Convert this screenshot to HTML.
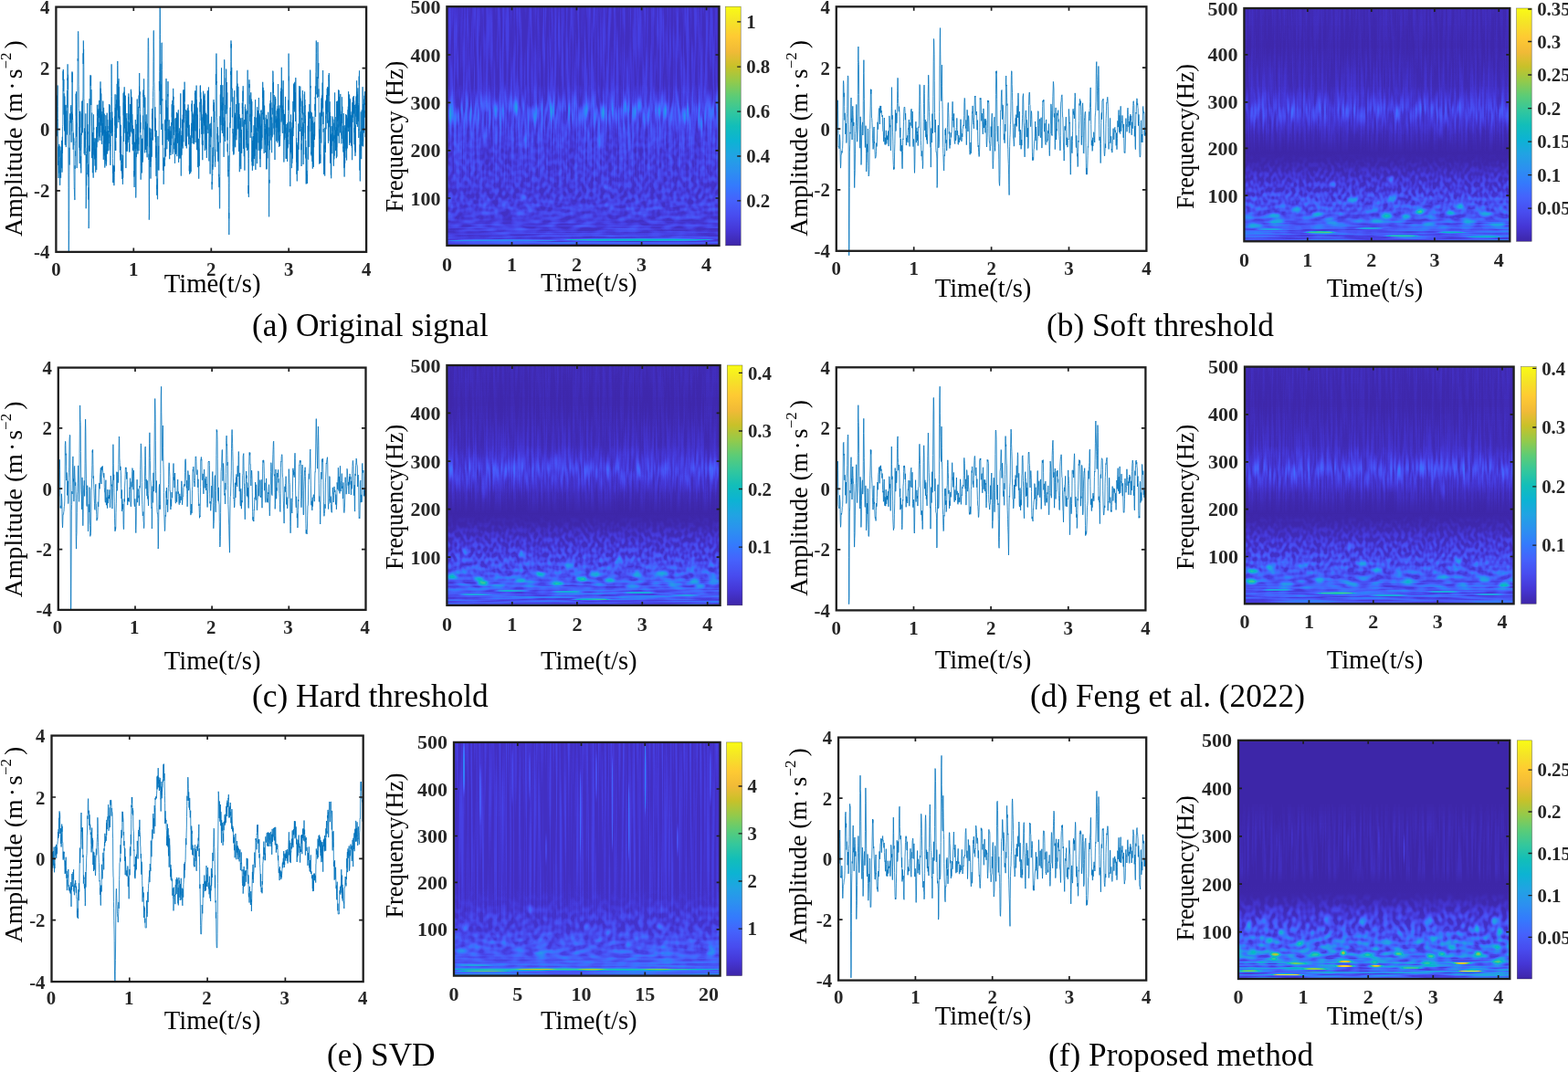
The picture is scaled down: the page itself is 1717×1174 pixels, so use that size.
<!DOCTYPE html>
<html lang="en"><head><meta charset="utf-8"><title>Signal denoising comparison</title>
<style>html,body{margin:0;padding:0;background:#fff}body{width:1717px;height:1174px;overflow:hidden}svg{display:block}text{font-family:"Liberation Serif", serif;fill:#000}.tk{font-weight:bold;font-size:20.8px;fill:#262626}.al{font-size:28.7px}.yl{font-size:27.9px}.yf{font-size:26.3px}.ts{font-size:22px}.cp{font-size:35.3px}.sg{fill:none;stroke:#0072bd;stroke-width:0.8;stroke-linejoin:round}.ax{fill:none;stroke:#1e1e1e;stroke-width:2.3}.t{stroke:#1e1e1e;stroke-width:1.7;fill:none}</style></head><body>
<svg width="1717" height="1174" viewBox="0 0 1717 1174">
<defs>
<linearGradient id="cb" x1="0" y1="1" x2="0" y2="0"><stop offset="0%" stop-color="#3e26a8"/><stop offset="6.2%" stop-color="#4536d5"/><stop offset="12.5%" stop-color="#484cef"/><stop offset="18.8%" stop-color="#4562fc"/><stop offset="25%" stop-color="#347afd"/><stop offset="31.2%" stop-color="#2c90f0"/><stop offset="37.5%" stop-color="#21a3e3"/><stop offset="43.8%" stop-color="#0cb3d3"/><stop offset="50%" stop-color="#12beb9"/><stop offset="56.2%" stop-color="#34c79c"/><stop offset="62.5%" stop-color="#5ccc76"/><stop offset="68.8%" stop-color="#94ca4a"/><stop offset="75%" stop-color="#c8c129"/><stop offset="81.2%" stop-color="#f1ba37"/><stop offset="87.5%" stop-color="#feca33"/><stop offset="93.8%" stop-color="#f5e327"/><stop offset="100%" stop-color="#f9fb15"/></linearGradient>
<filter id="pm" x="0" y="0" width="100%" height="100%" color-interpolation-filters="sRGB"><feComponentTransfer><feFuncR type="table" tableValues=".242 .258 .27 .278 .281 .28 .271 .248 .202 .18 .171 .149 .13 .102 .047 .005 .07 .155 .204 .265 .359 .466 .579 .687 .785 .872 .946 .996 .994 .978 .961 .963 .977"/><feFuncG type="table" tableValues=".15 .181 .214 .254 .298 .341 .385 .431 .479 .523 .564 .603 .639 .673 .702 .726 .746 .762 .78 .794 .802 .801 .792 .777 .757 .739 .729 .747 .792 .841 .891 .938 .984"/><feFuncB type="table" tableValues=".66 .75 .834 .896 .939 .97 .989 .998 .991 .971 .941 .913 .892 .867 .826 .778 .726 .671 .611 .541 .463 .376 .291 .214 .162 .163 .216 .234 .201 .175 .153 .126 .081"/></feComponentTransfer></filter><linearGradient id="ga" x1="0" y1="0" x2="0" y2="1"><stop offset=".002" stop-color="rgb(8,8,8)"/><stop offset=".342" stop-color="rgb(8,8,8)"/><stop offset=".412" stop-color="rgb(11,11,11)"/><stop offset=".462" stop-color="rgb(11,11,11)"/><stop offset=".522" stop-color="rgb(9,9,9)"/><stop offset=".702" stop-color="rgb(9,9,9)"/><stop offset=".802" stop-color="rgb(10,10,10)"/><stop offset=".922" stop-color="rgb(10,10,10)"/><stop offset=".982" stop-color="rgb(13,13,13)"/><stop offset=".998" stop-color="rgb(20,20,20)"/></linearGradient><linearGradient id="ea0" x1="0" y1="0" x2="0" y2="1"><stop offset=".002" stop-color="#fff" stop-opacity=".06"/><stop offset=".342" stop-color="#fff" stop-opacity=".065"/><stop offset=".402" stop-color="#fff" stop-opacity=".08"/><stop offset=".502" stop-color="#fff" stop-opacity=".09"/><stop offset=".562" stop-color="#fff" stop-opacity=".09"/><stop offset=".702" stop-color="#fff" stop-opacity=".05"/><stop offset=".802" stop-color="#fff" stop-opacity="0"/></linearGradient><filter id="fa0" x="0" y="0" width="100%" height="100%" color-interpolation-filters="sRGB"><feTurbulence type="fractalNoise" baseFrequency="0.4 0.015" numOctaves="2" seed="3"/><feColorMatrix type="matrix" values="0 0 0 0 1  0 0 0 0 1  0 0 0 0 1  3.4 0 0 0 -1.258"/><feComposite in2="SourceGraphic" operator="in"/></filter><linearGradient id="ea1" x1="0" y1="0" x2="0" y2="1"><stop offset=".322" stop-color="#fff" stop-opacity="0"/><stop offset=".392" stop-color="#fff" stop-opacity=".1"/><stop offset=".432" stop-color="#fff" stop-opacity=".2"/><stop offset=".472" stop-color="#fff" stop-opacity=".16"/><stop offset=".522" stop-color="#fff" stop-opacity=".08"/><stop offset=".602" stop-color="#fff" stop-opacity="0"/></linearGradient><filter id="fa1" x="0" y="0" width="100%" height="100%" color-interpolation-filters="sRGB"><feTurbulence type="fractalNoise" baseFrequency="0.4 0.05" numOctaves="1" seed="4"/><feColorMatrix type="matrix" values="0 0 0 0 1  0 0 0 0 1  0 0 0 0 1  3 0 0 0 -1.14"/><feComposite in2="SourceGraphic" operator="in"/></filter><linearGradient id="ea2" x1="0" y1="0" x2="0" y2="1"><stop offset=".482" stop-color="#fff" stop-opacity="0"/><stop offset=".582" stop-color="#fff" stop-opacity=".06"/><stop offset=".702" stop-color="#fff" stop-opacity=".09"/><stop offset=".802" stop-color="#fff" stop-opacity=".11"/><stop offset=".862" stop-color="#fff" stop-opacity=".06"/><stop offset=".912" stop-color="#fff" stop-opacity="0"/></linearGradient><filter id="fa2" x="0" y="0" width="100%" height="100%" color-interpolation-filters="sRGB"><feTurbulence type="fractalNoise" baseFrequency="0.24 0.16" numOctaves="1" seed="8"/><feColorMatrix type="matrix" values="0 0 0 0 1  0 0 0 0 1  0 0 0 0 1  3 0 0 0 -1.08"/><feComposite in2="SourceGraphic" operator="in"/></filter><linearGradient id="ea3" x1="0" y1="0" x2="0" y2="1"><stop offset=".782" stop-color="#fff" stop-opacity="0"/><stop offset=".842" stop-color="#fff" stop-opacity=".1"/><stop offset=".902" stop-color="#fff" stop-opacity=".12"/><stop offset=".952" stop-color="#fff" stop-opacity=".05"/><stop offset=".998" stop-color="#fff" stop-opacity="0"/></linearGradient><filter id="fa3" x="0" y="0" width="100%" height="100%" color-interpolation-filters="sRGB"><feTurbulence type="fractalNoise" baseFrequency="0.08 0.22" numOctaves="1" seed="9"/><feColorMatrix type="matrix" values="0 0 0 0 1  0 0 0 0 1  0 0 0 0 1  3 0 0 0 -1.14"/><feComposite in2="SourceGraphic" operator="in"/></filter><linearGradient id="ea4" x1="0" y1="0" x2="0" y2="1"><stop offset=".882" stop-color="#fff" stop-opacity="0"/><stop offset=".932" stop-color="#fff" stop-opacity=".08"/><stop offset=".978" stop-color="#fff" stop-opacity=".1"/><stop offset=".998" stop-color="#fff" stop-opacity=".12"/></linearGradient><filter id="fa4" x="0" y="0" width="100%" height="100%" color-interpolation-filters="sRGB"><feTurbulence type="fractalNoise" baseFrequency="0.015 0.45" numOctaves="2" seed="5"/><feColorMatrix type="matrix" values="0 0 0 0 1  0 0 0 0 1  0 0 0 0 1  3 0 0 0 -1.08"/><feComposite in2="SourceGraphic" operator="in"/></filter><linearGradient id="gb" x1="0" y1="0" x2="0" y2="1"><stop offset="0" stop-color="rgb(3,3,3)"/><stop offset=".161" stop-color="rgb(1,1,1)"/><stop offset=".322" stop-color="rgb(4,4,4)"/><stop offset=".402" stop-color="rgb(8,8,8)"/><stop offset=".432" stop-color="rgb(9,9,9)"/><stop offset=".472" stop-color="rgb(8,8,8)"/><stop offset=".543" stop-color="rgb(3,3,3)"/><stop offset=".603" stop-color="rgb(0,0,0)"/><stop offset=".663" stop-color="rgb(1,1,1)"/><stop offset=".723" stop-color="rgb(6,6,6)"/><stop offset=".804" stop-color="rgb(11,11,11)"/><stop offset=".864" stop-color="rgb(15,15,15)"/><stop offset=".924" stop-color="rgb(18,18,18)"/><stop offset="1" stop-color="rgb(20,20,20)"/></linearGradient><linearGradient id="eb0" x1="0" y1="0" x2="0" y2="1"><stop offset="0" stop-color="#fff" stop-opacity=".03"/><stop offset=".161" stop-color="#fff" stop-opacity=".02"/><stop offset=".301" stop-color="#fff" stop-opacity=".04"/><stop offset=".402" stop-color="#fff" stop-opacity=".055"/><stop offset=".502" stop-color="#fff" stop-opacity=".055"/><stop offset=".573" stop-color="#fff" stop-opacity=".025"/><stop offset=".623" stop-color="#fff" stop-opacity="0"/></linearGradient><filter id="fb0" x="0" y="0" width="100%" height="100%" color-interpolation-filters="sRGB"><feTurbulence type="fractalNoise" baseFrequency="0.4 0.015" numOctaves="2" seed="13"/><feColorMatrix type="matrix" values="0 0 0 0 1  0 0 0 0 1  0 0 0 0 1  3 0 0 0 -1.05"/><feComposite in2="SourceGraphic" operator="in"/></filter><linearGradient id="eb1" x1="0" y1="0" x2="0" y2="1"><stop offset=".332" stop-color="#fff" stop-opacity="0"/><stop offset=".402" stop-color="#fff" stop-opacity=".07"/><stop offset=".432" stop-color="#fff" stop-opacity=".12"/><stop offset=".462" stop-color="#fff" stop-opacity=".1"/><stop offset=".502" stop-color="#fff" stop-opacity=".04"/><stop offset=".547" stop-color="#fff" stop-opacity="0"/></linearGradient><filter id="fb1" x="0" y="0" width="100%" height="100%" color-interpolation-filters="sRGB"><feTurbulence type="fractalNoise" baseFrequency="0.4 0.05" numOctaves="1" seed="14"/><feColorMatrix type="matrix" values="0 0 0 0 1  0 0 0 0 1  0 0 0 0 1  3 0 0 0 -1.14"/><feComposite in2="SourceGraphic" operator="in"/></filter><linearGradient id="eb2" x1="0" y1="0" x2="0" y2="1"><stop offset=".623" stop-color="#fff" stop-opacity="0"/><stop offset=".683" stop-color="#fff" stop-opacity=".04"/><stop offset=".743" stop-color="#fff" stop-opacity=".1"/><stop offset=".804" stop-color="#fff" stop-opacity=".14"/><stop offset=".864" stop-color="#fff" stop-opacity=".1"/><stop offset=".914" stop-color="#fff" stop-opacity="0"/></linearGradient><filter id="fb2" x="0" y="0" width="100%" height="100%" color-interpolation-filters="sRGB"><feTurbulence type="fractalNoise" baseFrequency="0.26 0.18" numOctaves="1" seed="18"/><feColorMatrix type="matrix" values="0 0 0 0 1  0 0 0 0 1  0 0 0 0 1  3 0 0 0 -1.08"/><feComposite in2="SourceGraphic" operator="in"/></filter><linearGradient id="eb3" x1="0" y1="0" x2="0" y2="1"><stop offset=".784" stop-color="#fff" stop-opacity="0"/><stop offset=".844" stop-color="#fff" stop-opacity=".15"/><stop offset=".904" stop-color="#fff" stop-opacity=".25"/><stop offset=".944" stop-color="#fff" stop-opacity=".1"/><stop offset="1" stop-color="#fff" stop-opacity="0"/></linearGradient><filter id="fb3" x="0" y="0" width="100%" height="100%" color-interpolation-filters="sRGB"><feTurbulence type="fractalNoise" baseFrequency="0.08 0.2" numOctaves="1" seed="19"/><feColorMatrix type="matrix" values="0 0 0 0 1  0 0 0 0 1  0 0 0 0 1  3 0 0 0 -1.14"/><feComposite in2="SourceGraphic" operator="in"/></filter><linearGradient id="eb4" x1="0" y1="0" x2="0" y2="1"><stop offset=".884" stop-color="#fff" stop-opacity="0"/><stop offset=".924" stop-color="#fff" stop-opacity=".12"/><stop offset=".965" stop-color="#fff" stop-opacity=".2"/><stop offset="1" stop-color="#fff" stop-opacity=".18"/></linearGradient><filter id="fb4" x="0" y="0" width="100%" height="100%" color-interpolation-filters="sRGB"><feTurbulence type="fractalNoise" baseFrequency="0.015 0.45" numOctaves="2" seed="15"/><feColorMatrix type="matrix" values="0 0 0 0 1  0 0 0 0 1  0 0 0 0 1  3 0 0 0 -1.08"/><feComposite in2="SourceGraphic" operator="in"/></filter><linearGradient id="gc" x1="0" y1="0" x2="0" y2="1"><stop offset="0" stop-color="rgb(3,3,3)"/><stop offset=".16" stop-color="rgb(1,1,1)"/><stop offset=".32" stop-color="rgb(4,4,4)"/><stop offset=".4" stop-color="rgb(8,8,8)"/><stop offset=".43" stop-color="rgb(9,9,9)"/><stop offset=".47" stop-color="rgb(8,8,8)"/><stop offset=".54" stop-color="rgb(3,3,3)"/><stop offset=".6" stop-color="rgb(0,0,0)"/><stop offset=".66" stop-color="rgb(1,1,1)"/><stop offset=".72" stop-color="rgb(6,6,6)"/><stop offset=".8" stop-color="rgb(11,11,11)"/><stop offset=".86" stop-color="rgb(15,15,15)"/><stop offset=".919" stop-color="rgb(18,18,18)"/><stop offset=".995" stop-color="rgb(20,20,20)"/></linearGradient><linearGradient id="ec0" x1="0" y1="0" x2="0" y2="1"><stop offset="0" stop-color="#fff" stop-opacity=".03"/><stop offset=".16" stop-color="#fff" stop-opacity=".02"/><stop offset=".3" stop-color="#fff" stop-opacity=".04"/><stop offset=".4" stop-color="#fff" stop-opacity=".055"/><stop offset=".5" stop-color="#fff" stop-opacity=".055"/><stop offset=".57" stop-color="#fff" stop-opacity=".025"/><stop offset=".62" stop-color="#fff" stop-opacity="0"/></linearGradient><filter id="fc0" x="0" y="0" width="100%" height="100%" color-interpolation-filters="sRGB"><feTurbulence type="fractalNoise" baseFrequency="0.4 0.015" numOctaves="2" seed="23"/><feColorMatrix type="matrix" values="0 0 0 0 1  0 0 0 0 1  0 0 0 0 1  3 0 0 0 -1.05"/><feComposite in2="SourceGraphic" operator="in"/></filter><linearGradient id="ec1" x1="0" y1="0" x2="0" y2="1"><stop offset=".33" stop-color="#fff" stop-opacity="0"/><stop offset=".4" stop-color="#fff" stop-opacity=".07"/><stop offset=".43" stop-color="#fff" stop-opacity=".12"/><stop offset=".46" stop-color="#fff" stop-opacity=".1"/><stop offset=".5" stop-color="#fff" stop-opacity=".04"/><stop offset=".544" stop-color="#fff" stop-opacity="0"/></linearGradient><filter id="fc1" x="0" y="0" width="100%" height="100%" color-interpolation-filters="sRGB"><feTurbulence type="fractalNoise" baseFrequency="0.4 0.05" numOctaves="1" seed="24"/><feColorMatrix type="matrix" values="0 0 0 0 1  0 0 0 0 1  0 0 0 0 1  3 0 0 0 -1.14"/><feComposite in2="SourceGraphic" operator="in"/></filter><linearGradient id="ec2" x1="0" y1="0" x2="0" y2="1"><stop offset=".62" stop-color="#fff" stop-opacity="0"/><stop offset=".68" stop-color="#fff" stop-opacity=".04"/><stop offset=".74" stop-color="#fff" stop-opacity=".1"/><stop offset=".8" stop-color="#fff" stop-opacity=".14"/><stop offset=".86" stop-color="#fff" stop-opacity=".1"/><stop offset=".909" stop-color="#fff" stop-opacity="0"/></linearGradient><filter id="fc2" x="0" y="0" width="100%" height="100%" color-interpolation-filters="sRGB"><feTurbulence type="fractalNoise" baseFrequency="0.26 0.18" numOctaves="1" seed="28"/><feColorMatrix type="matrix" values="0 0 0 0 1  0 0 0 0 1  0 0 0 0 1  3 0 0 0 -1.08"/><feComposite in2="SourceGraphic" operator="in"/></filter><linearGradient id="ec3" x1="0" y1="0" x2="0" y2="1"><stop offset=".78" stop-color="#fff" stop-opacity="0"/><stop offset=".84" stop-color="#fff" stop-opacity=".15"/><stop offset=".899" stop-color="#fff" stop-opacity=".25"/><stop offset=".939" stop-color="#fff" stop-opacity=".1"/><stop offset=".995" stop-color="#fff" stop-opacity="0"/></linearGradient><filter id="fc3" x="0" y="0" width="100%" height="100%" color-interpolation-filters="sRGB"><feTurbulence type="fractalNoise" baseFrequency="0.08 0.2" numOctaves="1" seed="29"/><feColorMatrix type="matrix" values="0 0 0 0 1  0 0 0 0 1  0 0 0 0 1  3 0 0 0 -1.14"/><feComposite in2="SourceGraphic" operator="in"/></filter><linearGradient id="ec4" x1="0" y1="0" x2="0" y2="1"><stop offset=".879" stop-color="#fff" stop-opacity="0"/><stop offset=".919" stop-color="#fff" stop-opacity=".12"/><stop offset=".959" stop-color="#fff" stop-opacity=".2"/><stop offset=".995" stop-color="#fff" stop-opacity=".18"/></linearGradient><filter id="fc4" x="0" y="0" width="100%" height="100%" color-interpolation-filters="sRGB"><feTurbulence type="fractalNoise" baseFrequency="0.015 0.45" numOctaves="2" seed="25"/><feColorMatrix type="matrix" values="0 0 0 0 1  0 0 0 0 1  0 0 0 0 1  3 0 0 0 -1.08"/><feComposite in2="SourceGraphic" operator="in"/></filter><linearGradient id="gd" x1="0" y1="0" x2="0" y2="1"><stop offset="0" stop-color="rgb(3,3,3)"/><stop offset=".16" stop-color="rgb(1,1,1)"/><stop offset=".32" stop-color="rgb(4,4,4)"/><stop offset=".4" stop-color="rgb(8,8,8)"/><stop offset=".43" stop-color="rgb(9,9,9)"/><stop offset=".47" stop-color="rgb(8,8,8)"/><stop offset=".54" stop-color="rgb(3,3,3)"/><stop offset=".6" stop-color="rgb(0,0,0)"/><stop offset=".66" stop-color="rgb(1,1,1)"/><stop offset=".72" stop-color="rgb(6,6,6)"/><stop offset=".801" stop-color="rgb(11,11,11)"/><stop offset=".861" stop-color="rgb(15,15,15)"/><stop offset=".921" stop-color="rgb(18,18,18)"/><stop offset=".997" stop-color="rgb(20,20,20)"/></linearGradient><linearGradient id="ed0" x1="0" y1="0" x2="0" y2="1"><stop offset="0" stop-color="#fff" stop-opacity=".03"/><stop offset=".16" stop-color="#fff" stop-opacity=".02"/><stop offset=".3" stop-color="#fff" stop-opacity=".04"/><stop offset=".4" stop-color="#fff" stop-opacity=".055"/><stop offset=".5" stop-color="#fff" stop-opacity=".055"/><stop offset=".57" stop-color="#fff" stop-opacity=".025"/><stop offset=".62" stop-color="#fff" stop-opacity="0"/></linearGradient><filter id="fd0" x="0" y="0" width="100%" height="100%" color-interpolation-filters="sRGB"><feTurbulence type="fractalNoise" baseFrequency="0.4 0.015" numOctaves="2" seed="33"/><feColorMatrix type="matrix" values="0 0 0 0 1  0 0 0 0 1  0 0 0 0 1  3 0 0 0 -1.05"/><feComposite in2="SourceGraphic" operator="in"/></filter><linearGradient id="ed1" x1="0" y1="0" x2="0" y2="1"><stop offset=".33" stop-color="#fff" stop-opacity="0"/><stop offset=".4" stop-color="#fff" stop-opacity=".07"/><stop offset=".43" stop-color="#fff" stop-opacity=".12"/><stop offset=".46" stop-color="#fff" stop-opacity=".1"/><stop offset=".5" stop-color="#fff" stop-opacity=".04"/><stop offset=".544" stop-color="#fff" stop-opacity="0"/></linearGradient><filter id="fd1" x="0" y="0" width="100%" height="100%" color-interpolation-filters="sRGB"><feTurbulence type="fractalNoise" baseFrequency="0.4 0.05" numOctaves="1" seed="34"/><feColorMatrix type="matrix" values="0 0 0 0 1  0 0 0 0 1  0 0 0 0 1  3 0 0 0 -1.14"/><feComposite in2="SourceGraphic" operator="in"/></filter><linearGradient id="ed2" x1="0" y1="0" x2="0" y2="1"><stop offset=".62" stop-color="#fff" stop-opacity="0"/><stop offset=".68" stop-color="#fff" stop-opacity=".04"/><stop offset=".74" stop-color="#fff" stop-opacity=".1"/><stop offset=".801" stop-color="#fff" stop-opacity=".14"/><stop offset=".861" stop-color="#fff" stop-opacity=".1"/><stop offset=".911" stop-color="#fff" stop-opacity="0"/></linearGradient><filter id="fd2" x="0" y="0" width="100%" height="100%" color-interpolation-filters="sRGB"><feTurbulence type="fractalNoise" baseFrequency="0.26 0.18" numOctaves="1" seed="38"/><feColorMatrix type="matrix" values="0 0 0 0 1  0 0 0 0 1  0 0 0 0 1  3 0 0 0 -1.08"/><feComposite in2="SourceGraphic" operator="in"/></filter><linearGradient id="ed3" x1="0" y1="0" x2="0" y2="1"><stop offset=".781" stop-color="#fff" stop-opacity="0"/><stop offset=".841" stop-color="#fff" stop-opacity=".15"/><stop offset=".901" stop-color="#fff" stop-opacity=".25"/><stop offset=".941" stop-color="#fff" stop-opacity=".1"/><stop offset=".997" stop-color="#fff" stop-opacity="0"/></linearGradient><filter id="fd3" x="0" y="0" width="100%" height="100%" color-interpolation-filters="sRGB"><feTurbulence type="fractalNoise" baseFrequency="0.08 0.2" numOctaves="1" seed="39"/><feColorMatrix type="matrix" values="0 0 0 0 1  0 0 0 0 1  0 0 0 0 1  3 0 0 0 -1.14"/><feComposite in2="SourceGraphic" operator="in"/></filter><linearGradient id="ed4" x1="0" y1="0" x2="0" y2="1"><stop offset=".881" stop-color="#fff" stop-opacity="0"/><stop offset=".921" stop-color="#fff" stop-opacity=".12"/><stop offset=".961" stop-color="#fff" stop-opacity=".2"/><stop offset=".997" stop-color="#fff" stop-opacity=".18"/></linearGradient><filter id="fd4" x="0" y="0" width="100%" height="100%" color-interpolation-filters="sRGB"><feTurbulence type="fractalNoise" baseFrequency="0.015 0.45" numOctaves="2" seed="35"/><feColorMatrix type="matrix" values="0 0 0 0 1  0 0 0 0 1  0 0 0 0 1  3 0 0 0 -1.08"/><feComposite in2="SourceGraphic" operator="in"/></filter><linearGradient id="ge" x1="0" y1="0" x2="0" y2="1"><stop offset="0" stop-color="rgb(9,9,9)"/><stop offset=".601" stop-color="rgb(9,9,9)"/><stop offset=".741" stop-color="rgb(10,10,10)"/><stop offset=".801" stop-color="rgb(13,13,13)"/><stop offset=".881" stop-color="rgb(18,18,18)"/><stop offset=".942" stop-color="rgb(26,26,26)"/><stop offset=".974" stop-color="rgb(36,36,36)"/><stop offset=".998" stop-color="rgb(41,41,41)"/></linearGradient><linearGradient id="ee0" x1="0" y1="0" x2="0" y2="1"><stop offset="0" stop-color="#fff" stop-opacity=".07"/><stop offset=".601" stop-color="#fff" stop-opacity=".06"/><stop offset=".741" stop-color="#fff" stop-opacity=".04"/><stop offset=".801" stop-color="#fff" stop-opacity="0"/></linearGradient><filter id="fe0" x="0" y="0" width="100%" height="100%" color-interpolation-filters="sRGB"><feTurbulence type="fractalNoise" baseFrequency="0.45 0.006" numOctaves="2" seed="43"/><feColorMatrix type="matrix" values="0 0 0 0 1  0 0 0 0 1  0 0 0 0 1  3 0 0 0 -1.2"/><feComposite in2="SourceGraphic" operator="in"/></filter><linearGradient id="ee1" x1="0" y1="0" x2="0" y2="1"><stop offset=".621" stop-color="#fff" stop-opacity="0"/><stop offset=".701" stop-color="#fff" stop-opacity=".04"/><stop offset=".761" stop-color="#fff" stop-opacity=".1"/><stop offset=".821" stop-color="#fff" stop-opacity=".12"/><stop offset=".881" stop-color="#fff" stop-opacity=".08"/><stop offset=".922" stop-color="#fff" stop-opacity="0"/></linearGradient><filter id="fe1" x="0" y="0" width="100%" height="100%" color-interpolation-filters="sRGB"><feTurbulence type="fractalNoise" baseFrequency="0.2 0.14" numOctaves="1" seed="48"/><feColorMatrix type="matrix" values="0 0 0 0 1  0 0 0 0 1  0 0 0 0 1  3 0 0 0 -1.08"/><feComposite in2="SourceGraphic" operator="in"/></filter><linearGradient id="ee2" x1="0" y1="0" x2="0" y2="1"><stop offset=".801" stop-color="#fff" stop-opacity="0"/><stop offset=".851" stop-color="#fff" stop-opacity=".12"/><stop offset=".901" stop-color="#fff" stop-opacity=".18"/><stop offset=".942" stop-color="#fff" stop-opacity=".1"/><stop offset=".998" stop-color="#fff" stop-opacity="0"/></linearGradient><filter id="fe2" x="0" y="0" width="100%" height="100%" color-interpolation-filters="sRGB"><feTurbulence type="fractalNoise" baseFrequency="0.08 0.2" numOctaves="1" seed="49"/><feColorMatrix type="matrix" values="0 0 0 0 1  0 0 0 0 1  0 0 0 0 1  3 0 0 0 -1.14"/><feComposite in2="SourceGraphic" operator="in"/></filter><linearGradient id="ee3" x1="0" y1="0" x2="0" y2="1"><stop offset=".901" stop-color="#fff" stop-opacity="0"/><stop offset=".932" stop-color="#fff" stop-opacity=".1"/><stop offset=".97" stop-color="#fff" stop-opacity=".15"/><stop offset=".998" stop-color="#fff" stop-opacity=".15"/></linearGradient><filter id="fe3" x="0" y="0" width="100%" height="100%" color-interpolation-filters="sRGB"><feTurbulence type="fractalNoise" baseFrequency="0.012 0.45" numOctaves="2" seed="45"/><feColorMatrix type="matrix" values="0 0 0 0 1  0 0 0 0 1  0 0 0 0 1  3 0 0 0 -1.08"/><feComposite in2="SourceGraphic" operator="in"/></filter><linearGradient id="gf" x1="0" y1="0" x2="0" y2="1"><stop offset="0" stop-color="rgb(0,0,0)"/><stop offset=".602" stop-color="rgb(0,0,0)"/><stop offset=".663" stop-color="rgb(1,1,1)"/><stop offset=".723" stop-color="rgb(6,6,6)"/><stop offset=".803" stop-color="rgb(13,13,13)"/><stop offset=".863" stop-color="rgb(18,18,18)"/><stop offset=".924" stop-color="rgb(20,20,20)"/><stop offset="1" stop-color="rgb(20,20,20)"/></linearGradient><linearGradient id="ef0" x1="0" y1="0" x2="0" y2="1"><stop offset="0" stop-color="#fff" stop-opacity="0"/><stop offset=".261" stop-color="#fff" stop-opacity="0"/><stop offset=".361" stop-color="#fff" stop-opacity=".03"/><stop offset=".542" stop-color="#fff" stop-opacity=".03"/><stop offset=".602" stop-color="#fff" stop-opacity="0"/><stop offset="1" stop-color="#fff" stop-opacity="0"/></linearGradient><filter id="ff0" x="0" y="0" width="100%" height="100%" color-interpolation-filters="sRGB"><feTurbulence type="fractalNoise" baseFrequency="0.35 0.012" numOctaves="2" seed="53"/><feColorMatrix type="matrix" values="0 0 0 0 1  0 0 0 0 1  0 0 0 0 1  3 0 0 0 -1.14"/><feComposite in2="SourceGraphic" operator="in"/></filter><linearGradient id="ef1" x1="0" y1="0" x2="0" y2="1"><stop offset=".633" stop-color="#fff" stop-opacity="0"/><stop offset=".683" stop-color="#fff" stop-opacity=".05"/><stop offset=".743" stop-color="#fff" stop-opacity=".14"/><stop offset=".803" stop-color="#fff" stop-opacity=".2"/><stop offset=".863" stop-color="#fff" stop-opacity=".14"/><stop offset=".914" stop-color="#fff" stop-opacity="0"/></linearGradient><filter id="ff1" x="0" y="0" width="100%" height="100%" color-interpolation-filters="sRGB"><feTurbulence type="fractalNoise" baseFrequency="0.2 0.14" numOctaves="1" seed="58"/><feColorMatrix type="matrix" values="0 0 0 0 1  0 0 0 0 1  0 0 0 0 1  3 0 0 0 -1.08"/><feComposite in2="SourceGraphic" operator="in"/></filter><linearGradient id="ef2" x1="0" y1="0" x2="0" y2="1"><stop offset=".783" stop-color="#fff" stop-opacity="0"/><stop offset=".843" stop-color="#fff" stop-opacity=".22"/><stop offset=".904" stop-color="#fff" stop-opacity=".36"/><stop offset=".944" stop-color="#fff" stop-opacity=".2"/><stop offset="1" stop-color="#fff" stop-opacity="0"/></linearGradient><filter id="ff2" x="0" y="0" width="100%" height="100%" color-interpolation-filters="sRGB"><feTurbulence type="fractalNoise" baseFrequency="0.08 0.2" numOctaves="1" seed="59"/><feColorMatrix type="matrix" values="0 0 0 0 1  0 0 0 0 1  0 0 0 0 1  3 0 0 0 -1.14"/><feComposite in2="SourceGraphic" operator="in"/></filter><linearGradient id="ef3" x1="0" y1="0" x2="0" y2="1"><stop offset=".884" stop-color="#fff" stop-opacity="0"/><stop offset=".924" stop-color="#fff" stop-opacity=".2"/><stop offset=".964" stop-color="#fff" stop-opacity=".34"/><stop offset="1" stop-color="#fff" stop-opacity=".3"/></linearGradient><filter id="ff3" x="0" y="0" width="100%" height="100%" color-interpolation-filters="sRGB"><feTurbulence type="fractalNoise" baseFrequency="0.015 0.45" numOctaves="2" seed="55"/><feColorMatrix type="matrix" values="0 0 0 0 1  0 0 0 0 1  0 0 0 0 1  3 0 0 0 -1.08"/><feComposite in2="SourceGraphic" operator="in"/></filter><filter id="bl" x="-20%" y="-20%" width="140%" height="140%"><feGaussianBlur stdDeviation="1.6"/></filter><filter id="bv" x="-20%" y="-20%" width="140%" height="140%"><feGaussianBlur stdDeviation="0.6 5"/></filter><filter id="bw" x="-20%" y="-20%" width="140%" height="140%"><feGaussianBlur stdDeviation="1.1 3"/></filter><filter id="bs" x="-20%" y="-20%" width="140%" height="140%"><feGaussianBlur stdDeviation="2.5 0.7"/></filter>
</defs>
<g id="plot-a">
<clipPath id="ca"><rect x="61.4" y="7.6" width="339.7" height="268.3"/></clipPath>
<path class="sg" clip-path="url(#ca)" d="M61.4,123.3L61.5,109L61.6,112.6L61.7,138.3L61.9,138.2L62,143.4L62.1,129.6L62.2,136.6L62.3,117.7L62.4,149.2L62.5,104.6L62.6,122.4L62.8,104.5L62.9,104.2L63,99.1L63.1,93.5L63.2,94.3L63.3,116.3L63.4,129.3L63.6,133.2L63.7,166.3L63.8,181L63.9,160.6L64,179.1L64.1,195L64.2,182L64.3,176L64.5,185L64.6,189.5L64.7,170.7L64.8,157.9L64.9,168.2L65,171.8L65.1,159.9L65.3,165.3L65.4,196.2L65.5,202.8L65.6,202.8L65.7,202.8L65.8,202.8L65.9,196L66,189.7L66.2,172.5L66.3,194L66.4,186.5L66.5,187.9L66.6,194.8L66.7,171L66.8,164.7L67,183.3L67.1,160.8L67.2,164.9L67.3,159.8L67.4,159.3L67.5,153.9L67.6,184.2L67.7,160.8L67.9,160.7L68,188.7L68.1,162.8L68.2,167.8L68.3,149.8L68.4,164.5L68.5,154.1L68.6,138.5L68.8,136.2L68.9,95.5L69,86L69.1,77.8L69.2,87.8L69.3,76L69.4,85.7L69.6,99.9L69.7,96.9L69.8,93.6L69.9,86.8L70,125.5L70.1,102.3L70.2,114.6L70.3,126.8L70.5,142.2L70.6,114.6L70.7,143.5L70.8,115.3L70.9,105.4L71,141.6L71.1,130.9L71.3,158.7L71.4,148.8L71.5,129.7L71.6,115.3L71.7,156L71.8,136.6L71.9,122.4L72,114.9L72.2,134.4L72.3,161.1L72.4,157.6L72.5,158.6L72.6,155.3L72.7,150.4L72.8,125.3L73,121.4L73.1,127.3L73.2,132.1L73.3,147.5L73.4,132.7L73.5,99L73.6,105.3L73.7,117.8L73.9,85.6L74,88.1L74.1,70.3L74.2,83.5L74.3,86.2L74.4,97.9L74.5,81.8L74.7,85.4L74.8,146.2L74.9,179.9L75,205.5L75.1,246.9L75.2,268.3L75.3,279.3L75.4,273.2L75.6,252.4L75.7,230.5L75.8,191.7L75.9,188.3L76,161.7L76.1,180.5L76.2,165.7L76.4,132.2L76.5,147.5L76.6,127.7L76.7,131.2L76.8,125.4L76.9,130.4L77,124L77.1,134L77.3,134.5L77.4,125.8L77.5,116.8L77.6,121.2L77.7,117L77.8,115.1L77.9,116.7L78.1,131.6L78.2,155.8L78.3,126.8L78.4,122.6L78.5,123.4L78.6,138.3L78.7,144L78.8,125.9L79,78.4L79.1,90.1L79.2,79.4L79.3,86L79.4,131L79.5,124.8L79.6,129.6L79.7,130.6L79.9,134.5L80,142.6L80.1,142.8L80.2,163.8L80.3,145.4L80.4,154.4L80.5,146.5L80.7,159.1L80.8,151.3L80.9,164.1L81,184.6L81.1,191.1L81.2,198.8L81.3,206.7L81.4,206.3L81.6,215.3L81.7,216.7L81.8,218.9L81.9,218.9L82,218.9L82.1,181.3L82.2,184.9L82.4,173.1L82.5,165.4L82.6,170.8L82.7,155.5L82.8,155.8L82.9,148.6L83,135.5L83.1,102.7L83.3,114.4L83.4,126.7L83.5,115.2L83.6,138.4L83.7,100.3L83.8,149.6L83.9,134.5L84.1,148.9L84.2,184.1L84.3,160.9L84.4,147.9L84.5,147.1L84.6,142.6L84.7,121.2L84.8,111.8L85,91.1L85.1,80.9L85.2,64.2L85.3,66.8L85.4,36.6L85.5,34.4L85.6,34.4L85.8,34.4L85.9,39.6L86,59.9L86.1,92.7L86.2,94.3L86.3,118.4L86.4,121.5L86.5,124.2L86.7,161.6L86.8,139L86.9,164.1L87,165.7L87.1,178.2L87.2,179L87.3,169.3L87.5,139.5L87.6,122.4L87.7,139.8L87.8,121.6L87.9,141.9L88,164.9L88.1,145.8L88.2,159.8L88.4,184.1L88.5,177.3L88.6,171.2L88.7,182.1L88.8,189.5L88.9,173.3L89,164.6L89.2,158.5L89.3,137.9L89.4,124.2L89.5,148L89.6,125.8L89.7,115.7L89.8,114.7L89.9,110.8L90.1,131.2L90.2,118.8L90.3,110.3L90.4,130.5L90.5,145.3L90.6,123.6L90.7,109.4L90.9,107.2L91,100.2L91.1,58.3L91.2,70L91.3,44.5L91.4,45.6L91.5,60.1L91.6,53.9L91.8,73.7L91.9,110L92,109.8L92.1,139.4L92.2,168.4L92.3,155.7L92.4,144L92.5,140.5L92.7,148.9L92.8,156L92.9,156.2L93,170L93.1,150.7L93.2,161.6L93.3,157L93.5,144.1L93.6,152.7L93.7,147.5L93.8,124.4L93.9,156.4L94,187.9L94.1,204L94.2,228.3L94.4,218.8L94.5,214.5L94.6,189.7L94.7,203.3L94.8,169.1L94.9,187.5L95,191L95.2,166.1L95.3,167.5L95.4,162.2L95.5,178.5L95.6,160.7L95.7,113L95.8,166.1L95.9,136.2L96.1,146.9L96.2,144.2L96.3,185.2L96.4,191.4L96.5,182.2L96.6,193.4L96.7,179.9L96.9,212L97,218.6L97.1,205.4L97.2,250.1L97.3,241.5L97.4,212.4L97.5,189.8L97.6,160.1L97.8,159.6L97.9,164.6L98,143.4L98.1,108.2L98.2,120.9L98.3,165.9L98.4,121L98.6,118L98.7,83.3L98.8,82.4L98.9,82.4L99,82.4L99.1,82.4L99.2,85.9L99.3,93.9L99.5,90.9L99.6,82.7L99.7,98L99.8,115L99.9,98.1L100,113.2L100.1,122.4L100.3,137.1L100.4,138.3L100.5,143.5L100.6,173.1L100.7,123.6L100.8,131L100.9,149.3L101,147.1L101.2,164.7L101.3,162.7L101.4,189.2L101.5,160.5L101.6,154.5L101.7,145L101.8,147.7L102,160.5L102.1,190.9L102.2,194.7L102.3,147.5L102.4,141.4L102.5,125.4L102.6,142.1L102.7,139.6L102.9,169.4L103,151.2L103.1,164.1L103.2,155.6L103.3,157.9L103.4,170.5L103.5,168.9L103.7,174.1L103.8,163L103.9,165.2L104,180.2L104.1,181.6L104.2,151.7L104.3,174.9L104.4,164.4L104.6,176.5L104.7,188.7L104.8,188.4L104.9,171.6L105,161.6L105.1,151.3L105.2,173L105.3,164.8L105.5,162.1L105.6,139.1L105.7,186.1L105.8,150.2L105.9,161.3L106,143.6L106.1,150.1L106.3,134.7L106.4,114.8L106.5,127L106.6,124L106.7,127.2L106.8,145.5L106.9,129.5L107,142.5L107.2,155.5L107.3,144.4L107.4,141.9L107.5,121.3L107.6,127.8L107.7,138L107.8,119.4L108,125.6L108.1,114.5L108.2,117.4L108.3,126.2L108.4,129.1L108.5,124.6L108.6,109.9L108.7,124.6L108.9,149.2L109,134.1L109.1,153.8L109.2,133.9L109.3,150.6L109.4,144.4L109.5,119.2L109.7,122.3L109.8,145L109.9,109.1L110,89.4L110.1,132.6L110.2,96.8L110.3,131.1L110.4,129.1L110.6,123.6L110.7,137.5L110.8,102.4L110.9,114.1L111,133.1L111.1,131.6L111.2,154L111.4,142.7L111.5,125.5L111.6,157.9L111.7,137.5L111.8,129.8L111.9,122.1L112,122.3L112.1,145.9L112.3,148.5L112.4,135L112.5,146.8L112.6,144L112.7,121.3L112.8,110.6L112.9,129.1L113.1,141.3L113.2,139L113.3,174.8L113.4,154.3L113.5,166.5L113.6,117.9L113.7,139.1L113.8,146L114,142.7L114.1,170.5L114.2,128.6L114.3,124.6L114.4,168.9L114.5,159.9L114.6,159.4L114.8,183.6L114.9,149.1L115,142L115.1,156.2L115.2,156.7L115.3,142.6L115.4,175.5L115.5,159.5L115.7,138.2L115.8,157.3L115.9,126.2L116,150.5L116.1,179.6L116.2,165.2L116.3,181.6L116.4,163.1L116.6,177L116.7,143.9L116.8,165.5L116.9,147.6L117,153.3L117.1,144.1L117.2,123.7L117.4,142.3L117.5,156.9L117.6,168.5L117.7,131L117.8,132.8L117.9,149.1L118,145.3L118.1,160.9L118.3,159.6L118.4,156.4L118.5,143.2L118.6,148.8L118.7,165.3L118.8,146.3L118.9,149.3L119.1,157.1L119.2,138L119.3,141.5L119.4,126.4L119.5,114.4L119.6,122.4L119.7,114.1L119.8,144.9L120,115.3L120.1,150.5L120.2,147.9L120.3,164.5L120.4,134.1L120.5,123.1L120.6,133.6L120.8,146.9L120.9,180.9L121,170.6L121.1,159.3L121.2,159.6L121.3,131.6L121.4,145.8L121.5,145.4L121.7,123.2L121.8,123.5L121.9,105.7L122,91.3L122.1,70.3L122.2,81.2L122.3,95L122.5,105.4L122.6,148.9L122.7,136.6L122.8,122.5L122.9,145L123,142.9L123.1,129.3L123.2,134L123.4,144.6L123.5,173.4L123.6,190L123.7,180.4L123.8,200.1L123.9,192.9L124,181.4L124.2,200.1L124.3,200.1L124.4,192.3L124.5,183.4L124.6,183.8L124.7,187.6L124.8,182.2L124.9,203.2L125.1,194.4L125.2,181.4L125.3,187.9L125.4,182.3L125.5,165.4L125.6,145.5L125.7,127.6L125.9,137.4L126,119.4L126.1,103.3L126.2,129.2L126.3,118L126.4,139.8L126.5,164.8L126.6,154.8L126.8,164.8L126.9,134.3L127,150.9L127.1,114.2L127.2,121.7L127.3,150.7L127.4,114L127.6,109.4L127.7,140.1L127.8,114.2L127.9,140.5L128,103.7L128.1,120.6L128.2,91.9L128.3,114.7L128.5,118.1L128.6,71.6L128.7,67L128.8,67L128.9,67L129,74.2L129.1,92.1L129.2,91.5L129.4,88.9L129.5,129L129.6,110.3L129.7,114.1L129.8,134.1L129.9,92.8L130,86.2L130.2,120.3L130.3,95.2L130.4,121.3L130.5,128.2L130.6,109.4L130.7,128.3L130.8,130.7L130.9,116.2L131.1,120.4L131.2,132.3L131.3,167.2L131.4,166.3L131.5,127.6L131.6,163.8L131.7,161.7L131.9,175.7L132,160.1L132.1,172.2L132.2,136.7L132.3,174.6L132.4,166L132.5,166.9L132.6,149.1L132.8,187.1L132.9,175.9L133,178.2L133.1,169.1L133.2,173.3L133.3,187.7L133.4,180.7L133.6,189.8L133.7,183.1L133.8,191.7L133.9,196L134,186.1L134.1,185.7L134.2,173.4L134.3,201.8L134.5,201.8L134.6,170L134.7,194.7L134.8,170L134.9,150.9L135,133.6L135.1,102.1L135.3,126.3L135.4,112.5L135.5,128.2L135.6,155.1L135.7,148.1L135.8,100.7L135.9,106.8L136,124.1L136.2,95.3L136.3,130.1L136.4,104.1L136.5,107.2L136.6,137L136.7,140.4L136.8,117.2L137,145.7L137.1,114.4L137.2,131.5L137.3,104.7L137.4,120.5L137.5,138.3L137.6,158L137.7,153.8L137.9,184.1L138,164.1L138.1,160.2L138.2,140.7L138.3,165.3L138.4,129.4L138.5,157.5L138.7,165.6L138.8,129.3L138.9,124L139,151.1L139.1,163.6L139.2,154L139.3,165.5L139.4,165.7L139.6,144.4L139.7,154.4L139.8,151.4L139.9,149.2L140,156.2L140.1,139.4L140.2,132.7L140.3,146.6L140.5,139L140.6,106.1L140.7,126.2L140.8,131L140.9,102.4L141,133.9L141.1,153.1L141.3,134.1L141.4,163.5L141.5,165.9L141.6,157.4L141.7,160.9L141.8,166.7L141.9,163.8L142,157.7L142.2,124.7L142.3,147.1L142.4,147.4L142.5,114.4L142.6,149.5L142.7,121.7L142.8,114L143,126.2L143.1,144.5L143.2,119.5L143.3,109.4L143.4,97.8L143.5,107.4L143.6,99.9L143.7,100.8L143.9,134.4L144,106.1L144.1,127.5L144.2,144.2L144.3,143.6L144.4,107.1L144.5,110.3L144.7,146.2L144.8,125.1L144.9,130.8L145,131.6L145.1,136.9L145.2,158.2L145.3,137.5L145.4,164L145.6,160.4L145.7,165.1L145.8,165.3L145.9,143.2L146,145.9L146.1,159.9L146.2,164.5L146.4,157.5L146.5,141.2L146.6,158.6L146.7,167.2L146.8,186.3L146.9,193.6L147,187L147.1,205L147.3,166.6L147.4,191.5L147.5,185.1L147.6,155.7L147.7,163.1L147.8,157.2L147.9,156.1L148.1,165.5L148.2,143.3L148.3,131.1L148.4,162.9L148.5,147.3L148.6,209.9L148.7,216.5L148.8,216.5L149,208.9L149.1,176L149.2,174.7L149.3,167.3L149.4,171.9L149.5,156.8L149.6,152.6L149.8,157.7L149.9,135.9L150,147.6L150.1,163.1L150.2,108.5L150.3,159.2L150.4,164.9L150.5,126.6L150.7,125.5L150.8,159.8L150.9,168.6L151,164.4L151.1,135L151.2,145.1L151.3,139.7L151.5,127.2L151.6,116.9L151.7,158.1L151.8,150.5L151.9,165.1L152,110.9L152.1,104.5L152.2,105.8L152.4,113L152.5,94.6L152.6,118.1L152.7,80L152.8,100L152.9,102.5L153,101.4L153.1,103.6L153.3,100.4L153.4,107.6L153.5,122.5L153.6,145.2L153.7,125.6L153.8,141.4L153.9,134.2L154.1,170.1L154.2,196.7L154.3,177.7L154.4,147.9L154.5,169.5L154.6,175.4L154.7,163.2L154.8,169.9L155,170.8L155.1,181.2L155.2,174.3L155.3,174.9L155.4,187.2L155.5,189.4L155.6,167.9L155.8,152.2L155.9,157.8L156,166.5L156.1,174.6L156.2,151.5L156.3,177.6L156.4,153.3L156.5,126.5L156.7,141.6L156.8,131L156.9,113.5L157,98.4L157.1,106.1L157.2,101.7L157.3,102.9L157.5,117.2L157.6,86.3L157.7,97.2L157.8,117.7L157.9,104L158,136.5L158.1,143.2L158.2,144.5L158.4,167.4L158.5,140.6L158.6,164.3L158.7,129.4L158.8,118.8L158.9,106.6L159,119.8L159.2,140.9L159.3,154.7L159.4,163.9L159.5,147.4L159.6,158.4L159.7,133.4L159.8,146.1L159.9,145L160.1,153.5L160.2,125.4L160.3,167.1L160.4,153.4L160.5,145.4L160.6,138.6L160.7,143.2L160.9,147.6L161,142.8L161.1,172.3L161.2,147.4L161.3,160.1L161.4,135.5L161.5,150.5L161.6,140.9L161.8,118.1L161.9,85.6L162,75.2L162.1,57.6L162.2,41.8L162.3,41.8L162.4,41.8L162.6,41.8L162.7,51.3L162.8,69L162.9,96.6L163,175L163.1,168.7L163.2,214.3L163.3,240.7L163.5,233.2L163.6,172.8L163.7,164.5L163.8,153.5L163.9,139.8L164,161.3L164.1,140.9L164.3,152.9L164.4,154.6L164.5,160.1L164.6,177.2L164.7,145.1L164.8,182.9L164.9,170.3L165,195.6L165.2,168.6L165.3,176.9L165.4,155L165.5,150.9L165.6,169.9L165.7,157.5L165.8,144.4L165.9,141.3L166.1,168.8L166.2,171.8L166.3,148.6L166.4,130.3L166.5,124.2L166.6,130.4L166.7,118.9L166.9,125.7L167,131.2L167.1,153.1L167.2,141.1L167.3,149L167.4,153.5L167.5,106.5L167.6,99.3L167.8,93.4L167.9,67.7L168,61L168.1,45.2L168.2,34.5L168.3,33.4L168.4,51L168.6,58L168.7,61.9L168.8,89.6L168.9,90.8L169,97.8L169.1,100.3L169.2,112L169.3,124.9L169.5,143.3L169.6,128.7L169.7,133.1L169.8,139.9L169.9,117.2L170,130.1L170.1,149.9L170.3,129.7L170.4,155.9L170.5,145.7L170.6,172.7L170.7,159.7L170.8,176.7L170.9,181.2L171,192.9L171.2,142.8L171.3,170.7L171.4,167.1L171.5,160L171.6,189.3L171.7,195.8L171.8,213.8L172,202.5L172.1,207.1L172.2,195.5L172.3,198.9L172.4,218.2L172.5,218.2L172.6,218.2L172.7,181.9L172.9,166.8L173,149.1L173.1,171.4L173.2,186.1L173.3,170.3L173.4,166.4L173.5,168.6L173.7,159.8L173.8,172.9L173.9,186.6L174,177.7L174.1,156.8L174.2,142.1L174.3,131.3L174.4,89L174.6,99.4L174.7,78.4L174.8,70L174.9,43.5L175,19.8L175.1,4.2L175.2,4.2L175.4,14L175.5,37.8L175.6,78.1L175.7,115.1L175.8,69.9L175.9,88.6L176,101.1L176.1,124.8L176.3,121.8L176.4,92.5L176.5,142L176.6,99L176.7,77L176.8,74L176.9,53.3L177,46.8L177.2,46.8L177.3,46.8L177.4,66.2L177.5,69L177.6,76.7L177.7,110.3L177.8,108.4L178,139.1L178.1,158.8L178.2,135.6L178.3,145L178.4,151.6L178.5,177.7L178.6,185.7L178.7,186.8L178.9,179.1L179,172.4L179.1,176.7L179.2,201.8L179.3,190.7L179.4,188.9L179.5,180L179.7,176L179.8,179.3L179.9,173.4L180,181.4L180.1,178.7L180.2,182.2L180.3,162.9L180.4,161.9L180.6,175.3L180.7,131.8L180.8,143.1L180.9,130.7L181,144.5L181.1,144.9L181.2,149.2L181.4,160.4L181.5,165.8L181.6,171.4L181.7,109.7L181.8,134.2L181.9,102.1L182,86.1L182.1,99.3L182.3,113.7L182.4,128.4L182.5,135.8L182.6,152.9L182.7,117.4L182.8,163.3L182.9,141L183.1,147.5L183.2,153L183.3,143.1L183.4,118.3L183.5,132.5L183.6,123.6L183.7,103L183.8,105.6L184,89.2L184.1,97.3L184.2,114.7L184.3,137.6L184.4,138.6L184.5,140.8L184.6,154.6L184.8,141.5L184.9,150.5L185,150.9L185.1,152.4L185.2,131.3L185.3,148.9L185.4,145.6L185.5,167.9L185.7,174.2L185.8,158.8L185.9,143.5L186,152.1L186.1,152.4L186.2,138.3L186.3,148.9L186.5,166.6L186.6,156.5L186.7,155.3L186.8,148.8L186.9,170L187,157.8L187.1,143.4L187.2,148.1L187.4,159L187.5,155.6L187.6,147L187.7,143.4L187.8,134.1L187.9,140.5L188,151.6L188.2,114.2L188.3,128.3L188.4,124.9L188.5,123.1L188.6,137.2L188.7,121.4L188.8,114.4L188.9,109.9L189.1,126.5L189.2,168.8L189.3,130.6L189.4,119.6L189.5,105.1L189.6,114.3L189.7,96.9L189.8,108.9L190,106L190.1,108.5L190.2,141.4L190.3,115.4L190.4,126.1L190.5,148L190.6,139.1L190.8,147.7L190.9,163.2L191,156.7L191.1,159L191.2,155.4L191.3,166.7L191.4,153.3L191.5,178.9L191.7,151.5L191.8,163.8L191.9,141.5L192,129.7L192.1,140L192.2,143.8L192.3,144.7L192.5,129.6L192.6,168.8L192.7,143L192.8,166.9L192.9,143L193,129.2L193.1,144.2L193.2,132.9L193.4,122.9L193.5,143.3L193.6,135.6L193.7,149.2L193.8,171.2L193.9,146.5L194,152.3L194.2,123.9L194.3,155.9L194.4,125.8L194.5,156.8L194.6,125L194.7,146.8L194.8,150.6L194.9,143.2L195.1,136.2L195.2,125.8L195.3,120.3L195.4,147.1L195.5,156.6L195.6,177.9L195.7,157.8L195.9,146L196,147.4L196.1,147.5L196.2,153.2L196.3,159L196.4,154.6L196.5,143.8L196.6,170.7L196.8,140.4L196.9,173.7L197,162.4L197.1,173.2L197.2,165.7L197.3,162.9L197.4,151.1L197.6,129.6L197.7,140.1L197.8,102.3L197.9,147.2L198,158.3L198.1,163.2L198.2,175.5L198.3,192.6L198.5,164L198.6,148.2L198.7,168.7L198.8,152.5L198.9,170.2L199,153.3L199.1,145.2L199.3,143.2L199.4,145.9L199.5,160.2L199.6,130.8L199.7,141.7L199.8,134.2L199.9,138.4L200,155.8L200.2,162.5L200.3,125.7L200.4,139.2L200.5,128.6L200.6,124.8L200.7,98.5L200.8,118.7L200.9,155.4L201.1,120.5L201.2,101.1L201.3,104.8L201.4,134.2L201.5,119.9L201.6,107.9L201.7,98.3L201.9,102.8L202,111.4L202.1,89.7L202.2,94.2L202.3,120.6L202.4,114.3L202.5,114.3L202.6,127.8L202.8,130.7L202.9,136.1L203,143.9L203.1,151.1L203.2,159.8L203.3,127.5L203.4,120.4L203.6,124.2L203.7,158.3L203.8,159.3L203.9,141.1L204,142.8L204.1,159.5L204.2,151.9L204.3,162.4L204.5,132.3L204.6,139L204.7,121.1L204.8,121.5L204.9,127.8L205,149.5L205.1,131.8L205.3,118.5L205.4,128.4L205.5,140.1L205.6,133.4L205.7,133.1L205.8,126.5L205.9,136.7L206,114.5L206.2,116.7L206.3,128.5L206.4,148.1L206.5,140.5L206.6,158.2L206.7,120.9L206.8,148L207,146.4L207.1,152.1L207.2,136.8L207.3,187.3L207.4,181.4L207.5,190.7L207.6,183.6L207.7,180.7L207.9,161.3L208,187.7L208.1,170.8L208.2,150.8L208.3,176.6L208.4,168.9L208.5,172.9L208.7,189.8L208.8,162.2L208.9,148.3L209,170.7L209.1,188L209.2,161.5L209.3,159.3L209.4,141.9L209.6,139.3L209.7,150.3L209.8,134.8L209.9,157.1L210,113.7L210.1,122.1L210.2,110L210.4,111.1L210.5,127.6L210.6,121.6L210.7,126.6L210.8,143.5L210.9,123.6L211,127.3L211.1,151.1L211.3,130.9L211.4,137.6L211.5,132.2L211.6,146.9L211.7,157.3L211.8,125.3L211.9,135.7L212.1,151.8L212.2,150.2L212.3,137.8L212.4,133L212.5,140.6L212.6,157.7L212.7,113.8L212.8,140.5L213,126.7L213.1,127.3L213.2,121.2L213.3,143.2L213.4,102.1L213.5,103.7L213.6,101.9L213.7,99.5L213.9,125.3L214,156L214.1,110.5L214.2,99.5L214.3,103L214.4,126.7L214.5,122.2L214.7,117.5L214.8,143.5L214.9,124.4L215,120.7L215.1,93.6L215.2,125.6L215.3,109.1L215.4,137.9L215.6,164.2L215.7,117.1L215.8,158.1L215.9,133.6L216,118.3L216.1,148.4L216.2,155.7L216.4,125.7L216.5,147.7L216.6,176.1L216.7,183.2L216.8,174.9L216.9,151.6L217,165.3L217.1,157.6L217.3,152.1L217.4,162.1L217.5,161.4L217.6,163.4L217.7,195.7L217.8,162.7L217.9,169.5L218.1,170.9L218.2,179.1L218.3,181.7L218.4,166.2L218.5,141.4L218.6,150.8L218.7,139.7L218.8,128.4L219,111.8L219.1,122.6L219.2,116.9L219.3,93.7L219.4,106.4L219.5,93.7L219.6,113.9L219.8,101.1L219.9,106.1L220,111.4L220.1,123.2L220.2,131.9L220.3,122.6L220.4,125.2L220.5,108.5L220.7,114.7L220.8,146.9L220.9,125.3L221,141.5L221.1,128.5L221.2,140.6L221.3,158.4L221.5,135.4L221.6,150.1L221.7,171.7L221.8,175.2L221.9,153.9L222,159.1L222.1,143.9L222.2,129.1L222.4,115.3L222.5,131.8L222.6,103.8L222.7,99.7L222.8,119.5L222.9,146.6L223,125.3L223.2,134.7L223.3,113.8L223.4,119.1L223.5,120L223.6,104.7L223.7,137.5L223.8,121.1L223.9,128.3L224.1,102.6L224.2,117.2L224.3,164.9L224.4,109.9L224.5,143.8L224.6,121.5L224.7,134.5L224.9,123.8L225,125.2L225.1,135.9L225.2,152.8L225.3,123.9L225.4,141.3L225.5,149.2L225.6,139.9L225.8,162.2L225.9,137.7L226,163.8L226.1,163.2L226.2,161.5L226.3,172.9L226.4,170.4L226.5,147.1L226.7,141.7L226.8,125.5L226.9,132.5L227,141.9L227.1,108.8L227.2,99.5L227.3,99.5L227.5,99.5L227.6,117.1L227.7,99.5L227.8,120.3L227.9,111.9L228,146L228.1,116.9L228.2,134.3L228.4,106.1L228.5,95.5L228.6,111.8L228.7,160.6L228.8,171L228.9,176.4L229,159.5L229.2,156.2L229.3,151.6L229.4,149.8L229.5,149.1L229.6,148.6L229.7,135.7L229.8,164.3L229.9,166L230.1,190.5L230.2,178.4L230.3,158.7L230.4,161L230.5,149.1L230.6,140.8L230.7,148.6L230.9,134.8L231,139.6L231.1,140L231.2,150.2L231.3,133.7L231.4,131.6L231.5,129.7L231.6,127.8L231.8,147.6L231.9,163.2L232,167L232.1,207.5L232.2,199.1L232.3,201.9L232.4,198.6L232.6,190.9L232.7,191.7L232.8,180.1L232.9,185.8L233,181.7L233.1,161.7L233.2,182.7L233.3,170L233.5,178.2L233.6,161.2L233.7,171.2L233.8,152.8L233.9,109.2L234,121.7L234.1,115L234.3,121.6L234.4,112.3L234.5,134L234.6,130L234.7,121.8L234.8,127.9L234.9,153.1L235,156.5L235.2,162.2L235.3,165.7L235.4,180L235.5,182.8L235.6,163.8L235.7,177.2L235.8,160.3L236,140.2L236.1,127.4L236.2,94.1L236.3,87.4L236.4,81.1L236.5,92.9L236.6,84.8L236.7,60.1L236.9,58.6L237,58.6L237.1,58.9L237.2,74.8L237.3,90.6L237.4,89.3L237.5,128.7L237.6,129.1L237.8,132.2L237.9,147.4L238,166.2L238.1,146.4L238.2,152.5L238.3,148.5L238.4,139.2L238.6,142.8L238.7,160.7L238.8,148.4L238.9,176.9L239,156.2L239.1,175.2L239.2,161.4L239.3,155.7L239.5,179.2L239.6,193.5L239.7,190.7L239.8,199.5L239.9,200.8L240,205.1L240.1,194.2L240.3,214.7L240.4,227.7L240.5,228.3L240.6,228.3L240.7,228.3L240.8,192.8L240.9,190.7L241,127.3L241.2,156.4L241.3,104.2L241.4,103.4L241.5,133.6L241.6,111.4L241.7,93.2L241.8,100.3L242,136.9L242.1,119L242.2,118.9L242.3,107.8L242.4,97.3L242.5,74.4L242.6,93L242.7,108.4L242.9,120.6L243,115.4L243.1,119.6L243.2,142.8L243.3,112.2L243.4,145.8L243.5,128.2L243.7,109.5L243.8,93.2L243.9,121.2L244,118.4L244.1,106.4L244.2,114.7L244.3,113.8L244.4,121.7L244.6,137.9L244.7,137.1L244.8,135.1L244.9,149.3L245,128.6L245.1,171.9L245.2,149.9L245.4,100.8L245.5,87.9L245.6,81.5L245.7,65.3L245.8,69.5L245.9,108.4L246,109.4L246.1,138.2L246.3,147.8L246.4,151L246.5,132.6L246.6,155L246.7,136L246.8,114.9L246.9,124.8L247.1,114.2L247.2,85.5L247.3,88L247.4,91.7L247.5,95.4L247.6,114.2L247.7,75.6L247.8,114.9L248,111.1L248.1,124.5L248.2,110.9L248.3,90L248.4,108.9L248.5,103.9L248.6,119.4L248.8,101.3L248.9,127.6L249,153.6L249.1,139.4L249.2,166.3L249.3,157.5L249.4,164.4L249.5,165.9L249.7,170.6L249.8,184.4L249.9,193.4L250,170.4L250.1,187.7L250.2,186.1L250.3,200.6L250.4,227.5L250.6,239.3L250.7,233L250.8,257.1L250.9,242.4L251,233.5L251.1,205.8L251.2,188.8L251.4,178.2L251.5,164.3L251.6,160L251.7,152.3L251.8,141.8L251.9,134.5L252,140.1L252.1,117.7L252.3,134.8L252.4,122.5L252.5,116.4L252.6,78.1L252.7,82L252.8,67.7L252.9,44.5L253.1,44.5L253.2,52.5L253.3,48.2L253.4,73.1L253.5,97.3L253.6,87.3L253.7,73.9L253.8,102L254,111.5L254.1,96.9L254.2,96.8L254.3,107.2L254.4,128.1L254.5,126.5L254.6,128.4L254.8,116.5L254.9,106.3L255,146L255.1,141L255.2,165.7L255.3,145.6L255.4,159.8L255.5,158.9L255.7,148.4L255.8,169.6L255.9,149.3L256,168.5L256.1,156.3L256.2,154.2L256.3,151.1L256.5,141.8L256.6,127.5L256.7,99.2L256.8,149.8L256.9,127.9L257,136L257.1,152.5L257.2,144.1L257.4,160.3L257.5,147.6L257.6,126.2L257.7,161.3L257.8,123.9L257.9,123.7L258,148.6L258.2,131.3L258.3,133.6L258.4,139L258.5,114.2L258.6,147.9L258.7,128.6L258.8,145.3L258.9,153.3L259.1,135.9L259.2,126.6L259.3,94.1L259.4,106L259.5,78.1L259.6,77.4L259.7,77.4L259.9,108L260,91.6L260.1,141.5L260.2,121.2L260.3,121.9L260.4,108L260.5,122.9L260.6,140.3L260.8,133.6L260.9,94.9L261,107.9L261.1,129.4L261.2,117.2L261.3,149.6L261.4,158.3L261.6,165.9L261.7,131.8L261.8,112.9L261.9,141.6L262,125.1L262.1,130.9L262.2,127.9L262.3,188.2L262.5,161.5L262.6,156.9L262.7,182.1L262.8,155.4L262.9,150.1L263,135.6L263.1,150.7L263.2,132.5L263.4,143L263.5,129.5L263.6,144.5L263.7,163.9L263.8,185.2L263.9,144.8L264,148.6L264.2,149L264.3,167.5L264.4,165.3L264.5,142.1L264.6,155.4L264.7,167.7L264.8,144.8L264.9,132.2L265.1,129L265.2,138.8L265.3,112.7L265.4,118.3L265.5,116.7L265.6,124.9L265.7,113.2L265.9,108.9L266,99.6L266.1,111.1L266.2,94.2L266.3,110.4L266.4,127L266.5,162.8L266.6,150.9L266.8,161.3L266.9,146.4L267,143.2L267.1,132.8L267.2,152.9L267.3,171.2L267.4,131.1L267.6,162.5L267.7,170.4L267.8,170.9L267.9,186.6L268,164L268.1,154.5L268.2,119.7L268.3,117.1L268.5,118.6L268.6,114.4L268.7,132.5L268.8,128.8L268.9,119.3L269,135.9L269.1,128.9L269.3,136.8L269.4,123.7L269.5,128.9L269.6,153L269.7,133.3L269.8,121.8L269.9,161.7L270,148.5L270.2,141.3L270.3,159L270.4,147.9L270.5,143.1L270.6,164.9L270.7,136.3L270.8,121.1L271,124.6L271.1,89.9L271.2,76.7L271.3,113.2L271.4,130.1L271.5,142.7L271.6,163.9L271.7,157.4L271.9,179.7L272,212.1L272.1,203L272.2,209.2L272.3,215.9L272.4,215.9L272.5,173.6L272.7,132.7L272.8,123.1L272.9,98.8L273,87.3L273.1,96.2L273.2,92.1L273.3,113.8L273.4,104.4L273.6,119L273.7,127.7L273.8,126.9L273.9,132.9L274,127.4L274.1,124.8L274.2,150.9L274.3,146.4L274.5,133L274.6,132.1L274.7,136.4L274.8,101.3L274.9,116L275,127.1L275.1,116L275.3,108.7L275.4,119.2L275.5,144.8L275.6,120.3L275.7,127.4L275.8,111.1L275.9,177.1L276,149.5L276.2,181.3L276.3,172.8L276.4,186.8L276.5,176.1L276.6,156.8L276.7,166.9L276.8,153.9L277,168.7L277.1,172.5L277.2,169.9L277.3,173.7L277.4,170.5L277.5,149L277.6,178.1L277.7,181.7L277.9,159.9L278,137.3L278.1,148.6L278.2,147.4L278.3,146.2L278.4,165.6L278.5,146.5L278.7,174.1L278.8,142.7L278.9,128.1L279,163.6L279.1,170.9L279.2,155.5L279.3,133L279.4,121.4L279.6,109.2L279.7,133.8L279.8,179.7L279.9,185.9L280,147.2L280.1,128.7L280.2,162.7L280.4,151.1L280.5,149.6L280.6,139.7L280.7,143.4L280.8,141L280.9,141.4L281,163.7L281.1,160.4L281.3,145.2L281.4,179.1L281.5,170.7L281.6,140.2L281.7,117.2L281.8,138.6L281.9,124.3L282.1,142.2L282.2,126.4L282.3,143.9L282.4,121L282.5,124.5L282.6,128.3L282.7,126.1L282.8,135.7L283,156.4L283.1,132.9L283.2,164.9L283.3,127.1L283.4,107L283.5,139.9L283.6,139.5L283.8,138.8L283.9,124.2L284,140.7L284.1,125.7L284.2,135.8L284.3,137.8L284.4,135.5L284.5,146.3L284.7,174.1L284.8,127.7L284.9,156.4L285,183.1L285.1,149.6L285.2,162.6L285.3,154.1L285.5,137.8L285.6,147.5L285.7,164.5L285.8,121.4L285.9,123.1L286,120.4L286.1,149.8L286.2,145.4L286.4,135.7L286.5,148.3L286.6,153.6L286.7,147.7L286.8,162.9L286.9,123.9L287,150.8L287.1,127.7L287.3,123.2L287.4,124.8L287.5,110.6L287.6,100.3L287.7,89.8L287.8,94.7L287.9,107.1L288.1,95.9L288.2,125.2L288.3,105.9L288.4,100.1L288.5,100.4L288.6,121.9L288.7,131L288.8,98.8L289,135.7L289.1,163.8L289.2,168L289.3,148.6L289.4,127.8L289.5,136.9L289.6,115.6L289.8,131.6L289.9,138.8L290,138.1L290.1,153.1L290.2,141.1L290.3,150.5L290.4,158.5L290.5,146.2L290.7,167L290.8,151.4L290.9,151.9L291,135.9L291.1,147.1L291.2,128.8L291.3,144.5L291.5,145.7L291.6,125.8L291.7,185.3L291.8,165L291.9,185.2L292,150.4L292.1,141.7L292.2,138.9L292.4,147.1L292.5,164.6L292.6,130.5L292.7,151.2L292.8,161.8L292.9,173.3L293,148L293.2,152.6L293.3,150.6L293.4,146.4L293.5,149.8L293.6,159.3L293.7,122.8L293.8,146.8L293.9,149.2L294.1,139.6L294.2,161.7L294.3,192.2L294.4,225.9L294.5,237.3L294.6,237.3L294.7,237.3L294.9,196.9L295,200.5L295.1,177.4L295.2,155L295.3,155.7L295.4,113.5L295.5,164.1L295.6,155.4L295.8,145.8L295.9,130.5L296,149.6L296.1,153.5L296.2,109.8L296.3,130.8L296.4,116L296.6,100.9L296.7,120.4L296.8,119.6L296.9,112.4L297,123.8L297.1,124.6L297.2,147.9L297.3,139.8L297.5,156.1L297.6,167.2L297.7,128.5L297.8,148.7L297.9,134.8L298,150.3L298.1,126.7L298.2,118.2L298.4,125.3L298.5,90.4L298.6,88.9L298.7,77.7L298.8,77.7L298.9,77.7L299,77.7L299.2,80.8L299.3,101.1L299.4,102L299.5,89.9L299.6,110.2L299.7,111.2L299.8,121.5L299.9,140.5L300.1,104L300.2,147.5L300.3,114.7L300.4,115L300.5,146.6L300.6,140.4L300.7,153.2L300.9,164.1L301,175L301.1,156.1L301.2,145.6L301.3,141.5L301.4,105.8L301.5,111L301.6,114.6L301.8,108L301.9,134.4L302,132.9L302.1,127.3L302.2,139.7L302.3,130.6L302.4,137.5L302.6,154.5L302.7,153.1L302.8,149.9L302.9,141.4L303,139.6L303.1,121.3L303.2,139.8L303.3,137.8L303.5,129.7L303.6,135.8L303.7,131L303.8,156.4L303.9,119.2L304,124.9L304.1,117.3L304.3,115.8L304.4,144.8L304.5,92L304.6,118L304.7,122.3L304.8,154.3L304.9,124.3L305,124.7L305.2,132L305.3,125.7L305.4,118.8L305.5,148.2L305.6,160.9L305.7,129.8L305.8,139.3L306,144.2L306.1,115.4L306.2,146.1L306.3,152.4L306.4,148.4L306.5,160L306.6,154.2L306.7,149.1L306.9,148.8L307,137.4L307.1,122.7L307.2,111.3L307.3,103.5L307.4,100L307.5,108.3L307.7,107.3L307.8,117.9L307.9,113.5L308,96.5L308.1,133.6L308.2,103.1L308.3,73.8L308.4,123L308.6,87.9L308.7,132L308.8,107.1L308.9,97.7L309,104.3L309.1,136.8L309.2,142.6L309.4,145.9L309.5,115.7L309.6,123.9L309.7,118.6L309.8,117.7L309.9,111.4L310,93.2L310.1,88.4L310.3,88.4L310.4,88.4L310.5,136.5L310.6,120.3L310.7,165.8L310.8,172.4L310.9,177.5L311,170.3L311.2,155L311.3,143.4L311.4,145.7L311.5,124.9L311.6,153.1L311.7,132.1L311.8,149.3L312,150.9L312.1,132.1L312.2,125.1L312.3,143.7L312.4,128.7L312.5,105.9L312.6,141.6L312.7,146.2L312.9,136L313,153.7L313.1,173.8L313.2,168.3L313.3,147L313.4,146.3L313.5,146.8L313.7,149.3L313.8,173.8L313.9,151.3L314,139.7L314.1,159.4L314.2,136L314.3,156.6L314.4,154.5L314.6,155.8L314.7,176.9L314.8,134.5L314.9,162.4L315,153L315.1,161.3L315.2,150.1L315.4,148.2L315.5,149.5L315.6,124.6L315.7,122.4L315.8,109.6L315.9,120.6L316,66.7L316.1,58.6L316.3,74.2L316.4,88.3L316.5,83.6L316.6,91L316.7,95L316.8,115.2L316.9,144.8L317.1,133.3L317.2,157.9L317.3,141.2L317.4,156.4L317.5,178.4L317.6,182.7L317.7,193.8L317.8,204.1L318,179.6L318.1,145.4L318.2,166.8L318.3,155.8L318.4,163.6L318.5,166.4L318.6,125.5L318.8,152.5L318.9,141.1L319,150.7L319.1,151.2L319.2,168.8L319.3,164.9L319.4,184.1L319.5,164.5L319.7,143.1L319.8,178.8L319.9,173.4L320,139.5L320.1,145.3L320.2,134.2L320.3,173.6L320.5,131.7L320.6,140L320.7,141.2L320.8,117.9L320.9,111L321,149.1L321.1,143.4L321.2,133.2L321.4,124.6L321.5,139.6L321.6,92.3L321.7,104.5L321.8,113.3L321.9,119.8L322,92L322.2,91L322.3,113.3L322.4,100.5L322.5,93L322.6,122.4L322.7,112.6L322.8,89.8L322.9,112.9L323.1,109.9L323.2,117.5L323.3,114.3L323.4,101.2L323.5,124.9L323.6,133L323.7,121.4L323.8,85.1L324,106.6L324.1,123.2L324.2,128.1L324.3,137.7L324.4,150.5L324.5,177.5L324.6,150.9L324.8,160.6L324.9,156L325,190.8L325.1,167.4L325.2,187.3L325.3,198.4L325.4,158.6L325.5,175.6L325.7,168.3L325.8,182.6L325.9,169.8L326,167.8L326.1,160.6L326.2,161.4L326.3,186.9L326.5,180.8L326.6,144.4L326.7,153.9L326.8,135.5L326.9,141.3L327,163.8L327.1,159.2L327.2,155.8L327.4,144.4L327.5,125.1L327.6,105.2L327.7,94.2L327.8,122.1L327.9,120.8L328,99.1L328.2,108.4L328.3,115.1L328.4,144L328.5,120L328.6,105.1L328.7,119.7L328.8,94.6L328.9,116.5L329.1,107.7L329.2,117.6L329.3,118.6L329.4,123.7L329.5,140.5L329.6,153.3L329.7,158L329.9,164.2L330,157.5L330.1,182L330.2,159.9L330.3,160L330.4,139.2L330.5,153.5L330.6,129.3L330.8,131.2L330.9,111.8L331,110.5L331.1,124.1L331.2,118L331.3,107.8L331.4,99.1L331.6,125.4L331.7,116L331.8,149L331.9,134.2L332,152.7L332.1,180.1L332.2,179L332.3,135.8L332.5,162.4L332.6,166.2L332.7,169.2L332.8,151.4L332.9,128.4L333,123.5L333.1,135L333.3,103.3L333.4,110L333.5,123.8L333.6,100.4L333.7,117.6L333.8,109L333.9,126.7L334,115.1L334.2,145.5L334.3,126.5L334.4,152.1L334.5,130.2L334.6,172.7L334.7,153.9L334.8,157.5L334.9,173.5L335.1,172.9L335.2,201.5L335.3,169.2L335.4,161.3L335.5,191.7L335.6,190.1L335.7,192.3L335.9,189.1L336,187L336.1,200.8L336.2,191.2L336.3,200.8L336.4,200.8L336.5,200.8L336.6,200.8L336.8,174.6L336.9,168.9L337,167.1L337.1,137.8L337.2,140L337.3,160.1L337.4,174.7L337.6,157L337.7,132.9L337.8,144.2L337.9,122.4L338,141.4L338.1,134.1L338.2,123.1L338.3,135L338.5,125.8L338.6,137.6L338.7,161.1L338.8,150.8L338.9,114.1L339,129.8L339.1,123.6L339.3,129.3L339.4,99.6L339.5,76.7L339.6,76.7L339.7,76.7L339.8,76.7L339.9,78.3L340,96.3L340.2,94.2L340.3,143.9L340.4,122.3L340.5,152L340.6,157.9L340.7,168.7L340.8,166.6L341,170.5L341.1,162.3L341.2,154.9L341.3,131.2L341.4,123.4L341.5,137.6L341.6,143.3L341.7,166L341.9,176.8L342,154.5L342.1,157.7L342.2,145.6L342.3,184.7L342.4,132.5L342.5,179.8L342.7,151.8L342.8,127.7L342.9,154.1L343,147.1L343.1,176.4L343.2,176.3L343.3,182.9L343.4,157.8L343.6,154.8L343.7,161.2L343.8,136.9L343.9,134.5L344,153.3L344.1,150.6L344.2,146.9L344.4,152.9L344.5,133.6L344.6,149.5L344.7,147.5L344.8,132.7L344.9,113.9L345,121.2L345.1,106.6L345.3,108.3L345.4,94.4L345.5,98.3L345.6,127.9L345.7,101.3L345.8,79.4L345.9,78.7L346.1,57.9L346.2,50.6L346.3,44.5L346.4,51.6L346.5,58.6L346.6,67.2L346.7,92.2L346.8,92.8L347,103.4L347.1,84L347.2,102.7L347.3,101.9L347.4,101.2L347.5,106.1L347.6,107.1L347.7,84.7L347.9,83.7L348,46.2L348.1,57.4L348.2,67.1L348.3,82.1L348.4,85.9L348.5,83.9L348.7,73.6L348.8,69.1L348.9,106L349,97.4L349.1,102.1L349.2,136.7L349.3,145.2L349.4,147.9L349.6,179.6L349.7,141.7L349.8,150.8L349.9,151.8L350,151.1L350.1,149.4L350.2,123.5L350.4,157.1L350.5,157.6L350.6,178.6L350.7,169.2L350.8,178.8L350.9,175.4L351,175.4L351.1,165.8L351.3,139L351.4,123.2L351.5,121.3L351.6,137.6L351.7,122.8L351.8,156.6L351.9,107.5L352.1,124.5L352.2,126.9L352.3,113.1L352.4,127.4L352.5,104.5L352.6,119.6L352.7,107.5L352.8,119.2L353,106.1L353.1,90.5L353.2,115.4L353.3,117.7L353.4,112.6L353.5,101.1L353.6,77L353.8,112.4L353.9,136L354,122.7L354.1,144.6L354.2,142.5L354.3,141L354.4,159.4L354.5,167.8L354.7,191L354.8,171.8L354.9,181.4L355,158.8L355.1,163L355.2,189.8L355.3,187.3L355.5,181.9L355.6,169.7L355.7,192.6L355.8,170L355.9,139.9L356,162.8L356.1,155.7L356.2,156.6L356.4,166.9L356.5,127.2L356.6,129.6L356.7,128.9L356.8,118.8L356.9,110.9L357,141.4L357.2,109.7L357.3,121L357.4,109.3L357.5,120.2L357.6,124.7L357.7,104L357.8,115.6L357.9,115.5L358.1,107.1L358.2,96.9L358.3,99.3L358.4,134.7L358.5,119.6L358.6,113.1L358.7,101L358.8,95.2L359,123L359.1,95.7L359.2,128.2L359.3,131.4L359.4,150.5L359.5,156.8L359.6,131.7L359.8,154.4L359.9,144.5L360,111L360.1,82.1L360.2,104.8L360.3,80L360.4,88.8L360.5,86.9L360.7,96.6L360.8,139.2L360.9,132.2L361,119.1L361.1,111.3L361.2,134.5L361.3,122.9L361.5,151.1L361.6,178.6L361.7,159.4L361.8,134.4L361.9,127L362,169.9L362.1,169L362.2,147.4L362.4,191.6L362.5,152.7L362.6,150.7L362.7,195.3L362.8,146.9L362.9,159.8L363,138.2L363.2,152L363.3,159.3L363.4,157.4L363.5,147.8L363.6,154.2L363.7,151.3L363.8,168.2L363.9,145.3L364.1,154.6L364.2,127.5L364.3,143.9L364.4,138L364.5,144.3L364.6,129.8L364.7,142.4L364.9,154L365,134.7L365.1,145.1L365.2,181.7L365.3,181.7L365.4,181.7L365.5,181.7L365.6,149.8L365.8,174.4L365.9,147.9L366,170.6L366.1,150.7L366.2,131.1L366.3,133.7L366.4,142.4L366.6,101.4L366.7,123.6L366.8,141.4L366.9,151.9L367,150.1L367.1,128.1L367.2,156.3L367.3,147.9L367.5,164.3L367.6,142.5L367.7,165.1L367.8,153.3L367.9,156.6L368,162.8L368.1,139.2L368.3,141L368.4,173.2L368.5,150.6L368.6,111L368.7,161.3L368.8,148.2L368.9,171.6L369,140.4L369.2,142.9L369.3,114L369.4,118.2L369.5,133L369.6,110.6L369.7,133.2L369.8,148.1L370,136.3L370.1,149.1L370.2,129.3L370.3,131.6L370.4,127.8L370.5,108.9L370.6,129.5L370.7,98.3L370.9,139.4L371,99L371.1,124.6L371.2,142.1L371.3,156.8L371.4,132.4L371.5,130.4L371.6,124.8L371.8,105.9L371.9,125.1L372,127L372.1,123.7L372.2,120.5L372.3,145.4L372.4,136.9L372.6,128.3L372.7,112.9L372.8,102.9L372.9,137.8L373,134.9L373.1,138.1L373.2,132.1L373.3,125L373.5,148.2L373.6,147.1L373.7,132.9L373.8,157.4L373.9,140.6L374,130.1L374.1,123.1L374.3,121.5L374.4,134.3L374.5,106.3L374.6,135.1L374.7,126.4L374.8,116.7L374.9,131.8L375,151.9L375.2,150.7L375.3,143.9L375.4,151.3L375.5,137.9L375.6,156.8L375.7,143L375.8,166.5L376,160.7L376.1,162.4L376.2,124.1L376.3,147.6L376.4,148.7L376.5,171L376.6,164.5L376.7,171.3L376.9,184.1L377,166.7L377.1,193.6L377.2,164.4L377.3,137.4L377.4,182.6L377.5,168.1L377.7,178.8L377.8,152.8L377.9,172.7L378,140.1L378.1,152.3L378.2,162.6L378.3,147.8L378.4,152.8L378.6,138.4L378.7,125L378.8,141.2L378.9,151.7L379,147.9L379.1,133.1L379.2,165L379.4,126L379.5,133.8L379.6,175.5L379.7,126.7L379.8,163.2L379.9,146.9L380,128.7L380.1,162.1L380.3,151.8L380.4,130.8L380.5,132.2L380.6,129.8L380.7,139.3L380.8,136.1L380.9,128.9L381.1,120.2L381.2,129.3L381.3,116.7L381.4,124.8L381.5,139.8L381.6,100.2L381.7,144.1L381.8,118.8L382,138.6L382.1,124.7L382.2,128.5L382.3,131.8L382.4,127.9L382.5,158.9L382.6,103.5L382.8,130.1L382.9,147.2L383,156.4L383.1,107.9L383.2,117.5L383.3,139.2L383.4,122L383.5,109.4L383.7,124.6L383.8,136.4L383.9,138L384,130.6L384.1,142.3L384.2,156.4L384.3,125.9L384.4,159.6L384.6,149.7L384.7,127L384.8,141.7L384.9,139.1L385,135L385.1,122.4L385.2,137.9L385.4,162.1L385.5,130.4L385.6,175.2L385.7,162.8L385.8,112.2L385.9,118.7L386,133.9L386.1,125.3L386.3,120.3L386.4,106.7L386.5,128.3L386.6,128.7L386.7,124.8L386.8,115L386.9,112.9L387.1,121.2L387.2,105.8L387.3,124.6L387.4,105.1L387.5,109L387.6,123.4L387.7,110.5L387.8,143.8L388,158.3L388.1,140L388.2,145.1L388.3,118.4L388.4,114.9L388.5,116.5L388.6,160.9L388.8,164.9L388.9,144.7L389,170.9L389.1,149.4L389.2,137.2L389.3,166.8L389.4,119.9L389.5,116.9L389.7,117.9L389.8,113.8L389.9,127.7L390,121.1L390.1,105.7L390.2,115.5L390.3,104.9L390.5,136.1L390.6,88.3L390.7,112.6L390.8,100.4L390.9,103.8L391,107.9L391.1,109.8L391.2,112.4L391.4,138.9L391.5,126.7L391.6,103.5L391.7,128.9L391.8,130.9L391.9,96.4L392,113.9L392.2,113.5L392.3,132.9L392.4,124.9L392.5,115.4L392.6,116.8L392.7,126.8L392.8,151L392.9,141.6L393.1,142.7L393.2,83.6L393.3,93.3L393.4,82.6L393.5,77.4L393.6,91.9L393.7,112.5L393.9,156.2L394,186.6L394.1,158.4L394.2,196.6L394.3,198.4L394.4,198.4L394.5,192.2L394.6,170.3L394.8,146.5L394.9,165.2L395,144.1L395.1,150.2L395.2,122.5L395.3,154.1L395.4,144L395.5,143.8L395.7,174.2L395.8,156.3L395.9,154.7L396,158.9L396.1,140.9L396.2,120.5L396.3,135.3L396.5,155.3L396.6,159.8L396.7,150.7L396.8,130.1L396.9,126.9L397,113.4L397.1,95.2L397.2,138.6L397.4,144L397.5,155L397.6,113.9L397.7,160.4L397.8,132.1L397.9,116.3L398,136.6L398.2,123.4L398.3,118.7L398.4,108.6L398.5,145.4L398.6,129L398.7,121.9L398.8,124L398.9,121.5L399.1,104.8L399.2,108.7L399.3,100.2L399.4,100.2L399.5,100.2L399.6,114.9L399.7,112.9L399.9,128.7L400,120.8L400.1,150.2L400.2,142.9L400.3,141.2L400.4,138L400.5,128.6L400.6,141.7L400.8,136.1L400.9,120.9L401,138.4L401.1,170.5"/>
<rect class="ax" x="61.4" y="7.6" width="339.7" height="268.3"/>
<path class="t" d="M146.3,275.9v-4.5 M146.3,7.6v4.5M231.3,275.9v-4.5 M231.3,7.6v4.5M316.2,275.9v-4.5 M316.2,7.6v4.5M61.4,74.7h4.5 M401.1,74.7h-4.5M61.4,141.7h4.5 M401.1,141.7h-4.5M61.4,208.8h4.5 M401.1,208.8h-4.5"/>
<text class="tk" x="61.4" y="301.9" text-anchor="middle">0</text>
<text class="tk" x="146.3" y="301.9" text-anchor="middle">1</text>
<text class="tk" x="231.3" y="301.9" text-anchor="middle">2</text>
<text class="tk" x="316.2" y="301.9" text-anchor="middle">3</text>
<text class="tk" x="401.1" y="301.9" text-anchor="middle">4</text>
<text class="tk" x="54.4" y="15.1" text-anchor="end">4</text>
<text class="tk" x="54.4" y="82.2" text-anchor="end">2</text>
<text class="tk" x="54.4" y="149.2" text-anchor="end">0</text>
<text class="tk" x="54.4" y="216.3" text-anchor="end">-2</text>
<text class="tk" x="54.4" y="283.4" text-anchor="end">-4</text>
<text class="al" x="232.6" y="319.8" text-anchor="middle">Time(t/s)</text>
<text class="yl" transform="translate(24,151.5) rotate(-90)" text-anchor="middle">Amplitude (m<tspan dx="3" dy="-1">·</tspan><tspan dx="3" dy="1">s</tspan><tspan font-size="17px" dy="-12">−2</tspan><tspan dy="12" dx="4">)</tspan></text>
</g>
<g id="spec-a">
<clipPath id="sa"><rect x="489.4" y="7.2" width="298.1" height="261.7"/></clipPath>
<g clip-path="url(#sa)">
<g filter="url(#pm)"><rect x="489.4" y="7.2" width="298.1" height="261.7" fill="url(#ga)"/><rect x="489.4" y="7.2" width="298.1" height="261.7" fill="url(#ea0)" filter="url(#fa0)"/><rect x="489.4" y="7.2" width="298.1" height="261.7" fill="url(#ea1)" filter="url(#fa1)"/><rect x="489.4" y="7.2" width="298.1" height="261.7" fill="url(#ea2)" filter="url(#fa2)"/><rect x="489.4" y="7.2" width="298.1" height="261.7" fill="url(#ea3)" filter="url(#fa3)"/><rect x="489.4" y="7.2" width="298.1" height="261.7" fill="url(#ea4)" filter="url(#fa4)"/><g filter="url(#bl)" fill="#fff"><ellipse cx="573.4" cy="216.2" rx="3.5" ry="3" opacity=".14"/><ellipse cx="569.8" cy="233.4" rx="4" ry="2.5" opacity=".12"/><ellipse cx="663.7" cy="204.5" rx="3.5" ry="3" opacity=".12"/></g><g filter="url(#bw)" fill="#fff"><ellipse cx="494" cy="125" rx="1.8" ry="8" opacity=".25"/><ellipse cx="542.8" cy="122.4" rx="1.8" ry="8" opacity=".28"/><ellipse cx="564.4" cy="118.8" rx="1.8" ry="8" opacity=".23"/><ellipse cx="587" cy="125" rx="1.8" ry="8" opacity=".2"/><ellipse cx="605" cy="120.6" rx="1.8" ry="8" opacity=".2"/><ellipse cx="641.1" cy="122.4" rx="1.8" ry="8" opacity=".27"/><ellipse cx="660.1" cy="123.3" rx="1.8" ry="8" opacity=".25"/><ellipse cx="684.5" cy="118.8" rx="1.8" ry="8" opacity=".2"/><ellipse cx="694.4" cy="125" rx="1.8" ry="8" opacity=".2"/><ellipse cx="699.8" cy="116" rx="1.8" ry="8" opacity=".18"/><ellipse cx="721.5" cy="120.6" rx="1.8" ry="8" opacity=".23"/><ellipse cx="728.7" cy="121.5" rx="1.8" ry="8" opacity=".2"/><ellipse cx="750.3" cy="127" rx="1.8" ry="8" opacity=".18"/><ellipse cx="766.6" cy="134" rx="1.8" ry="8" opacity=".16"/><ellipse cx="777.4" cy="123.3" rx="1.8" ry="8" opacity=".2"/><ellipse cx="530" cy="148.6" rx="1.8" ry="8" opacity=".14"/><ellipse cx="575" cy="154" rx="1.8" ry="8" opacity=".14"/><ellipse cx="657" cy="154" rx="1.8" ry="8" opacity=".14"/></g><g filter="url(#bs)" fill="#fff"><ellipse cx="700" cy="262.6" rx="80" ry="1.3" opacity=".42"/><ellipse cx="550" cy="263.5" rx="60" ry="1.2" opacity=".22"/><ellipse cx="640" cy="265.8" rx="150" ry="0.8" opacity=".15"/></g></g>
</g>
<rect class="ax" x="489.4" y="7.2" width="298.1" height="261.7"/>
<path class="t" d="M560.5,268.9v-4 M560.5,7.2v4M631.5,268.9v-4 M631.5,7.2v4M702.6,268.9v-4 M702.6,7.2v4M773.6,268.9v-4 M773.6,7.2v4M489.4,60h4 M787.5,60h-4M489.4,112.4h4 M787.5,112.4h-4M489.4,164.8h4 M787.5,164.8h-4M489.4,217h4 M787.5,217h-4"/>
<text class="tk ts" x="489.4" y="296.6" text-anchor="middle">0</text>
<text class="tk ts" x="560.5" y="296.6" text-anchor="middle">1</text>
<text class="tk ts" x="631.5" y="296.6" text-anchor="middle">2</text>
<text class="tk ts" x="702.6" y="296.6" text-anchor="middle">3</text>
<text class="tk ts" x="773.6" y="296.6" text-anchor="middle">4</text>
<text class="tk ts" x="482.4" y="15.1" text-anchor="end">500</text>
<text class="tk ts" x="482.4" y="67.5" text-anchor="end">400</text>
<text class="tk ts" x="482.4" y="119.9" text-anchor="end">300</text>
<text class="tk ts" x="482.4" y="172.3" text-anchor="end">200</text>
<text class="tk ts" x="482.4" y="224.5" text-anchor="end">100</text>
<text class="al" x="644.8" y="319" text-anchor="middle">Time(t/s)</text>
<text class="yf" transform="translate(440.6,149.5) rotate(-90)" text-anchor="middle">Frequency (Hz)</text>
<rect x="794.6" y="7.2" width="16.6" height="261.7" fill="url(#cb)"/>
<rect x="794.6" y="7.2" width="16.6" height="261.7" fill="none" stroke="#1e1e1e" stroke-width="0.6" stroke-opacity="0.55"/>
<text class="tk" x="817.2" y="31.1">1</text>
<text class="tk" x="817.2" y="80.3">0.8</text>
<text class="tk" x="817.2" y="129.4">0.6</text>
<text class="tk" x="817.2" y="178.2">0.4</text>
<text class="tk" x="817.2" y="227.1">0.2</text>
<path class="t" style="stroke-width:1.3" d="M811.2,23.9h-4M811.2,73.1h-4M811.2,122.2h-4M811.2,171h-4M811.2,219.9h-4"/>
</g>
<g id="plot-b">
<clipPath id="cb"><rect x="915.8" y="7.3" width="339.6" height="267.5"/></clipPath>
<path class="sg" clip-path="url(#cb)" d="M915.8,128.7L916.1,122.9L916.3,131.3L916.6,148L916.8,139.8L917.1,118.9L917.4,109.8L917.6,120.9L917.9,146.6L918.2,161.1L918.4,160.4L918.7,160.9L918.9,162.8L919.2,160.8L919.5,147.5L919.7,150.6L920,155.6L920.2,175.1L920.5,184.1L920.8,179L921,170L921.3,169.1L921.6,167.9L921.8,165.4L922.1,167.3L922.3,163.1L922.6,162.4L922.9,153.4L923.1,128.4L923.4,92.3L923.6,88.5L923.9,91.7L924.2,106.1L924.4,101.8L924.7,116.6L925,131.6L925.2,123.8L925.5,131.8L925.7,146.8L926,145L926.3,140.9L926.5,135.2L926.8,156.5L927,154.3L927.3,129.2L927.6,124.7L927.8,116.9L928.1,91.3L928.3,83.1L928.6,83L928.9,84.7L929.1,136.3L929.4,225L929.7,279.8L929.9,267.5L930.2,205.5L930.4,166.8L930.7,158.2L931,144.8L931.2,146.3L931.5,132.6L931.7,113.3L932,107L932.3,118.8L932.5,133.6L932.8,129.7L933.1,153L933.3,140.1L933.6,120.4L933.8,116.3L934.1,125.2L934.4,132.4L934.6,137.9L934.9,134L935.1,150.8L935.4,186.5L935.7,205.6L935.9,196L936.2,189.8L936.5,168.1L936.7,146.5L937,143.3L937.2,137.6L937.5,131L937.8,114.4L938,124.9L938.3,134.3L938.5,155.2L938.8,154L939.1,138.5L939.3,103.4L939.6,68.5L939.9,51L940.1,65.8L940.4,70.7L940.6,103.2L940.9,127.7L941.2,141.7L941.4,150.1L941.7,162.2L941.9,146.1L942.2,127.8L942.5,132.6L942.7,159.9L943,180.5L943.3,173.9L943.5,155L943.8,144.8L944,137.5L944.3,136.3L944.6,133.8L944.8,148L945.1,140.3L945.3,110.5L945.6,80.3L945.9,65.7L946.1,79.4L946.4,108.5L946.6,131.9L946.9,142.9L947.2,156.5L947.4,161.5L947.7,153.9L948,137.7L948.2,141.9L948.5,168.8L948.7,187.9L949,178.7L949.3,175.6L949.5,157.8L949.8,163.9L950,166.5L950.3,141.1L950.6,143.7L950.8,181.6L951.1,193L951.4,192.5L951.6,191.4L951.9,185.7L952.1,166.5L952.4,141.4L952.7,140L952.9,129.2L953.2,115.9L953.4,97.7L953.7,102.8L954,98L954.2,116.1L954.5,129.2L954.8,129.6L955,134.5L955.3,142.2L955.5,151.2L955.8,157.7L956.1,163.4L956.3,162L956.6,156.2L956.8,140.9L957.1,139L957.4,156.7L957.6,155.3L957.9,162.8L958.2,169.6L958.4,173.3L958.7,172.8L958.9,172.8L959.2,171.5L959.5,165.4L959.7,156.6L960,160.5L960.2,159.6L960.5,151L960.8,142L961,133.7L961.3,141.7L961.6,140.9L961.8,133.3L962.1,127.2L962.3,122L962.6,118.6L962.9,118.6L963.1,127.4L963.4,136L963.6,118.1L963.9,115.9L964.2,123.5L964.4,118.9L964.7,116.1L964.9,123.2L965.2,121.3L965.5,125.8L965.7,126.3L966,127.9L966.3,126.2L966.5,133L966.8,142.9L967,143.9L967.3,144.4L967.6,154.4L967.8,155.2L968.1,137.5L968.3,129L968.6,149.6L968.9,157.6L969.1,158.4L969.4,150.8L969.7,154.2L969.9,158.4L970.2,142.8L970.4,143.4L970.7,156.5L971,157.3L971.2,149.8L971.5,152.9L971.7,148.5L972,153.2L972.3,146.7L972.5,143.5L972.8,153.2L973.1,160.1L973.3,155.3L973.6,142L973.8,126.9L974.1,129.2L974.4,134.7L974.6,139.3L974.9,137.2L975.1,151.6L975.4,164.9L975.7,150.7L975.9,139.4L976.2,118.3L976.5,95.6L976.7,116.5L977,130.7L977.2,126.2L977.5,144.2L977.8,154.2L978,172.6L978.3,180.4L978.5,185.5L978.8,183.2L979.1,185.4L979.3,184.8L979.6,166.2L979.9,157.2L980.1,141.6L980.4,120.3L980.6,131.1L980.9,143.6L981.2,142.4L981.4,123.9L981.7,124L981.9,134.8L982.2,127.9L982.5,113.7L982.7,99.4L983,85.3L983.2,85.8L983.5,107.5L983.8,113.5L984,119L984.3,122.2L984.6,116.7L984.8,120L985.1,127.3L985.3,139.9L985.6,150.5L985.9,139.9L986.1,165.3L986.4,152.1L986.6,153.8L986.9,165.7L987.2,159.4L987.4,159.1L987.7,180.2L988,184.8L988.2,184.3L988.5,165.7L988.7,151.9L989,152.8L989.3,140L989.5,133.4L989.8,122.2L990,118.4L990.3,117L990.6,117.3L990.8,118.1L991.1,124L991.4,131.2L991.6,124.1L991.9,132.7L992.1,150.9L992.4,159.1L992.7,150.9L992.9,154.4L993.2,151.7L993.4,151.4L993.7,148.4L994,156.2L994.2,145.8L994.5,140.5L994.8,141.5L995,136.3L995.3,131L995.5,147.5L995.8,156.5L996.1,160.4L996.3,152.3L996.6,136.5L996.8,134.2L997.1,137.6L997.4,123.3L997.6,119.9L997.9,119.5L998.2,119.2L998.4,135.6L998.7,140.3L998.9,129.6L999.2,122L999.5,129.2L999.7,157.2L1000,160.6L1000.2,159.7L1000.5,152.4L1000.8,154.8L1001,163L1001.3,185.2L1001.5,189.4L1001.8,179.2L1002.1,158.3L1002.3,148.9L1002.6,141.6L1002.9,133.2L1003.1,151L1003.4,156.1L1003.6,143.2L1003.9,139.8L1004.2,145.5L1004.4,144L1004.7,154L1004.9,147.5L1005.2,159.6L1005.5,153.6L1005.7,138.8L1006,139.4L1006.3,139.6L1006.5,121.8L1006.8,111L1007,92.6L1007.3,93.5L1007.6,105.2L1007.8,114.4L1008.1,132.8L1008.3,153.3L1008.6,159.4L1008.9,167.1L1009.1,171.2L1009.4,167.7L1009.7,165.4L1009.9,175.2L1010.2,176.7L1010.4,184.7L1010.7,179.9L1011,155.8L1011.2,133.6L1011.5,113.4L1011.7,98.9L1012,93.1L1012.3,102.6L1012.5,125.3L1012.8,142.8L1013.1,131.8L1013.3,131L1013.6,142.8L1013.8,150.2L1014.1,133.1L1014.4,142.3L1014.6,153.2L1014.9,147.4L1015.1,154.7L1015.4,157.6L1015.7,147L1015.9,128.7L1016.2,107.7L1016.5,92.5L1016.7,82.2L1017,91.1L1017.2,110.3L1017.5,122.4L1017.8,132.2L1018,132.8L1018.3,144.9L1018.5,158.4L1018.8,161.3L1019.1,162.2L1019.3,183.1L1019.6,161.6L1019.8,140.5L1020.1,148.4L1020.4,156.1L1020.6,137.8L1020.9,124.6L1021.2,138.2L1021.4,145.8L1021.7,140.7L1021.9,105.3L1022.2,67.2L1022.5,42.5L1022.7,44.7L1023,59.7L1023.2,88.4L1023.5,123.5L1023.8,145.1L1024,142.4L1024.3,131.1L1024.6,139L1024.8,161.2L1025.1,166.4L1025.3,166.2L1025.6,167.8L1025.9,173.1L1026.1,205.5L1026.4,202.4L1026.6,174.9L1026.9,152L1027.2,139.7L1027.4,137.2L1027.7,162L1028,161.2L1028.2,161.1L1028.5,155.1L1028.7,122.7L1029,71.3L1029.3,41.6L1029.5,30.6L1029.8,59.2L1030,75.9L1030.3,91.3L1030.6,108.5L1030.8,110.6L1031.1,86.4L1031.4,71.1L1031.6,94.3L1031.9,111.6L1032.1,119.4L1032.4,145L1032.7,161.7L1032.9,168.3L1033.2,178.4L1033.4,185.7L1033.7,186.9L1034,172.1L1034.2,169.6L1034.5,170.8L1034.8,161.6L1035,141.9L1035.3,148.1L1035.5,140.5L1035.8,156.7L1036.1,156.3L1036.3,153.2L1036.6,165L1036.8,163.8L1037.1,153.2L1037.4,139.3L1037.6,137L1037.9,117.4L1038.2,112.7L1038.4,112.4L1038.7,123.2L1038.9,129.2L1039.2,146.5L1039.5,144.1L1039.7,154.4L1040,162.5L1040.2,152.5L1040.5,158.9L1040.8,158.6L1041,145.3L1041.3,145.6L1041.5,150.4L1041.8,146.1L1042.1,144.6L1042.3,132.2L1042.6,127.6L1042.9,115.8L1043.1,111.3L1043.4,123.1L1043.6,132.1L1043.9,130.5L1044.2,139.4L1044.4,127.4L1044.7,124.4L1044.9,137.9L1045.2,154.7L1045.5,156L1045.7,157.6L1046,145L1046.3,143L1046.5,154.1L1046.8,152.8L1047,150.6L1047.3,139.8L1047.6,139.4L1047.8,129.4L1048.1,148.1L1048.3,146.4L1048.6,143.2L1048.9,149.6L1049.1,157.9L1049.4,158.3L1049.7,148.1L1049.9,148.7L1050.2,154.9L1050.4,156L1050.7,152.5L1051,150.7L1051.2,153.4L1051.5,151.6L1051.7,136.9L1052,130.7L1052.3,137.4L1052.5,147.9L1052.8,154.7L1053.1,154.8L1053.3,150.6L1053.6,146.3L1053.8,149.9L1054.1,141.7L1054.4,140.9L1054.6,138.1L1054.9,137.3L1055.1,136.8L1055.4,138.1L1055.7,126.3L1055.9,111.7L1056.2,107.4L1056.5,108.1L1056.7,112.8L1057,130.7L1057.2,132.4L1057.5,140.5L1057.8,131.5L1058,146.5L1058.3,158.7L1058.5,153.3L1058.8,138.8L1059.1,120.3L1059.3,122.9L1059.6,133.8L1059.8,143.8L1060.1,144L1060.4,127.8L1060.6,126.7L1060.9,130.5L1061.2,137.8L1061.4,143L1061.7,163.6L1061.9,168.3L1062.2,169.3L1062.5,167.7L1062.7,164.1L1063,156L1063.2,168.1L1063.5,164.8L1063.8,142.2L1064,136L1064.3,125.5L1064.6,122.5L1064.8,123.4L1065.1,115.9L1065.3,123.9L1065.6,132.9L1065.9,135.5L1066.1,135L1066.4,140.9L1066.6,131.6L1066.9,128.9L1067.2,114.8L1067.4,105.3L1067.7,106.3L1068,105L1068.2,112L1068.5,122.8L1068.7,125.1L1069,126L1069.3,122L1069.5,124.4L1069.8,134.7L1070,142.3L1070.3,131.6L1070.6,143.8L1070.8,155.3L1071.1,160.8L1071.4,159.3L1071.6,166.6L1071.9,170.6L1072.1,171.5L1072.4,171L1072.7,161.3L1072.9,139.3L1073.2,107.4L1073.4,108.9L1073.7,109L1074,107.4L1074.2,109.3L1074.5,125.4L1074.8,132.4L1075,130.1L1075.3,124.2L1075.5,126.6L1075.8,136.1L1076.1,141.8L1076.3,146.9L1076.6,132.3L1076.8,118.9L1077.1,119.5L1077.4,133.2L1077.6,140.1L1077.9,131.5L1078.1,130.4L1078.4,132.3L1078.7,139.9L1078.9,145.4L1079.2,130.2L1079.5,137.1L1079.7,131.9L1080,138.5L1080.2,157.2L1080.5,161L1080.8,155L1081,150.5L1081.3,140.6L1081.5,109.9L1081.8,111.8L1082.1,111.4L1082.3,111.8L1082.6,110.2L1082.9,114.3L1083.1,146.3L1083.4,155.7L1083.6,155.3L1083.9,158.5L1084.2,165.2L1084.4,160.3L1084.7,159.9L1084.9,157.7L1085.2,138.5L1085.5,150.1L1085.7,138.7L1086,128.7L1086.3,124.2L1086.5,137.9L1086.8,156L1087,177.1L1087.3,184.8L1087.6,179.2L1087.8,175.4L1088.1,161.6L1088.3,134.7L1088.6,130.7L1088.9,128.2L1089.1,145.3L1089.4,161.5L1089.7,165.4L1089.9,157L1090.2,144.6L1090.4,103.7L1090.7,78.2L1091,80.3L1091.2,77.6L1091.5,89L1091.7,108.6L1092,137.8L1092.3,154.7L1092.5,152.7L1092.8,138.1L1093.1,154.8L1093.3,157.4L1093.6,159L1093.8,174.8L1094.1,198.6L1094.4,202.1L1094.6,203.4L1094.9,191.6L1095.1,167L1095.4,138.9L1095.7,121.2L1095.9,121.5L1096.2,119.7L1096.4,106.9L1096.7,99L1097,98.5L1097.2,112.6L1097.5,130.6L1097.8,128.2L1098,114.8L1098.3,115.5L1098.5,119.1L1098.8,129L1099.1,146.9L1099.3,153.2L1099.6,146.7L1099.8,146.7L1100.1,156.7L1100.4,146.8L1100.6,136L1100.9,143.8L1101.2,121.9L1101.4,89.1L1101.7,83L1101.9,94.2L1102.2,93L1102.5,106.1L1102.7,115.6L1103,113.6L1103.2,136L1103.5,158.1L1103.8,163.4L1104,172.9L1104.3,179.5L1104.6,191.9L1104.8,202.2L1105.1,213.6L1105.3,185.1L1105.6,160.4L1105.9,150.4L1106.1,147.6L1106.4,136.5L1106.6,132.8L1106.9,121.4L1107.2,97L1107.4,82.7L1107.7,77.7L1108,79L1108.2,92.4L1108.5,101.5L1108.7,110.5L1109,131.2L1109.3,139.6L1109.5,150L1109.8,152.2L1110,154.6L1110.3,160.2L1110.6,159L1110.8,150.1L1111.1,135.7L1111.4,144.3L1111.6,150.4L1111.9,142.8L1112.1,129.3L1112.4,137.2L1112.7,125.6L1112.9,129.2L1113.2,138.5L1113.4,138.2L1113.7,119L1114,115.8L1114.2,124.3L1114.5,128.8L1114.7,106.2L1115,101.9L1115.3,107.2L1115.5,126.7L1115.8,136.4L1116.1,143.9L1116.3,122.2L1116.6,148.7L1116.8,159L1117.1,158.7L1117.4,142.2L1117.6,142.9L1117.9,147.2L1118.1,163.3L1118.4,156.2L1118.7,153.1L1118.9,159.2L1119.2,141.7L1119.5,129.7L1119.7,125.4L1120,105.4L1120.2,105.5L1120.5,102.6L1120.8,114.9L1121,134.4L1121.3,139.1L1121.5,147L1121.8,165.8L1122.1,171.9L1122.3,166.2L1122.6,137.3L1122.9,133.6L1123.1,124.7L1123.4,120.9L1123.6,128.2L1123.9,128.1L1124.2,150.2L1124.4,131.4L1124.7,135.3L1124.9,149.8L1125.2,140.2L1125.5,151.8L1125.7,162.5L1126,161.1L1126.3,153.2L1126.5,115.5L1126.8,103.8L1127,102.2L1127.3,101L1127.6,104L1127.8,114.4L1128.1,115.3L1128.3,130.4L1128.6,138.7L1128.9,132.1L1129.1,126.8L1129.4,121.6L1129.7,124.1L1129.9,130.7L1130.2,146L1130.4,166.2L1130.7,175.7L1131,172.1L1131.2,174.1L1131.5,175.4L1131.7,174.9L1132,163.7L1132.3,163.1L1132.5,157.1L1132.8,153.8L1133,152.7L1133.3,149.3L1133.6,133L1133.8,139.9L1134.1,154.1L1134.4,140.8L1134.6,139L1134.9,146.5L1135.1,160.4L1135.4,164.4L1135.7,158.8L1135.9,154.6L1136.2,149.5L1136.4,137.5L1136.7,121.7L1137,121.8L1137.2,141.3L1137.5,148.7L1137.8,145.4L1138,140.5L1138.3,131.4L1138.5,132.3L1138.8,130.2L1139.1,149.5L1139.3,149.5L1139.6,150.7L1139.8,143.1L1140.1,128.7L1140.4,143.2L1140.6,150L1140.9,162.1L1141.2,155.9L1141.4,141.9L1141.7,116.6L1141.9,110.4L1142.2,111.6L1142.5,109.5L1142.7,110.9L1143,109.4L1143.2,122L1143.5,144.2L1143.8,138.3L1144,135.2L1144.3,147.9L1144.6,155.4L1144.8,155.8L1145.1,158.6L1145.3,134L1145.6,130.9L1145.9,141.7L1146.1,144.1L1146.4,153.3L1146.6,155.6L1146.9,152.7L1147.2,153.5L1147.4,146.2L1147.7,143.2L1148,146.1L1148.2,142L1148.5,135.6L1148.7,147.7L1149,164.5L1149.3,170.7L1149.5,164.2L1149.8,154.8L1150,146.1L1150.3,146L1150.6,122L1150.8,113.9L1151.1,114.8L1151.4,120.8L1151.6,147.7L1151.9,147.3L1152.1,148.6L1152.4,132.1L1152.7,115.8L1152.9,105.6L1153.2,97.1L1153.4,89.4L1153.7,91.6L1154,98L1154.2,128L1154.5,128.6L1154.7,124.3L1155,145.8L1155.3,163.6L1155.5,156.8L1155.8,128.1L1156.1,117.9L1156.3,133.7L1156.6,153L1156.8,149.4L1157.1,141.2L1157.4,143.2L1157.6,125L1157.9,123.8L1158.1,126.4L1158.4,122.9L1158.7,120.7L1158.9,124.7L1159.2,133.4L1159.5,130.6L1159.7,144.2L1160,149.2L1160.2,152.8L1160.5,154.9L1160.8,164.6L1161,164.9L1161.3,148.7L1161.5,119.1L1161.8,112L1162.1,111L1162.3,106.5L1162.6,104.8L1162.9,103.8L1163.1,106.7L1163.4,121.9L1163.6,128.3L1163.9,128.3L1164.2,144.2L1164.4,155.1L1164.7,164.6L1164.9,165.4L1165.2,176.1L1165.5,164.8L1165.7,145.9L1166,138.3L1166.3,142.2L1166.5,142.6L1166.8,137.5L1167,136.2L1167.3,128.1L1167.6,141.4L1167.8,158.9L1168.1,150.7L1168.3,152.1L1168.6,155.5L1168.9,161.2L1169.1,160.1L1169.4,153.6L1169.7,152.2L1169.9,153L1170.2,133.8L1170.4,119.4L1170.7,126.3L1171,128.2L1171.2,135.2L1171.5,133.9L1171.7,156.1L1172,177.1L1172.3,191.2L1172.5,179.6L1172.8,164L1173,154.2L1173.3,149.4L1173.6,164.5L1173.8,167.4L1174.1,167.8L1174.4,154.5L1174.6,143.5L1174.9,121.3L1175.1,119.3L1175.4,124.5L1175.7,121.7L1175.9,125.7L1176.2,124.6L1176.4,129.9L1176.7,117.8L1177,106.6L1177.2,101.9L1177.5,105.6L1177.8,134.6L1178,151.7L1178.3,160.8L1178.5,161.6L1178.8,148.4L1179.1,158.9L1179.3,167L1179.6,171.2L1179.8,168.6L1180.1,182.6L1180.4,182L1180.6,166.3L1180.9,154.2L1181.2,155.5L1181.4,141.5L1181.7,132.5L1181.9,113.5L1182.2,115.5L1182.5,108.4L1182.7,111L1183,113.6L1183.2,110.5L1183.5,111.2L1183.8,126.6L1184,153.8L1184.3,158.7L1184.6,149L1184.8,149.5L1185.1,122.3L1185.3,116.1L1185.6,112.8L1185.9,121.4L1186.1,143.9L1186.4,167.6L1186.6,167.8L1186.9,168.1L1187.2,143.2L1187.4,132.6L1187.7,128.6L1188,124.8L1188.2,123.1L1188.5,122.3L1188.7,126.9L1189,156.6L1189.3,178.8L1189.5,191.1L1189.8,184.1L1190,190.8L1190.3,191.1L1190.6,190.9L1190.8,181L1191.1,170.3L1191.3,160.5L1191.6,161.3L1191.9,153L1192.1,134.1L1192.4,127.5L1192.7,122.4L1192.9,132.1L1193.2,120L1193.4,118.5L1193.7,111.3L1194,99L1194.2,95.9L1194.5,117.5L1194.7,136.4L1195,151.7L1195.3,159.3L1195.5,154.2L1195.8,153.7L1196.1,165.4L1196.3,164.9L1196.6,150.8L1196.8,160L1197.1,155.6L1197.4,150.3L1197.6,144.7L1197.9,145.7L1198.1,150.4L1198.4,150.2L1198.7,156L1198.9,147.9L1199.2,128.2L1199.5,123.7L1199.7,121.5L1200,111.2L1200.2,92.2L1200.5,71.5L1200.8,67.6L1201,80.7L1201.3,87.4L1201.5,99.7L1201.8,112.8L1202.1,120.9L1202.3,104.9L1202.6,93.9L1202.9,72.5L1203.1,81.5L1203.4,95.4L1203.6,136.9L1203.9,153.8L1204.2,149.9L1204.4,151.4L1204.7,153.9L1204.9,162.4L1205.2,178.6L1205.5,157.5L1205.7,134.5L1206,124.8L1206.3,123.4L1206.5,130.6L1206.8,121.2L1207,110L1207.3,110.1L1207.6,108.8L1207.8,109.2L1208.1,108.3L1208.3,119.6L1208.6,142.1L1208.9,155.5L1209.1,165.6L1209.4,170.5L1209.6,170.9L1209.9,167.1L1210.2,162L1210.4,157.6L1210.7,162L1211,135.5L1211.2,129.6L1211.5,121.2L1211.7,112.5L1212,113.1L1212.3,110.7L1212.5,107.6L1212.8,106.3L1213,107.8L1213.3,116.8L1213.6,139.4L1213.8,155.9L1214.1,163.4L1214.4,157.8L1214.6,155.8L1214.9,156.3L1215.1,151.3L1215.4,129.4L1215.7,129.5L1215.9,147.5L1216.2,156.7L1216.4,156.3L1216.7,149.3L1217,159.7L1217.2,164.7L1217.5,163.1L1217.8,167.1L1218,164.7L1218.3,158.6L1218.5,151.2L1218.8,144.5L1219.1,140.7L1219.3,144.9L1219.6,148.1L1219.8,152.9L1220.1,147.4L1220.4,140.7L1220.6,140L1220.9,139.4L1221.2,144.5L1221.4,142.8L1221.7,145.8L1221.9,146.2L1222.2,159.4L1222.5,145.6L1222.7,152.5L1223,163.7L1223.2,159.5L1223.5,151.7L1223.8,132.4L1224,133.7L1224.3,139.1L1224.6,134.5L1224.8,125.2L1225.1,120.5L1225.3,132.3L1225.6,144.7L1225.9,126.4L1226.1,128.6L1226.4,143.5L1226.6,146.5L1226.9,123L1227.2,116.3L1227.4,134.9L1227.7,143.8L1227.9,140.3L1228.2,134.3L1228.5,133.5L1228.7,134.2L1229,126.4L1229.3,132.9L1229.5,139.7L1229.8,139.6L1230,150.3L1230.3,150.9L1230.6,135.9L1230.8,151.3L1231.1,167.2L1231.3,167.4L1231.6,166.6L1231.9,167.5L1232.1,164.5L1232.4,152L1232.7,133.9L1232.9,129.6L1233.2,135.5L1233.4,135.8L1233.7,139.7L1234,144.3L1234.2,143.8L1234.5,138L1234.7,120.8L1235,118.2L1235.3,125.3L1235.5,129.6L1235.8,135.8L1236.1,139.1L1236.3,133L1236.6,143.8L1236.8,145.6L1237.1,129L1237.4,127.1L1237.6,137.2L1237.9,125.1L1238.1,130.3L1238.4,132L1238.7,126.9L1238.9,140.4L1239.2,147.8L1239.5,141.4L1239.7,133.7L1240,140.8L1240.2,140.6L1240.5,124.6L1240.8,115.4L1241,111L1241.3,110.7L1241.5,113.4L1241.8,115.8L1242.1,133.9L1242.3,149.4L1242.6,140.2L1242.9,138L1243.1,160L1243.4,163.7L1243.6,143.9L1243.9,123.1L1244.2,124.4L1244.4,115L1244.7,110.4L1244.9,107.8L1245.2,108.5L1245.5,115.1L1245.7,113.3L1246,118.2L1246.2,118.7L1246.5,137.6L1246.8,129.4L1247,125.4L1247.3,133.1L1247.6,135.5L1247.8,164L1248.1,171.9L1248.3,171.9L1248.6,172L1248.9,169.4L1249.1,152.1L1249.4,132.8L1249.6,131.8L1249.9,155.8L1250.2,155.1L1250.4,150.6L1250.7,147L1251,156L1251.2,143.7L1251.5,117.6L1251.7,116.5L1252,121.5L1252.3,121.6L1252.5,123.6L1252.8,122.9L1253,126.8L1253.3,148.2L1253.6,139.5L1253.8,148.8L1254.1,147.4L1254.4,145.3L1254.6,147.2L1254.9,145.3L1255.1,148.5L1255.4,149.4"/>
<rect class="ax" x="915.8" y="7.3" width="339.6" height="267.5"/>
<path class="t" d="M1000.7,274.8v-4.5 M1000.7,7.3v4.5M1085.6,274.8v-4.5 M1085.6,7.3v4.5M1170.5,274.8v-4.5 M1170.5,7.3v4.5M915.8,74.2h4.5 M1255.4,74.2h-4.5M915.8,141.1h4.5 M1255.4,141.1h-4.5M915.8,207.9h4.5 M1255.4,207.9h-4.5"/>
<text class="tk" x="915.8" y="301.3" text-anchor="middle">0</text>
<text class="tk" x="1000.7" y="301.3" text-anchor="middle">1</text>
<text class="tk" x="1085.6" y="301.3" text-anchor="middle">2</text>
<text class="tk" x="1170.5" y="301.3" text-anchor="middle">3</text>
<text class="tk" x="1255.4" y="301.3" text-anchor="middle">4</text>
<text class="tk" x="908.8" y="14.8" text-anchor="end">4</text>
<text class="tk" x="908.8" y="81.7" text-anchor="end">2</text>
<text class="tk" x="908.8" y="148.6" text-anchor="end">0</text>
<text class="tk" x="908.8" y="215.4" text-anchor="end">-2</text>
<text class="tk" x="908.8" y="282.3" text-anchor="end">-4</text>
<text class="al" x="1076.5" y="324.6" text-anchor="middle">Time(t/s)</text>
<text class="yl" transform="translate(884.2,151.3) rotate(-90)" text-anchor="middle">Amplitude (m<tspan dx="3" dy="-1">·</tspan><tspan dx="3" dy="1">s</tspan><tspan font-size="17px" dy="-12">−2</tspan><tspan dy="12" dx="4">)</tspan></text>
</g>
<g id="spec-b">
<clipPath id="sb"><rect x="1362.4" y="9" width="290.9" height="255.3"/></clipPath>
<g clip-path="url(#sb)">
<g filter="url(#pm)"><rect x="1362.4" y="9" width="290.9" height="255.3" fill="url(#gb)"/><rect x="1362.4" y="9" width="290.9" height="255.3" fill="url(#eb0)" filter="url(#fb0)"/><rect x="1362.4" y="9" width="290.9" height="255.3" fill="url(#eb1)" filter="url(#fb1)"/><rect x="1362.4" y="9" width="290.9" height="255.3" fill="url(#eb2)" filter="url(#fb2)"/><rect x="1362.4" y="9" width="290.9" height="255.3" fill="url(#eb3)" filter="url(#fb3)"/><rect x="1362.4" y="9" width="290.9" height="255.3" fill="url(#eb4)" filter="url(#fb4)"/><g filter="url(#bl)" fill="#fff"><ellipse cx="1554.5" cy="232.1" rx="4.5" ry="2.2" opacity=".58"/><ellipse cx="1518.4" cy="236.2" rx="6" ry="1.8" opacity=".47"/><ellipse cx="1540" cy="237.5" rx="5" ry="2" opacity=".43"/><ellipse cx="1587.9" cy="233" rx="4.5" ry="2.5" opacity=".39"/><ellipse cx="1443.4" cy="234.8" rx="6" ry="2" opacity=".39"/><ellipse cx="1398.3" cy="242.4" rx="8" ry="1.8" opacity=".39"/><ellipse cx="1457.9" cy="243.5" rx="7" ry="1.8" opacity=".39"/><ellipse cx="1508.4" cy="242" rx="6" ry="1.8" opacity=".35"/><ellipse cx="1481.4" cy="218.5" rx="5" ry="3" opacity=".27"/><ellipse cx="1524.7" cy="217.6" rx="4" ry="4" opacity=".27"/><ellipse cx="1459.7" cy="201.4" rx="3" ry="3.5" opacity=".16"/><ellipse cx="1522.9" cy="196.9" rx="3" ry="4" opacity=".16"/><ellipse cx="1625.8" cy="234.8" rx="6" ry="2.2" opacity=".33"/><ellipse cx="1396.5" cy="236.6" rx="6" ry="2" opacity=".31"/><ellipse cx="1598.7" cy="225.8" rx="4" ry="3.5" opacity=".27"/><ellipse cx="1375" cy="247" rx="8" ry="2" opacity=".27"/><ellipse cx="1640" cy="246" rx="8" ry="2" opacity=".27"/><ellipse cx="1420" cy="228" rx="5" ry="2.5" opacity=".23"/><ellipse cx="1565" cy="245" rx="8" ry="1.8" opacity=".31"/><ellipse cx="1610" cy="243" rx="7" ry="1.8" opacity=".27"/></g><g filter="url(#bw)" fill="#fff"><ellipse cx="1374.9" cy="120.6" rx="2" ry="8" opacity=".09"/><ellipse cx="1415.5" cy="123.3" rx="2" ry="8" opacity=".16"/><ellipse cx="1443.4" cy="118.8" rx="2" ry="8" opacity=".09"/><ellipse cx="1475" cy="121.5" rx="2" ry="8" opacity=".11"/><ellipse cx="1510.2" cy="120.6" rx="2" ry="8" opacity=".11"/><ellipse cx="1530.1" cy="123.3" rx="2" ry="8" opacity=".16"/><ellipse cx="1553.6" cy="118" rx="2" ry="8" opacity=".11"/><ellipse cx="1568" cy="120.6" rx="2" ry="8" opacity=".09"/><ellipse cx="1598.7" cy="118.8" rx="2" ry="8" opacity=".09"/><ellipse cx="1643.8" cy="123.3" rx="2" ry="8" opacity=".11"/><ellipse cx="1577" cy="142.3" rx="2" ry="8" opacity=".06"/></g><g filter="url(#bs)" fill="#fff"><ellipse cx="1445.3" cy="254.3" rx="16" ry="1.2" opacity=".51"/><ellipse cx="1535.5" cy="258.3" rx="18" ry="1.1" opacity=".43"/><ellipse cx="1589.7" cy="254.3" rx="14" ry="1.1" opacity=".39"/><ellipse cx="1390" cy="251" rx="14" ry="1.1" opacity=".31"/><ellipse cx="1500" cy="250" rx="14" ry="1.1" opacity=".31"/><ellipse cx="1625" cy="259.5" rx="18" ry="1" opacity=".31"/></g></g>
</g>
<rect class="ax" x="1362.4" y="9" width="290.9" height="255.3"/>
<path class="t" d="M1431.8,264.3v-4 M1431.8,9v4M1501.8,264.3v-4 M1501.8,9v4M1570.9,264.3v-4 M1570.9,9v4M1641.3,264.3v-4 M1641.3,9v4M1362.4,59.8h4 M1653.3,59.8h-4M1362.4,111.9h4 M1653.3,111.9h-4M1362.4,162.4h4 M1653.3,162.4h-4M1362.4,214.2h4 M1653.3,214.2h-4"/>
<text class="tk ts" x="1362.4" y="291.9" text-anchor="middle">0</text>
<text class="tk ts" x="1431.8" y="291.9" text-anchor="middle">1</text>
<text class="tk ts" x="1501.8" y="291.9" text-anchor="middle">2</text>
<text class="tk ts" x="1570.9" y="291.9" text-anchor="middle">3</text>
<text class="tk ts" x="1641.3" y="291.9" text-anchor="middle">4</text>
<text class="tk ts" x="1355.4" y="16.5" text-anchor="end">500</text>
<text class="tk ts" x="1355.4" y="67.3" text-anchor="end">400</text>
<text class="tk ts" x="1355.4" y="119.4" text-anchor="end">300</text>
<text class="tk ts" x="1355.4" y="169.9" text-anchor="end">200</text>
<text class="tk ts" x="1355.4" y="221.7" text-anchor="end">100</text>
<text class="al" x="1505.5" y="324.6" text-anchor="middle">Time(t/s)</text>
<text class="yf" transform="translate(1306.9,149.5) rotate(-90)" text-anchor="middle">Frequency(Hz)</text>
<rect x="1660.6" y="9" width="16.6" height="255.3" fill="url(#cb)"/>
<rect x="1660.6" y="9" width="16.6" height="255.3" fill="none" stroke="#1e1e1e" stroke-width="0.6" stroke-opacity="0.55"/>
<text class="tk" x="1683.2" y="17.2">0.35</text>
<text class="tk" x="1683.2" y="52.7">0.3</text>
<text class="tk" x="1683.2" y="89.2">0.25</text>
<text class="tk" x="1683.2" y="125.8">0.2</text>
<text class="tk" x="1683.2" y="162.3">0.15</text>
<text class="tk" x="1683.2" y="198.8">0.1</text>
<text class="tk" x="1683.2" y="235.4">0.05</text>
<path class="t" style="stroke-width:1.3" d="M1677.2,10h-4M1677.2,45.5h-4M1677.2,82h-4M1677.2,118.6h-4M1677.2,155.1h-4M1677.2,191.6h-4M1677.2,228.2h-4"/>
</g>
<g id="plot-c">
<clipPath id="cc"><rect x="63.8" y="402.6" width="336.7" height="265.3"/></clipPath>
<path class="sg" clip-path="url(#cc)" d="M63.8,522.9L64.1,518.2L64.3,526.1L64.6,543.4L64.8,533.1L65.1,512.2L65.4,503.4L65.6,514.7L65.9,540.9L66.1,556.4L66.4,553.9L66.7,556.2L66.9,556.8L67.2,555.9L67.4,540.8L67.7,545.6L67.9,549.5L68.2,570.1L68.5,577.9L68.7,574.3L69,563.7L69.2,563.2L69.5,563.4L69.8,560.5L70,560.1L70.3,554.9L70.5,554.6L70.8,548.9L71.1,524.4L71.3,487.6L71.6,483.3L71.8,484.1L72.1,498.4L72.4,496.8L72.6,510.9L72.9,526.1L73.1,517.5L73.4,523.3L73.6,542.4L73.9,539.8L74.2,533.7L74.4,526.8L74.7,551.6L74.9,548.8L75.2,523.8L75.5,517.8L75.7,511.1L76,483L76.2,479.1L76.5,476.3L76.8,477.4L77,530.6L77.3,620L77.5,672.9L77.8,663.2L78.1,598L78.3,559.8L78.6,552.3L78.8,538.1L79.1,541L79.4,526.1L79.6,507.7L79.9,499.9L80.1,511.7L80.4,527.3L80.6,524.4L80.9,549.1L81.2,537.5L81.4,511.5L81.7,510.4L81.9,519L82.2,526.2L82.5,532L82.7,528.4L83,545.5L83.2,583.4L83.5,601.1L83.8,587.6L84,584.1L84.3,561.8L84.5,541.9L84.8,538.4L85.1,529.3L85.3,524L85.6,509.9L85.8,519.8L86.1,528.7L86.4,549.4L86.6,547.7L86.9,534L87.1,496.6L87.4,462.8L87.6,443.9L87.9,459.6L88.2,465.4L88.4,494.6L88.7,522L88.9,536.6L89.2,543.7L89.5,557.8L89.7,541.3L90,522.9L90.2,526.2L90.5,554.1L90.8,575.7L91,566.4L91.3,548.1L91.5,538L91.8,531.6L92.1,531.4L92.3,526.3L92.6,543.4L92.8,534L93.1,507.2L93.3,472.9L93.6,459.1L93.9,473.1L94.1,501.1L94.4,524.2L94.6,537.7L94.9,553.1L95.2,554.5L95.4,545.9L95.7,531.7L95.9,537.9L96.2,563L96.5,581.9L96.7,574.5L97,570.7L97.2,552.3L97.5,558.1L97.8,560.9L98,533.6L98.3,539L98.5,575.6L98.8,587.4L99.1,584.9L99.3,585.3L99.6,580L99.8,560.8L100.1,535.3L100.3,535.5L100.6,523.5L100.9,509.4L101.1,493.4L101.4,495.5L101.6,492.4L101.9,508.7L102.2,523.8L102.4,521.4L102.7,530.9L102.9,535.4L103.2,545.3L103.5,551.6L103.7,557.4L104,558.4L104.2,549.1L104.5,534.5L104.8,530.3L105,551.2L105.3,552L105.5,557.8L105.8,563.7L106,570.2L106.3,567.3L106.6,568.3L106.8,568.3L107.1,559.1L107.3,549.7L107.6,554.6L107.9,555L108.1,545.1L108.4,535.8L108.6,528.9L108.9,533.2L109.2,535.4L109.4,528.8L109.7,519.9L109.9,517.8L110.2,512.7L110.5,512.2L110.7,522.7L111,530L111.2,514.9L111.5,511L111.8,514.8L112,511.3L112.3,510.4L112.5,515L112.8,517.4L113,519L113.3,520.8L113.6,523.1L113.8,518.2L114.1,526.6L114.3,533.5L114.6,539L114.9,539.9L115.1,547.9L115.4,550.3L115.6,533L115.9,525.7L116.2,541.9L116.4,553.2L116.7,550.8L116.9,544.8L117.2,549L117.5,556.6L117.7,536.3L118,536L118.2,551.2L118.5,551L118.8,544.1L119,545.9L119.3,542.3L119.5,546.1L119.8,541.5L120,536.4L120.3,545.8L120.6,555.8L120.8,547.1L121.1,536.2L121.3,521.1L121.6,525.1L121.9,527.5L122.1,532.3L122.4,530.7L122.6,548.2L122.9,557.1L123.2,544.9L123.4,534.4L123.7,509.8L123.9,486.7L124.2,507.4L124.5,525.6L124.7,519.8L125,539.3L125.2,549.3L125.5,567.2L125.7,575.2L126,581.9L126.3,577.2L126.5,580.3L126.8,577.7L127,561.7L127.3,551.8L127.6,535.5L127.8,516.7L128.1,525.2L128.3,537.4L128.6,536.5L128.9,517.2L129.1,519.4L129.4,528.6L129.6,523.4L129.9,508.4L130.2,490.4L130.4,478L130.7,480.5L130.9,501.8L131.2,506.6L131.5,515L131.7,514L132,510.8L132.2,514.4L132.5,520.9L132.7,534.6L133,546.1L133.3,536.5L133.5,559.9L133.8,546.4L134,548.7L134.3,557.6L134.6,555.5L134.8,552L135.1,574.4L135.3,579.6L135.6,579.6L135.9,556.9L136.1,546.3L136.4,549.4L136.6,532.9L136.9,526.5L137.2,519.4L137.4,512.1L137.7,511.8L137.9,513.3L138.2,512.4L138.4,517.5L138.7,524.6L139,516.9L139.2,525.2L139.5,545.8L139.7,553.1L140,545.3L140.3,548.8L140.5,546.4L140.8,548.3L141,545.2L141.3,549.5L141.6,537.9L141.8,533.9L142.1,534.7L142.3,530.6L142.6,523.7L142.9,540.2L143.1,552.9L143.4,554.9L143.6,548L143.9,530.1L144.2,527.6L144.4,533.3L144.7,516.3L144.9,512.6L145.2,513.4L145.4,514.3L145.7,529.6L146,536.2L146.2,521.5L146.5,515.2L146.7,524.9L147,550.8L147.3,553.7L147.5,554.7L147.8,546.3L148,549.2L148.3,555.3L148.6,580.3L148.8,583.6L149.1,574.1L149.3,554.3L149.6,545L149.9,536.8L150.1,525.2L150.4,546.1L150.6,550.2L150.9,539L151.2,535.4L151.4,536.8L151.7,538.4L151.9,545.3L152.2,542.6L152.4,553.8L152.7,549.1L153,532L153.2,534.3L153.5,532.8L153.7,514.5L154,502.7L154.3,485.9L154.5,487.5L154.8,497L155,508L155.3,528.5L155.6,547L155.8,552.3L156.1,561.4L156.3,564.9L156.6,562.5L156.9,560.5L157.1,570.4L157.4,572.9L157.6,578.6L157.9,575L158.1,550L158.4,527.8L158.7,509.3L158.9,490.5L159.2,489.1L159.4,499.2L159.7,521.6L160,535.3L160.2,524.9L160.5,528.1L160.7,535.7L161,543.2L161.3,526.4L161.5,537.6L161.8,546.4L162,543.2L162.3,549.3L162.6,553.9L162.8,540.5L163.1,524.8L163.3,501.4L163.6,485.3L163.9,473.8L164.1,485.4L164.4,504.5L164.6,515.9L164.9,525.9L165.1,527.2L165.4,537.3L165.7,552.2L165.9,556.5L166.2,555.5L166.4,579L166.7,557.5L167,532.5L167.2,542.7L167.5,550.4L167.7,529.6L168,517.8L168.3,535.3L168.5,538.1L168.8,535.6L169,500.8L169.3,462.8L169.6,436.7L169.8,436.5L170.1,453.2L170.3,482.2L170.6,515.6L170.8,539.5L171.1,535.3L171.4,526.5L171.6,534.9L171.9,555.3L172.1,560.5L172.4,562.3L172.7,561.9L172.9,567.6L173.2,601L173.4,598.4L173.7,571.2L174,546.8L174.2,534.9L174.5,530.4L174.7,557.6L175,553L175.3,557.6L175.5,548.8L175.8,518.6L176,465.3L176.3,433.1L176.6,423.3L176.8,451.7L177.1,468.2L177.3,484.9L177.6,500.1L177.8,504.5L178.1,476.5L178.4,466L178.6,490.3L178.9,508.2L179.1,515L179.4,539.4L179.7,557.2L179.9,565L180.2,575.9L180.4,581.6L180.7,579.9L181,568.4L181.2,564.2L181.5,565.5L181.7,557.3L182,537.6L182.3,545.1L182.5,534.1L182.8,552.6L183,553L183.3,547.1L183.6,560.8L183.8,559.2L184.1,546.7L184.3,534.6L184.6,530.6L184.8,510.6L185.1,506.8L185.4,507.6L185.6,516.2L185.9,522.2L186.1,537.7L186.4,537.5L186.7,548.1L186.9,558L187.2,546.8L187.4,552.8L187.7,554.4L188,539L188.2,539.5L188.5,545.2L188.7,540.8L189,538.3L189.3,528L189.5,521.3L189.8,511.1L190,507.5L190.3,517.7L190.5,525.9L190.8,522.7L191.1,534.1L191.3,523.8L191.6,518L191.8,533L192.1,549.5L192.4,551.2L192.6,549.4L192.9,541.8L193.1,538.4L193.4,546.9L193.7,549.7L193.9,544.4L194.2,533.5L194.4,530.9L194.7,525.1L195,540.8L195.2,540.5L195.5,538.5L195.7,543.7L196,551.4L196.3,552.7L196.5,545.2L196.8,540.8L197,548.9L197.3,550.7L197.5,548.7L197.8,543.5L198.1,547.8L198.3,545L198.6,532.7L198.8,526.8L199.1,529.6L199.4,543.5L199.6,552.8L199.9,547.2L200.1,544.2L200.4,543L200.7,543.3L200.9,534.3L201.2,533.6L201.4,531.8L201.7,532.5L202,530.1L202.2,532.2L202.5,517.8L202.7,504.9L203,503.3L203.2,502.7L203.5,507L203.8,524.1L204,527.6L204.3,534.4L204.5,526.3L204.8,541.5L205.1,554.8L205.3,550.1L205.6,531.8L205.8,515.5L206.1,518.6L206.4,526.8L206.6,537.1L206.9,535.6L207.1,520.1L207.4,523.1L207.7,525.8L207.9,533.4L208.2,537.1L208.4,558.7L208.7,563.8L209,563.6L209.2,563.7L209.5,561.4L209.7,552L210,562.1L210.2,558.2L210.5,536.5L210.8,532.3L211,519.1L211.3,514.1L211.5,516.2L211.8,511.1L212.1,518.6L212.3,526.6L212.6,528.2L212.8,527.6L213.1,533.1L213.4,526.1L213.6,523.2L213.9,509.9L214.1,500L214.4,500.2L214.7,499.9L214.9,505.6L215.2,515.6L215.4,519.8L215.7,519.7L216,514.5L216.2,516L216.5,527.5L216.7,533.8L217,524.8L217.2,539.3L217.5,549.8L217.8,554L218,551.8L218.3,561.6L218.5,567.3L218.8,564.8L219.1,565.9L219.3,554.3L219.6,533.7L219.8,503.3L220.1,502.9L220.4,500.5L220.6,504.2L220.9,503.4L221.1,519.3L221.4,525.7L221.7,525L221.9,518.8L222.2,519L222.4,532L222.7,535.2L222.9,540.9L223.2,526.9L223.5,514L223.7,514.2L224,527.8L224.2,534.4L224.5,526.9L224.8,527.1L225,524.3L225.3,533.2L225.5,537L225.8,521.9L226.1,531L226.3,530L226.6,533.7L226.8,551.5L227.1,555.5L227.4,552.1L227.6,541.2L227.9,534.8L228.1,506.1L228.4,505.2L228.7,505.9L228.9,505.1L229.2,505.2L229.4,509.4L229.7,540.3L229.9,551.3L230.2,549L230.5,552.8L230.7,559.3L231,553.9L231.2,552.3L231.5,549.6L231.8,532.1L232,545.3L232.3,533.1L232.5,521.8L232.8,516.5L233.1,532.2L233.3,550.5L233.6,571.1L233.8,578.7L234.1,573.2L234.4,570.5L234.6,553.9L234.9,529.2L235.1,523.4L235.4,520.6L235.6,537.9L235.9,555L236.2,560.8L236.4,551.4L236.7,537.5L236.9,498.5L237.2,470.4L237.5,473.1L237.7,471.6L238,481.4L238.2,502.7L238.5,533.6L238.8,548.5L239,545.4L239.3,533.8L239.5,548L239.8,550.9L240.1,552.8L240.3,571.3L240.6,592.4L240.8,599L241.1,597.3L241.4,587.7L241.6,561.5L241.9,530.2L242.1,516.5L242.4,512.2L242.6,511.9L242.9,501L243.2,493L243.4,492.5L243.7,506.2L243.9,526.6L244.2,521.7L244.5,507.5L244.7,507.9L245,512.4L245.2,523.1L245.5,539.2L245.8,542.4L246,541.2L246.3,540.4L246.5,552L246.8,543.1L247.1,528.9L247.3,536.3L247.6,518.3L247.8,482.3L248.1,477.1L248.3,488.1L248.6,486.6L248.9,498.6L249.1,509.8L249.4,506.1L249.6,531.2L249.9,552.5L250.2,559.1L250.4,568L250.7,575.1L250.9,586L251.2,597.1L251.5,605.2L251.7,581.1L252,554.1L252.2,544.3L252.5,543.3L252.8,532.9L253,528.1L253.3,515.6L253.5,491.6L253.8,475.9L254.1,470.5L254.3,475.3L254.6,485.2L254.8,494.4L255.1,505.8L255.3,523.2L255.6,534.3L255.9,545.8L256.1,545.1L256.4,549.5L256.6,555.9L256.9,553.9L257.2,544.2L257.4,528.7L257.7,537.1L257.9,545.1L258.2,536.2L258.5,522.7L258.7,530.8L259,519.4L259.2,523.3L259.5,531.3L259.8,532.9L260,511.8L260.3,510.1L260.5,517.9L260.8,522L261.1,498.5L261.3,494.5L261.6,499.7L261.8,522.2L262.1,533L262.3,538.1L262.6,517.9L262.9,539.8L263.1,551.6L263.4,554.2L263.6,536.5L263.9,535.3L264.2,540.2L264.4,557.2L264.7,549.9L264.9,548L265.2,550.2L265.5,537.1L265.7,520.6L266,518.5L266.2,499.9L266.5,498L266.8,496.6L267,510.3L267.3,528.6L267.5,532.3L267.8,541.4L268,561.3L268.3,568.8L268.6,559.8L268.8,529.9L269.1,529.2L269.3,521.5L269.6,516L269.9,523.7L270.1,520.6L270.4,543.1L270.6,528.4L270.9,529.7L271.2,544.4L271.4,534.2L271.7,543.1L271.9,553.7L272.2,556.5L272.5,547.8L272.7,510.1L273,496.5L273.2,495.4L273.5,498.4L273.8,495.8L274,508.7L274.3,508.6L274.5,524.5L274.8,532L275,525.7L275.3,520.3L275.6,515.2L275.8,517.4L276.1,524.8L276.3,539.9L276.6,560.4L276.9,569.5L277.1,566.1L277.4,571L277.6,569.9L277.9,571L278.2,558.3L278.4,558.8L278.7,550.2L278.9,545.3L279.2,546.2L279.5,542.7L279.7,528L280,535.2L280.2,547.7L280.5,534.7L280.7,530.8L281,540.2L281.3,556.5L281.5,558.7L281.8,554.7L282,547.5L282.3,544.3L282.6,531.9L282.8,515.8L283.1,517.1L283.3,534.1L283.6,543.2L283.9,539.2L284.1,533.7L284.4,525.7L284.6,526.3L284.9,526.7L285.2,544.2L285.4,543.1L285.7,544.7L285.9,537.2L286.2,525.2L286.5,536.8L286.7,548.8L287,556.2L287.2,550.3L287.5,536.1L287.7,510.2L288,504.1L288.3,506.5L288.5,503.8L288.8,504.3L289,505.8L289.3,518.2L289.6,537.2L289.8,530.9L290.1,528.8L290.3,544L290.6,549.6L290.9,550.3L291.1,549.8L291.4,529.8L291.6,523.9L291.9,532.8L292.2,537.8L292.4,546.3L292.7,549.7L292.9,545.8L293.2,550.4L293.5,541.6L293.7,539.3L294,541.1L294.2,538.7L294.5,530.7L294.7,540.8L295,557.4L295.3,564.9L295.5,560.8L295.8,549.2L296,542.1L296.3,537.8L296.6,516.7L296.8,506.7L297.1,508.6L297.3,517.4L297.6,541.4L297.9,542.1L298.1,542.6L298.4,523.2L298.6,508L298.9,497.4L299.2,489.6L299.4,484.1L299.7,483.2L299.9,492.6L300.2,519L300.4,521.2L300.7,519.5L301,539.5L301.2,557.4L301.5,551.2L301.7,521L302,514L302.3,526.6L302.5,546.3L302.8,545.4L303,534L303.3,537.4L303.6,520.3L303.8,518L304.1,522.5L304.3,517.7L304.6,514.4L304.9,518.1L305.1,528.5L305.4,524.3L305.6,537.1L305.9,540.4L306.2,544.7L306.4,552.4L306.7,560L306.9,560.5L307.2,540.8L307.4,512.3L307.7,505.1L308,505.6L308.2,500.1L308.5,499.3L308.7,497.7L309,499.8L309.3,517.9L309.5,522.2L309.8,523.9L310,536.3L310.3,548.3L310.6,557.2L310.8,560.1L311.1,573.1L311.3,559.4L311.6,540.9L311.9,532.8L312.1,536.1L312.4,538.6L312.6,529.9L312.9,529.5L313.1,521.7L313.4,536.4L313.7,552.5L313.9,544.4L314.2,545.6L314.4,550L314.7,556.9L315,554.4L315.2,546.6L315.5,545.6L315.7,545.8L316,526.1L316.3,513.6L316.5,518.2L316.8,523.7L317,528.4L317.3,530.5L317.6,549L317.8,571.5L318.1,583.8L318.3,576.4L318.6,560.1L318.9,549.8L319.1,545.8L319.4,558L319.6,560.2L319.9,562L320.1,550.3L320.4,539.3L320.7,515.9L320.9,512.8L321.2,516.5L321.4,515.3L321.7,520.3L322,517L322.2,522.7L322.5,512.9L322.7,501.2L323,496.2L323.3,502.6L323.5,529.1L323.8,545.8L324,552.4L324.3,555.8L324.6,543.8L324.8,551.5L325.1,559.2L325.3,567.2L325.6,562.6L325.9,578L326.1,575.3L326.4,558.7L326.6,547.3L326.9,548.9L327.1,537.2L327.4,526.9L327.7,509.1L327.9,509.4L328.2,505.3L328.4,504.2L328.7,506.5L329,505.8L329.2,504.4L329.5,519.2L329.7,548.3L330,555.7L330.3,546.1L330.5,543.9L330.8,514.8L331,509L331.3,509.7L331.6,513.7L331.8,537.4L332.1,562.9L332.3,564L332.6,563.2L332.8,536.2L333.1,527.8L333.4,521.7L333.6,515.6L333.9,516.9L334.1,511.7L334.4,521.5L334.7,551L334.9,573.3L335.2,584.4L335.4,580.3L335.7,583.5L336,584.3L336.2,584.9L336.5,575L336.7,564.9L337,553.6L337.3,553.6L337.5,547.1L337.8,530.2L338,522.9L338.3,518.8L338.6,524.5L338.8,514.9L339.1,511.9L339.3,506.9L339.6,494.4L339.8,492L340.1,513.3L340.4,531.1L340.6,545.3L340.9,553.3L341.1,549L341.4,548.7L341.7,558.5L341.9,559L342.2,544.8L342.4,554.5L342.7,549.4L343,543.8L343.2,541.8L343.5,541.7L343.7,544.6L344,544.1L344.3,549.2L344.5,541.9L344.8,523L345,516.8L345.3,517.1L345.5,504.1L345.8,485.9L346.1,466.2L346.3,458.6L346.6,475.1L346.8,481L347.1,492.9L347.4,504.6L347.6,513.2L347.9,498.1L348.1,488.4L348.4,467L348.7,475.8L348.9,487.7L349.2,529.7L349.4,549.4L349.7,543.5L350,547.7L350.2,548.8L350.5,558.6L350.7,574L351,552.3L351.3,528.9L351.5,520.2L351.8,517L352,524.7L352.3,516.3L352.5,503.2L352.8,502.6L353.1,506L353.3,503.9L353.6,502.4L353.8,514.2L354.1,536.5L354.4,549.8L354.6,562.3L354.9,565.3L355.1,564.6L355.4,562.6L355.7,558.1L355.9,552.2L356.2,556.7L356.4,528.9L356.7,522.2L357,515.8L357.2,507.1L357.5,507.8L357.7,506.2L358,503.3L358.3,501.7L358.5,500.7L358.8,509L359,534.1L359.3,550.9L359.5,557.5L359.8,552.2L360.1,552L360.3,549.2L360.6,545.5L360.8,521.6L361.1,522.7L361.4,544.1L361.6,549.8L361.9,550.6L362.1,543.6L362.4,551.6L362.7,558.2L362.9,560.5L363.2,560.3L363.4,561.3L363.7,552.5L364,544.6L364.2,536.6L364.5,533.9L364.7,540.5L365,540.3L365.2,550L365.5,542.5L365.8,537.4L366,532.9L366.3,534.3L366.5,538.9L366.8,536.8L367.1,537.6L367.3,543.1L367.6,552.5L367.8,541.6L368.1,546.2L368.4,557.8L368.6,553.8L368.9,547L369.1,528.4L369.4,530.7L369.7,535.8L369.9,527.1L370.2,521.7L370.4,512.2L370.7,527.3L371,537.5L371.2,521.9L371.5,523.2L371.7,537L372,540.4L372.2,518.6L372.5,510.3L372.8,529.1L373,538.1L373.3,538L373.5,528.5L373.8,527.1L374.1,526.6L374.3,518.6L374.6,529.7L374.8,535L375.1,532.3L375.4,546.1L375.6,544.9L375.9,528.4L376.1,546.5L376.4,560.8L376.7,561.3L376.9,561.6L377.2,560.6L377.4,556.2L377.7,546.1L377.9,527.3L378.2,522.7L378.5,528.5L378.7,529.3L379,535.6L379.2,541.2L379.5,536.8L379.8,532.7L380,513.3L380.3,514.4L380.5,520.2L380.8,526L381.1,530.8L381.3,531.7L381.6,527.9L381.8,537.7L382.1,541L382.4,526L382.6,522L382.9,530.6L383.1,518.9L383.4,523L383.7,524.8L383.9,522.2L384.2,537L384.4,541.9L384.7,537.2L384.9,526.8L385.2,535.4L385.5,534.6L385.7,518.4L386,510.5L386.2,505.9L386.5,504.4L386.8,509L387,510.4L387.3,526.3L387.5,542.6L387.8,535.2L388.1,531.2L388.3,555.9L388.6,560.1L388.8,535.9L389.1,518.9L389.4,521.1L389.6,509.5L389.9,506.8L390.1,502.1L390.4,503.1L390.7,508.2L390.9,509L391.2,510L391.4,512.1L391.7,533.1L391.9,522.1L392.2,520.1L392.5,525.8L392.7,529L393,558.5L393.2,567.5L393.5,566.5L393.8,567.8L394,567.3L394.3,545.7L394.5,527.8L394.8,526.1L395.1,550.2L395.3,550.1L395.6,545.6L395.8,541.9L396.1,549.8L396.4,538.8L396.6,509L396.9,507.4L397.1,516L397.4,515.1L397.6,517.7L397.9,515.1L398.2,521.9L398.4,543.3L398.7,535.9L398.9,543.2L399.2,542.2L399.5,536.7L399.7,541.7L400,540.6L400.2,543.2L400.5,545.2"/>
<rect class="ax" x="63.8" y="402.6" width="336.7" height="265.3"/>
<path class="t" d="M148,667.9v-4.5 M148,402.6v4.5M232.1,667.9v-4.5 M232.1,402.6v4.5M316.3,667.9v-4.5 M316.3,402.6v4.5M63.8,468.9h4.5 M400.5,468.9h-4.5M63.8,535.2h4.5 M400.5,535.2h-4.5M63.8,601.6h4.5 M400.5,601.6h-4.5"/>
<text class="tk" x="63" y="693.6" text-anchor="middle">0</text>
<text class="tk" x="147.2" y="693.6" text-anchor="middle">1</text>
<text class="tk" x="231.3" y="693.6" text-anchor="middle">2</text>
<text class="tk" x="315.5" y="693.6" text-anchor="middle">3</text>
<text class="tk" x="399.7" y="693.6" text-anchor="middle">4</text>
<text class="tk" x="56.8" y="410.1" text-anchor="end">4</text>
<text class="tk" x="56.8" y="476.4" text-anchor="end">2</text>
<text class="tk" x="56.8" y="542.8" text-anchor="end">0</text>
<text class="tk" x="56.8" y="609.1" text-anchor="end">-2</text>
<text class="tk" x="56.8" y="675.4" text-anchor="end">-4</text>
<text class="al" x="232.6" y="733.1" text-anchor="middle">Time(t/s)</text>
<text class="yl" transform="translate(24,546.9) rotate(-90)" text-anchor="middle">Amplitude (m<tspan dx="3" dy="-1">·</tspan><tspan dx="3" dy="1">s</tspan><tspan font-size="17px" dy="-12">−2</tspan><tspan dy="12" dx="4">)</tspan></text>
</g>
<g id="spec-c">
<clipPath id="sc"><rect x="489.4" y="400" width="299.2" height="262.9"/></clipPath>
<g clip-path="url(#sc)">
<g filter="url(#pm)"><rect x="489.4" y="400" width="299.2" height="262.9" fill="url(#gc)"/><rect x="489.4" y="400" width="299.2" height="262.9" fill="url(#ec0)" filter="url(#fc0)"/><rect x="489.4" y="400" width="299.2" height="262.9" fill="url(#ec1)" filter="url(#fc1)"/><rect x="489.4" y="400" width="299.2" height="262.9" fill="url(#ec2)" filter="url(#fc2)"/><rect x="489.4" y="400" width="299.2" height="262.9" fill="url(#ec3)" filter="url(#fc3)"/><rect x="489.4" y="400" width="299.2" height="262.9" fill="url(#ec4)" filter="url(#fc4)"/><g filter="url(#bl)" fill="#fff"><ellipse cx="528.3" cy="638.1" rx="6" ry="2" opacity=".55"/><ellipse cx="523.8" cy="634" rx="5" ry="2" opacity=".39"/><ellipse cx="611.4" cy="639" rx="6" ry="1.8" opacity=".55"/><ellipse cx="636.6" cy="633.6" rx="6" ry="2.2" opacity=".55"/><ellipse cx="495.8" cy="631.8" rx="5" ry="2.2" opacity=".39"/><ellipse cx="569.8" cy="635.4" rx="6" ry="2" opacity=".39"/><ellipse cx="591.5" cy="629.1" rx="5" ry="2.5" opacity=".33"/><ellipse cx="651" cy="629.1" rx="5" ry="2.5" opacity=".35"/><ellipse cx="667.3" cy="636.3" rx="6" ry="2" opacity=".35"/><ellipse cx="692.6" cy="642.6" rx="8" ry="1.8" opacity=".35"/><ellipse cx="698" cy="629.1" rx="5" ry="2.5" opacity=".31"/><ellipse cx="766.6" cy="641.7" rx="6" ry="2" opacity=".39"/><ellipse cx="726.9" cy="628.2" rx="6" ry="2.5" opacity=".31"/><ellipse cx="761.2" cy="636.3" rx="5" ry="2" opacity=".33"/><ellipse cx="624" cy="619.2" rx="4" ry="3.5" opacity=".25"/><ellipse cx="678.1" cy="613.7" rx="4" ry="3.5" opacity=".22"/><ellipse cx="510.3" cy="603.8" rx="3.5" ry="4" opacity=".17"/><ellipse cx="571.6" cy="606.5" rx="3.5" ry="4" opacity=".17"/><ellipse cx="545" cy="642" rx="8" ry="1.8" opacity=".31"/><ellipse cx="740" cy="640" rx="8" ry="1.8" opacity=".31"/></g><g filter="url(#bw)" fill="#fff"><ellipse cx="494" cy="517.1" rx="2" ry="8" opacity=".11"/><ellipse cx="543.7" cy="516.2" rx="2" ry="8" opacity=".14"/><ellipse cx="553.6" cy="515.3" rx="2" ry="8" opacity=".11"/><ellipse cx="564.4" cy="512.6" rx="2" ry="8" opacity=".11"/><ellipse cx="587.9" cy="510.8" rx="2" ry="8" opacity=".09"/><ellipse cx="609.5" cy="504.5" rx="2" ry="8" opacity=".08"/><ellipse cx="642.9" cy="514.4" rx="2" ry="8" opacity=".16"/><ellipse cx="665.5" cy="518" rx="2" ry="8" opacity=".09"/><ellipse cx="699.8" cy="515.3" rx="2" ry="8" opacity=".11"/><ellipse cx="726.9" cy="513.5" rx="2" ry="8" opacity=".09"/><ellipse cx="779.2" cy="518.9" rx="2" ry="8" opacity=".12"/><ellipse cx="530.1" cy="537" rx="2" ry="8" opacity=".06"/></g><g filter="url(#bs)" fill="#fff"><ellipse cx="647.5" cy="656.2" rx="20" ry="1" opacity=".43"/><ellipse cx="560" cy="647" rx="18" ry="1.1" opacity=".33"/><ellipse cx="620" cy="648" rx="16" ry="1.1" opacity=".33"/><ellipse cx="700" cy="649" rx="16" ry="1.1" opacity=".31"/><ellipse cx="520" cy="651" rx="16" ry="1" opacity=".27"/><ellipse cx="750" cy="652" rx="16" ry="1" opacity=".27"/></g></g>
</g>
<rect class="ax" x="489.4" y="400" width="299.2" height="262.9"/>
<path class="t" d="M560.8,662.9v-4 M560.8,400v4M631.9,662.9v-4 M631.9,400v4M703.3,662.9v-4 M703.3,400v4M774.7,662.9v-4 M774.7,400v4M489.4,452.4h4 M788.6,452.4h-4M489.4,505.2h4 M788.6,505.2h-4M489.4,557.7h4 M788.6,557.7h-4M489.4,610.2h4 M788.6,610.2h-4"/>
<text class="tk ts" x="489.4" y="690.5" text-anchor="middle">0</text>
<text class="tk ts" x="560.8" y="690.5" text-anchor="middle">1</text>
<text class="tk ts" x="631.9" y="690.5" text-anchor="middle">2</text>
<text class="tk ts" x="703.3" y="690.5" text-anchor="middle">3</text>
<text class="tk ts" x="774.7" y="690.5" text-anchor="middle">4</text>
<text class="tk ts" x="482.4" y="407.5" text-anchor="end">500</text>
<text class="tk ts" x="482.4" y="459.9" text-anchor="end">400</text>
<text class="tk ts" x="482.4" y="512.7" text-anchor="end">300</text>
<text class="tk ts" x="482.4" y="565.2" text-anchor="end">200</text>
<text class="tk ts" x="482.4" y="617.7" text-anchor="end">100</text>
<text class="al" x="644.8" y="732.8" text-anchor="middle">Time(t/s)</text>
<text class="yf" transform="translate(440.6,544.4) rotate(-90)" text-anchor="middle">Frequency(Hz)</text>
<rect x="796.3" y="400" width="16.6" height="262.9" fill="url(#cb)"/>
<rect x="796.3" y="400" width="16.6" height="262.9" fill="none" stroke="#1e1e1e" stroke-width="0.6" stroke-opacity="0.55"/>
<text class="tk" x="818.9" y="415.5">0.4</text>
<text class="tk" x="818.9" y="479.2">0.3</text>
<text class="tk" x="818.9" y="542.7">0.2</text>
<text class="tk" x="818.9" y="606.4">0.1</text>
<path class="t" style="stroke-width:1.3" d="M812.9,408.3h-4M812.9,472h-4M812.9,535.5h-4M812.9,599.2h-4"/>
</g>
<g id="plot-d">
<clipPath id="cd"><rect x="915.8" y="402.3" width="338.6" height="266.1"/></clipPath>
<path class="sg" clip-path="url(#cd)" d="M915.8,521.1L916.1,520.3L916.3,525.4L916.6,541.7L916.8,535.4L917.1,513.5L917.4,505.1L917.6,515.8L917.9,542.2L918.1,552.7L918.4,554.8L918.7,556.4L918.9,557L919.2,555.9L919.4,542.4L919.7,546.1L920,549.7L920.2,569.9L920.5,577.3L920.8,573.8L921,564.7L921.3,562L921.5,563.4L921.8,561.6L922.1,559.5L922.3,555.3L922.6,554.9L922.8,547.7L923.1,523L923.4,485.1L923.6,485L923.9,484.4L924.1,498.6L924.4,497L924.7,511.1L924.9,525.8L925.2,520.2L925.4,523.2L925.7,542.3L926,541.1L926.2,533.7L926.5,528L926.7,551.4L927,549L927.3,523.2L927.5,518.9L927.8,509.5L928.1,483.6L928.3,476.9L928.6,476L928.8,477.4L929.1,526L929.4,610.5L929.6,661.7L929.9,654.5L930.1,595.8L930.4,560.9L930.7,555.1L930.9,537.2L931.2,539.9L931.4,528.4L931.7,507.4L932,500.7L932.2,510.9L932.5,530.1L932.7,524.3L933,547L933.3,534L933.5,514.8L933.8,511L934,520.2L934.3,526.9L934.6,529.7L934.8,530.2L935.1,545.2L935.3,583.5L935.6,599.1L935.9,589.6L936.1,585L936.4,564.1L936.7,540L936.9,537.1L937.2,529.5L937.4,522.8L937.7,508.8L938,520.3L938.2,528.7L938.5,550.6L938.7,547.6L939,534.7L939.3,498.6L939.5,462.3L939.8,443.7L940,458.1L940.3,466.3L940.6,496.3L940.8,521.7L941.1,534.8L941.3,542.4L941.6,557L941.9,540.2L942.1,522.4L942.4,526.9L942.6,554.4L942.9,577.4L943.2,569L943.4,548.7L943.7,537.1L944,533.3L944.2,527.9L944.5,525.8L944.7,541.1L945,536.5L945.3,505.6L945.5,474.4L945.8,458.3L946,474.3L946.3,501.6L946.6,524L946.8,539.2L947.1,553.5L947.3,555.4L947.6,545.8L947.9,531.9L948.1,536.8L948.4,562.7L948.6,580.8L948.9,574L949.2,567.8L949.4,551.1L949.7,556.8L949.9,562.8L950.2,535.2L950.5,539.2L950.7,574.9L951,586.6L951.3,587.5L951.5,586L951.8,580.2L952,560.7L952.3,535.5L952.6,535.3L952.8,520.8L953.1,510L953.3,492.4L953.6,497.3L953.9,492.8L954.1,509.9L954.4,522.7L954.6,522.5L954.9,529.2L955.2,535.8L955.4,544.4L955.7,552.8L955.9,558.1L956.2,558.1L956.5,550.3L956.7,535.8L957,531.9L957.2,551.6L957.5,549.9L957.8,557.6L958,563.9L958.3,567.5L958.5,567.6L958.8,566.6L959.1,570.4L959.3,559.4L959.6,551L959.9,554.8L960.1,553.3L960.4,544.5L960.6,535.2L960.9,528L961.2,532.7L961.4,536.3L961.7,527.1L961.9,519.3L962.2,517.2L962.5,511.7L962.7,512.1L963,519.5L963.2,529.3L963.5,515.4L963.8,510.6L964,515.6L964.3,512.7L964.5,509.8L964.8,515.6L965.1,513.9L965.3,520L965.6,520.6L965.8,523.6L966.1,518.5L966.4,527.9L966.6,536.7L966.9,539.2L967.2,537.9L967.4,549.3L967.7,548L967.9,532L968.2,524.9L968.5,542.8L968.7,552.8L969,553.9L969.2,544.4L969.5,549.2L969.8,554.2L970,536.1L970.3,536.3L970.5,551.6L970.8,552L971.1,543.6L971.3,547.3L971.6,543L971.8,546.4L972.1,540.7L972.4,537.8L972.6,548.1L972.9,554.9L973.1,551.6L973.4,537.2L973.7,521.8L973.9,522.1L974.2,527L974.4,534.9L974.7,530.1L975,546.7L975.2,559.4L975.5,543.9L975.8,534.5L976,514.5L976.3,489L976.5,508.5L976.8,525.1L977.1,521.7L977.3,536.5L977.6,548.8L977.8,567.8L978.1,574.8L978.4,580.7L978.6,578.5L978.9,578.8L979.1,577.9L979.4,563.8L979.7,551.9L979.9,534.4L980.2,512.6L980.4,525.1L980.7,538.2L981,535.9L981.2,517.9L981.5,516L981.7,528.8L982,522L982.3,507L982.5,491.6L982.8,480L983.1,477.9L983.3,501.2L983.6,506.5L983.8,514.5L984.1,515.2L984.4,509L984.6,513.1L984.9,519.2L985.1,533L985.4,544.2L985.7,535.1L985.9,558.2L986.2,545.3L986.4,548.7L986.7,557.1L987,555.9L987.2,552.7L987.5,574.7L987.7,579.9L988,577.3L988.3,558.8L988.5,547.1L988.8,548.3L989,532.6L989.3,529.2L989.6,516.4L989.8,510.2L990.1,512.2L990.3,509.9L990.6,510.9L990.9,517.1L991.1,524.9L991.4,518.8L991.7,528.4L991.9,543.7L992.2,555.3L992.4,543.6L992.7,549.3L993,544.3L993.2,546.5L993.5,546.8L993.7,551L994,539.4L994.3,535.7L994.5,536.6L994.8,529.4L995,526L995.3,543.3L995.6,553.2L995.8,554.2L996.1,547.6L996.3,530.7L996.6,526.5L996.9,533.3L997.1,517.9L997.4,514.4L997.6,513.1L997.9,512.2L998.2,528.2L998.4,534L998.7,522.5L999,517.2L999.2,523.7L999.5,551.4L999.7,555.5L1000,555.5L1000.3,547.1L1000.5,549.3L1000.8,557.6L1001,579.3L1001.3,584L1001.6,572.1L1001.8,553.1L1002.1,544L1002.3,535.6L1002.6,525.7L1002.9,546.8L1003.1,549.5L1003.4,538.8L1003.6,538.7L1003.9,536.8L1004.2,539.2L1004.4,545.9L1004.7,543.1L1004.9,554.1L1005.2,546.1L1005.5,534.3L1005.7,534.1L1006,532.5L1006.2,514.9L1006.5,504.4L1006.8,487L1007,486.3L1007.3,498.1L1007.6,508.5L1007.8,526.8L1008.1,546.3L1008.3,554L1008.6,563.5L1008.9,564.1L1009.1,563.4L1009.4,559.3L1009.6,570.6L1009.9,571.4L1010.2,579.6L1010.4,574.8L1010.7,552.9L1010.9,529.9L1011.2,506.5L1011.5,492L1011.7,487.8L1012,498.3L1012.2,521L1012.5,535.2L1012.8,526.6L1013,525.8L1013.3,535.5L1013.5,542.7L1013.8,528.4L1014.1,535.9L1014.3,546.6L1014.6,542.4L1014.9,549.8L1015.1,553.9L1015.4,540.5L1015.6,524.1L1015.9,499.5L1016.2,485.3L1016.4,474.1L1016.7,484.9L1016.9,504.8L1017.2,517.5L1017.5,526.8L1017.7,527L1018,539L1018.2,552.1L1018.5,556.2L1018.8,555.5L1019,579.2L1019.3,555.1L1019.5,533.7L1019.8,544.1L1020.1,550.6L1020.3,531.7L1020.6,516.7L1020.8,534L1021.1,539.3L1021.4,534.2L1021.6,498.6L1021.9,459.8L1022.2,435.8L1022.4,435.4L1022.7,449.9L1022.9,482L1023.2,517.1L1023.5,537.7L1023.7,535.3L1024,524.3L1024.2,536.2L1024.5,554.3L1024.8,561.1L1025,561.4L1025.3,561.9L1025.5,567.2L1025.8,600L1026.1,598.7L1026.3,570.1L1026.6,545.1L1026.8,533.8L1027.1,530.7L1027.4,556.8L1027.6,556L1027.9,556.2L1028.1,550.1L1028.4,519.8L1028.7,464.6L1028.9,435.3L1029.2,423.2L1029.4,452.8L1029.7,468.8L1030,484.8L1030.2,500.3L1030.5,505.6L1030.8,478.6L1031,467.1L1031.3,490.6L1031.5,505.7L1031.8,514.2L1032.1,539.7L1032.3,556.8L1032.6,563.5L1032.8,575.5L1033.1,581.6L1033.4,580.5L1033.6,567.6L1033.9,564.3L1034.1,565.2L1034.4,554.8L1034.7,535.4L1034.9,543.1L1035.2,534.9L1035.4,552.7L1035.7,551.8L1036,548.2L1036.2,560.5L1036.5,558.4L1036.7,547.9L1037,534L1037.3,531.4L1037.5,509.3L1037.8,503.8L1038.1,506.5L1038.3,517.7L1038.6,524.7L1038.8,540.7L1039.1,536.9L1039.4,550.2L1039.6,556.9L1039.9,548.7L1040.1,554L1040.4,553.6L1040.7,540.2L1040.9,538.9L1041.2,544.4L1041.4,542.9L1041.7,540.8L1042,528.3L1042.2,521.6L1042.5,512L1042.7,506.7L1043,517.1L1043.3,525.6L1043.5,522.6L1043.8,533.4L1044,520.8L1044.3,517.4L1044.6,531.7L1044.8,547.8L1045.1,549.8L1045.3,549.3L1045.6,540.8L1045.9,536.5L1046.1,547.2L1046.4,547.9L1046.7,543.5L1046.9,532.5L1047.2,532.1L1047.4,523L1047.7,541.5L1048,541.7L1048.2,537.8L1048.5,544.7L1048.7,550.9L1049,552.3L1049.3,544L1049.5,539.9L1049.8,549L1050,550.3L1050.3,548L1050.6,544.8L1050.8,549.8L1051.1,545.7L1051.3,532.2L1051.6,524.8L1051.9,530.1L1052.1,544.4L1052.4,552.4L1052.6,548L1052.9,543.7L1053.2,541.8L1053.4,542.6L1053.7,533.5L1054,534.8L1054.2,532.1L1054.5,531.2L1054.7,531.4L1055,532.7L1055.3,520.3L1055.5,505L1055.8,501.4L1056,503.3L1056.3,507.3L1056.6,524.6L1056.8,526.8L1057.1,535.3L1057.3,524.8L1057.6,541.3L1057.9,553.1L1058.1,548.2L1058.4,532.3L1058.6,514.6L1058.9,517.2L1059.2,527.7L1059.4,537.9L1059.7,538.1L1059.9,522.1L1060.2,520.5L1060.5,525.4L1060.7,532.9L1061,536.4L1061.2,559.1L1061.5,563.4L1061.8,561.6L1062,562.3L1062.3,562L1062.6,554.8L1062.8,563.3L1063.1,558.5L1063.3,536.8L1063.6,532.2L1063.9,519.1L1064.1,515.5L1064.4,517.6L1064.6,510.9L1064.9,518.2L1065.2,527.6L1065.4,530.4L1065.7,526.7L1065.9,533.8L1066.2,523.2L1066.5,520.3L1066.7,509.8L1067,501.9L1067.2,500.2L1067.5,499.4L1067.8,504.5L1068,515.1L1068.3,520.8L1068.5,520L1068.8,512L1069.1,518.4L1069.3,527.9L1069.6,533.7L1069.9,524.6L1070.1,537.1L1070.4,547.6L1070.6,553L1070.9,554.4L1071.2,560.4L1071.4,566.6L1071.7,566.3L1071.9,562.9L1072.2,555.4L1072.5,535L1072.7,503.8L1073,503.4L1073.2,502.3L1073.5,503.9L1073.8,501.9L1074,518.8L1074.3,525.3L1074.5,525L1074.8,520.2L1075.1,518.6L1075.3,532.1L1075.6,533.4L1075.8,539.8L1076.1,527.1L1076.4,512.1L1076.6,511.8L1076.9,526.9L1077.1,535.7L1077.4,527.4L1077.7,525.5L1077.9,526.3L1078.2,535.9L1078.5,538.1L1078.7,525.4L1079,530.8L1079.2,529L1079.5,533.8L1079.8,551.8L1080,556L1080.3,550.7L1080.5,541.6L1080.8,534.7L1081.1,503.4L1081.3,504.5L1081.6,505.3L1081.8,503.7L1082.1,505.6L1082.4,507.3L1082.6,541.5L1082.9,550.4L1083.1,551.1L1083.4,555L1083.7,558.1L1083.9,553.3L1084.2,552.6L1084.4,551L1084.7,531.7L1085,546.9L1085.2,534.3L1085.5,522.4L1085.8,518L1086,532.3L1086.3,550.2L1086.5,571.5L1086.8,578.5L1087.1,571.9L1087.3,570.3L1087.6,552.8L1087.8,528.7L1088.1,523.2L1088.4,523.9L1088.6,539.2L1088.9,556.1L1089.1,560.7L1089.4,552.7L1089.7,537.5L1089.9,497.6L1090.2,472.3L1090.4,471L1090.7,472.3L1091,481.3L1091.2,501L1091.5,532L1091.7,546.9L1092,545.7L1092.3,531L1092.5,548.2L1092.8,552.9L1093.1,551.3L1093.3,568.4L1093.6,593.2L1093.8,598.8L1094.1,600.3L1094.4,588.4L1094.6,560L1094.9,532.8L1095.1,516.6L1095.4,514.1L1095.7,512.2L1095.9,501L1096.2,492.5L1096.4,492.9L1096.7,507.4L1097,523.5L1097.2,521.6L1097.5,507.5L1097.7,507L1098,514.7L1098.3,522.6L1098.5,540.8L1098.8,543.7L1099,537.7L1099.3,540.1L1099.6,553.3L1099.8,541L1100.1,529.2L1100.3,535.7L1100.6,519.3L1100.9,483.2L1101.1,477.6L1101.4,489L1101.7,486.8L1101.9,501L1102.2,507.9L1102.4,509.2L1102.7,530.9L1103,550.6L1103.2,558.7L1103.5,568.4L1103.7,577.3L1104,585.2L1104.3,599.8L1104.5,607.9L1104.8,579.1L1105,555.4L1105.3,543L1105.6,544.4L1105.8,532.4L1106.1,528.3L1106.3,515.8L1106.6,490.4L1106.9,474.7L1107.1,470.1L1107.4,473.4L1107.6,486.8L1107.9,494.4L1108.2,504.1L1108.4,523.8L1108.7,533.3L1109,543.9L1109.2,547L1109.5,547.1L1109.7,556.8L1110,554.2L1110.3,544.2L1110.5,531.1L1110.8,537.4L1111,546.1L1111.3,536.4L1111.6,525.3L1111.8,533L1112.1,520.5L1112.3,522.5L1112.6,530.8L1112.9,532.3L1113.1,510.8L1113.4,509.9L1113.6,518.8L1113.9,523.1L1114.2,501.3L1114.4,495.7L1114.7,498.6L1114.9,519.4L1115.2,531.9L1115.5,536.8L1115.7,518.3L1116,542.7L1116.2,553L1116.5,555.1L1116.8,537.8L1117,534.5L1117.3,540.3L1117.6,558.9L1117.8,549.5L1118.1,547.4L1118.3,553.3L1118.6,535.6L1118.9,520.9L1119.1,518.9L1119.4,500.1L1119.6,500.2L1119.9,498.8L1120.2,506.9L1120.4,526.6L1120.7,533.3L1120.9,542.2L1121.2,560.4L1121.5,567.7L1121.7,559.4L1122,531.8L1122.2,527.6L1122.5,520L1122.8,516.7L1123,523.5L1123.3,524L1123.5,543.6L1123.8,528.5L1124.1,529.1L1124.3,542.8L1124.6,534.2L1124.9,543.9L1125.1,555.3L1125.4,555.5L1125.6,548.8L1125.9,508.6L1126.2,495.7L1126.4,496.2L1126.7,495L1126.9,497.1L1127.2,507.3L1127.5,509.6L1127.7,525.6L1128,534L1128.2,525.6L1128.5,520.9L1128.8,515.5L1129,518.6L1129.3,523.6L1129.5,538.4L1129.8,561.2L1130.1,568.2L1130.3,565.9L1130.6,567.8L1130.8,569.8L1131.1,570.9L1131.4,557.7L1131.6,558.1L1131.9,552.7L1132.1,549.1L1132.4,547.5L1132.7,544.3L1132.9,529.6L1133.2,533.3L1133.5,546.3L1133.7,537L1134,533.8L1134.2,541.2L1134.5,557L1134.8,557.9L1135,554.7L1135.3,549.7L1135.5,545.2L1135.8,531.8L1136.1,515.6L1136.3,515.5L1136.6,534L1136.8,542.3L1137.1,538.3L1137.4,533.8L1137.6,527.2L1137.9,526.7L1138.1,526.9L1138.4,544.4L1138.7,544.2L1138.9,544.6L1139.2,540.1L1139.4,524.9L1139.7,537L1140,548L1140.2,557.5L1140.5,549.9L1140.8,537L1141,509.9L1141.3,504.2L1141.5,506.1L1141.8,506.9L1142.1,504.6L1142.3,503.6L1142.6,517.2L1142.8,536.4L1143.1,532.1L1143.4,529.8L1143.6,541.7L1143.9,549.9L1144.1,549.9L1144.4,553.7L1144.7,528.4L1144.9,527.1L1145.2,533.8L1145.4,538.8L1145.7,548.6L1146,550.5L1146.2,545.7L1146.5,549.7L1146.7,542.6L1147,539.4L1147.3,540.7L1147.5,537.1L1147.8,531.9L1148,542.3L1148.3,558.2L1148.6,563.8L1148.8,561.2L1149.1,548.7L1149.4,539.7L1149.6,537.2L1149.9,516.7L1150.1,505.1L1150.4,507.3L1150.7,513.9L1150.9,542.3L1151.2,541.6L1151.4,545.3L1151.7,525.9L1152,509L1152.2,498.5L1152.5,490.2L1152.7,484.8L1153,482.2L1153.3,493.4L1153.5,522.9L1153.8,521.2L1154,517.3L1154.3,541.7L1154.6,556.2L1154.8,549.2L1155.1,519.9L1155.3,513L1155.6,528.6L1155.9,546.4L1156.1,546.4L1156.4,537.1L1156.7,537.7L1156.9,522L1157.2,515.9L1157.4,521.6L1157.7,518L1158,515.1L1158.2,517.9L1158.5,528.4L1158.7,524.8L1159,537.7L1159.3,542.7L1159.5,545.5L1159.8,549.4L1160,558.3L1160.3,558.5L1160.6,542.8L1160.8,511.2L1161.1,505.7L1161.3,502L1161.6,501L1161.9,499L1162.1,497.8L1162.4,501L1162.6,515.9L1162.9,522.6L1163.2,523.2L1163.4,536.5L1163.7,548L1164,558.9L1164.2,559.8L1164.5,571.8L1164.7,560.4L1165,541.4L1165.3,535.7L1165.5,533.8L1165.8,538.2L1166,531.1L1166.3,530.3L1166.6,521.4L1166.8,533.2L1167.1,554.4L1167.3,543.4L1167.6,547.3L1167.9,547.3L1168.1,554.5L1168.4,555.1L1168.6,545.6L1168.9,546.8L1169.2,545.7L1169.4,526.5L1169.7,514.9L1169.9,521.9L1170.2,522.3L1170.5,529.7L1170.7,531.3L1171,547.3L1171.2,571.3L1171.5,585.7L1171.8,576L1172,558.2L1172.3,548.7L1172.6,544.5L1172.8,557.9L1173.1,562.7L1173.3,561.8L1173.6,551.6L1173.9,538.7L1174.1,515.3L1174.4,514.8L1174.6,515.2L1174.9,516.1L1175.2,519.1L1175.4,515.3L1175.7,523.1L1175.9,511L1176.2,503.5L1176.5,496.8L1176.7,499.4L1177,529.6L1177.2,547.9L1177.5,555.1L1177.8,553.8L1178,544L1178.3,553L1178.5,561.5L1178.8,566.7L1179.1,563.4L1179.3,578.5L1179.6,575.1L1179.9,558.4L1180.1,546.1L1180.4,548.2L1180.6,536.2L1180.9,525.9L1181.2,508.3L1181.4,509.6L1181.7,503.6L1181.9,505.1L1182.2,507.2L1182.5,504.1L1182.7,505.8L1183,519.4L1183.2,547.9L1183.5,554.2L1183.8,543.7L1184,545.6L1184.3,517.9L1184.5,509.5L1184.8,509.6L1185.1,514.3L1185.3,538.5L1185.6,563.5L1185.8,563.9L1186.1,560.1L1186.4,535.9L1186.6,525.9L1186.9,521.9L1187.1,516.6L1187.4,517.1L1187.7,512.7L1187.9,521.4L1188.2,551.4L1188.5,575.3L1188.7,586.6L1189,581.7L1189.2,585.3L1189.5,583.6L1189.8,583.7L1190,576L1190.3,566.8L1190.5,555.2L1190.8,553.3L1191.1,548.3L1191.3,528.1L1191.6,521.6L1191.8,515.6L1192.1,524.4L1192.4,514L1192.6,510.5L1192.9,506.3L1193.1,494.3L1193.4,492.1L1193.7,511.1L1193.9,532.5L1194.2,547L1194.4,552.7L1194.7,548.8L1195,546.7L1195.2,558.9L1195.5,559.6L1195.8,546.1L1196,555.8L1196.3,549.3L1196.5,546.3L1196.8,540.6L1197.1,540L1197.3,545.5L1197.6,543.4L1197.8,548.7L1198.1,542L1198.4,522.6L1198.6,516.1L1198.9,516.9L1199.1,503.8L1199.4,485.8L1199.7,464.4L1199.9,461L1200.2,473.9L1200.4,480L1200.7,494.5L1201,504.5L1201.2,513.6L1201.5,498.5L1201.7,487L1202,465.6L1202.3,473.5L1202.5,490.2L1202.8,532.4L1203,547.7L1203.3,543.7L1203.6,549.5L1203.8,548.8L1204.1,558.3L1204.4,573.6L1204.6,551.4L1204.9,529L1205.1,520.4L1205.4,519.5L1205.7,523.7L1205.9,514.5L1206.2,504.4L1206.4,501.8L1206.7,502.1L1207,502.4L1207.2,503.1L1207.5,514.2L1207.7,537.7L1208,549.9L1208.3,559.6L1208.5,564L1208.8,564L1209,561.8L1209.3,557.1L1209.6,553.8L1209.8,556L1210.1,529.3L1210.3,522.5L1210.6,516.8L1210.9,507.7L1211.1,508.5L1211.4,505.3L1211.7,502.7L1211.9,501.6L1212.2,501.1L1212.4,508.9L1212.7,532.7L1213,551.4L1213.2,559.2L1213.5,552.1L1213.7,549.2L1214,549.8L1214.3,545.1L1214.5,523.2L1214.8,523.7L1215,545L1215.3,551.1L1215.6,550.3L1215.8,544.6L1216.1,550.5L1216.3,559.2L1216.6,560.4L1216.9,558.8L1217.1,560.5L1217.4,553.4L1217.6,546.2L1217.9,537.5L1218.2,532.6L1218.4,539.7L1218.7,540.5L1218.9,548.5L1219.2,541.2L1219.5,536.9L1219.7,534.7L1220,535.4L1220.3,539.5L1220.5,535.6L1220.8,538.5L1221,541.5L1221.3,550.6L1221.6,540.2L1221.8,549.1L1222.1,558.4L1222.3,552.8L1222.6,546.2L1222.9,526L1223.1,529.4L1223.4,535.4L1223.6,527.2L1223.9,519.3L1224.2,512.7L1224.4,527.3L1224.7,537.8L1224.9,522.9L1225.2,522.2L1225.5,537.1L1225.7,540.9L1226,516.2L1226.2,510.9L1226.5,530.5L1226.8,539.9L1227,536.9L1227.3,529.6L1227.6,526.3L1227.8,525.8L1228.1,519.1L1228.3,526.3L1228.6,532.4L1228.9,533.4L1229.1,543.2L1229.4,542.7L1229.6,529.3L1229.9,546L1230.2,560.5L1230.4,561.3L1230.7,560.6L1230.9,561.2L1231.2,557.7L1231.5,546.3L1231.7,528.3L1232,524.1L1232.2,527.8L1232.5,531.3L1232.8,534.2L1233,539.3L1233.3,536.4L1233.5,532.6L1233.8,513.9L1234.1,513.8L1234.3,520.6L1234.6,525.6L1234.9,530.7L1235.1,531.9L1235.4,527.5L1235.6,537.5L1235.9,541.9L1236.2,526.3L1236.4,522.9L1236.7,529L1236.9,520L1237.2,525.1L1237.5,524.1L1237.7,521.8L1238,536.3L1238.2,542.1L1238.5,538L1238.8,526.8L1239,533.2L1239.3,537L1239.5,516.6L1239.8,509.1L1240.1,505.1L1240.3,504L1240.6,507L1240.8,507.1L1241.1,525L1241.4,542.8L1241.6,535.4L1241.9,532L1242.1,555.5L1242.4,558.9L1242.7,538.5L1242.9,515.7L1243.2,520.6L1243.5,509.7L1243.7,505.1L1244,505.1L1244.2,504L1244.5,508.2L1244.8,506.3L1245,511L1245.3,512.7L1245.5,532.9L1245.8,523.4L1246.1,521.6L1246.3,528.5L1246.6,529.5L1246.8,559.6L1247.1,567.3L1247.4,565.2L1247.6,565.5L1247.9,567.1L1248.1,545.5L1248.4,527.2L1248.7,528.1L1248.9,550.5L1249.2,549.1L1249.4,546.7L1249.7,539.5L1250,548.4L1250.2,536.8L1250.5,508.5L1250.8,509.7L1251,515.5L1251.3,517.5L1251.5,519.8L1251.8,515.6L1252.1,521.7L1252.3,541.9L1252.6,534.4L1252.8,544.7L1253.1,543.4L1253.4,537.3L1253.6,541.2L1253.9,540.6L1254.1,545.6L1254.4,545.2"/>
<rect class="ax" x="915.8" y="402.3" width="338.6" height="266.1"/>
<path class="t" d="M1000.5,668.4v-4.5 M1000.5,402.3v4.5M1085.1,668.4v-4.5 M1085.1,402.3v4.5M1169.8,668.4v-4.5 M1169.8,402.3v4.5M915.8,468.8h4.5 M1254.4,468.8h-4.5M915.8,535.4h4.5 M1254.4,535.4h-4.5M915.8,601.9h4.5 M1254.4,601.9h-4.5"/>
<text class="tk" x="915.8" y="695.2" text-anchor="middle">0</text>
<text class="tk" x="1000.5" y="695.2" text-anchor="middle">1</text>
<text class="tk" x="1085.1" y="695.2" text-anchor="middle">2</text>
<text class="tk" x="1169.8" y="695.2" text-anchor="middle">3</text>
<text class="tk" x="1254.4" y="695.2" text-anchor="middle">4</text>
<text class="tk" x="908.8" y="409.8" text-anchor="end">4</text>
<text class="tk" x="908.8" y="476.3" text-anchor="end">2</text>
<text class="tk" x="908.8" y="542.9" text-anchor="end">0</text>
<text class="tk" x="908.8" y="609.4" text-anchor="end">-2</text>
<text class="tk" x="908.8" y="675.9" text-anchor="end">-4</text>
<text class="al" x="1076.5" y="731.8" text-anchor="middle">Time(t/s)</text>
<text class="yl" transform="translate(884.2,545.3) rotate(-90)" text-anchor="middle">Amplitude (m<tspan dx="3" dy="-1">·</tspan><tspan dx="3" dy="1">s</tspan><tspan font-size="17px" dy="-12">−2</tspan><tspan dy="12" dx="4">)</tspan></text>
</g>
<g id="spec-d">
<clipPath id="sd"><rect x="1363" y="401.6" width="294.6" height="259.7"/></clipPath>
<g clip-path="url(#sd)">
<g filter="url(#pm)"><rect x="1363" y="401.6" width="294.6" height="259.7" fill="url(#gd)"/><rect x="1363" y="401.6" width="294.6" height="259.7" fill="url(#ed0)" filter="url(#fd0)"/><rect x="1363" y="401.6" width="294.6" height="259.7" fill="url(#ed1)" filter="url(#fd1)"/><rect x="1363" y="401.6" width="294.6" height="259.7" fill="url(#ed2)" filter="url(#fd2)"/><rect x="1363" y="401.6" width="294.6" height="259.7" fill="url(#ed3)" filter="url(#fd3)"/><rect x="1363" y="401.6" width="294.6" height="259.7" fill="url(#ed4)" filter="url(#fd4)"/><g filter="url(#bl)" fill="#fff"><ellipse cx="1372.1" cy="625.5" rx="5.5" ry="2.5" opacity=".43"/><ellipse cx="1370.3" cy="636.8" rx="5.5" ry="2.5" opacity=".43"/><ellipse cx="1445.3" cy="635.4" rx="5" ry="3" opacity=".35"/><ellipse cx="1647.4" cy="640.8" rx="6" ry="2.5" opacity=".43"/><ellipse cx="1625.8" cy="635.4" rx="6" ry="2.2" opacity=".35"/><ellipse cx="1578.8" cy="631.8" rx="6" ry="2.2" opacity=".33"/><ellipse cx="1596.9" cy="613.7" rx="4" ry="3" opacity=".23"/><ellipse cx="1508.4" cy="624.6" rx="4.5" ry="3" opacity=".25"/><ellipse cx="1492.2" cy="616.4" rx="4" ry="3.5" opacity=".23"/><ellipse cx="1477.7" cy="598.4" rx="3" ry="4" opacity=".16"/><ellipse cx="1427.2" cy="619.2" rx="4.5" ry="3" opacity=".23"/><ellipse cx="1391.1" cy="621" rx="5" ry="2.5" opacity=".27"/><ellipse cx="1539.1" cy="637.2" rx="7" ry="2" opacity=".31"/><ellipse cx="1409.2" cy="639" rx="7" ry="2" opacity=".31"/><ellipse cx="1480" cy="640" rx="7" ry="2" opacity=".3"/><ellipse cx="1600" cy="641" rx="7" ry="2" opacity=".27"/></g><g filter="url(#bw)" fill="#fff"><ellipse cx="1375.6" cy="514.7" rx="2" ry="8" opacity=".09"/><ellipse cx="1416.7" cy="517.5" rx="2" ry="8" opacity=".16"/><ellipse cx="1444.9" cy="512.9" rx="2" ry="8" opacity=".09"/><ellipse cx="1476.9" cy="515.6" rx="2" ry="8" opacity=".11"/><ellipse cx="1512.5" cy="514.7" rx="2" ry="8" opacity=".11"/><ellipse cx="1532.6" cy="517.5" rx="2" ry="8" opacity=".16"/><ellipse cx="1556.4" cy="512.1" rx="2" ry="8" opacity=".11"/><ellipse cx="1571" cy="514.7" rx="2" ry="8" opacity=".09"/><ellipse cx="1602" cy="512.9" rx="2" ry="8" opacity=".09"/><ellipse cx="1647.6" cy="517.5" rx="2" ry="8" opacity=".11"/><ellipse cx="1580.1" cy="536.7" rx="2" ry="8" opacity=".06"/></g><g filter="url(#bs)" fill="#fff"><ellipse cx="1463.3" cy="649.5" rx="20" ry="1.2" opacity=".47"/><ellipse cx="1520" cy="652" rx="20" ry="1" opacity=".31"/><ellipse cx="1400" cy="646" rx="16" ry="1.1" opacity=".31"/><ellipse cx="1580" cy="648" rx="16" ry="1" opacity=".27"/><ellipse cx="1630" cy="651" rx="14" ry="1" opacity=".27"/></g></g>
</g>
<rect class="ax" x="1363" y="401.6" width="294.6" height="259.7"/>
<path class="t" d="M1433.4,661.3v-4 M1433.4,401.6v4M1503.8,661.3v-4 M1503.8,401.6v4M1574.2,661.3v-4 M1574.2,401.6v4M1645,661.3v-4 M1645,401.6v4M1363,453.8h4 M1657.6,453.8h-4M1363,505.9h4 M1657.6,505.9h-4M1363,557.7h4 M1657.6,557.7h-4M1363,609.5h4 M1657.6,609.5h-4"/>
<text class="tk ts" x="1363" y="687.6" text-anchor="middle">0</text>
<text class="tk ts" x="1433.4" y="687.6" text-anchor="middle">1</text>
<text class="tk ts" x="1503.8" y="687.6" text-anchor="middle">2</text>
<text class="tk ts" x="1574.2" y="687.6" text-anchor="middle">3</text>
<text class="tk ts" x="1645" y="687.6" text-anchor="middle">4</text>
<text class="tk ts" x="1356" y="409.1" text-anchor="end">500</text>
<text class="tk ts" x="1356" y="461.3" text-anchor="end">400</text>
<text class="tk ts" x="1356" y="513.4" text-anchor="end">300</text>
<text class="tk ts" x="1356" y="565.2" text-anchor="end">200</text>
<text class="tk ts" x="1356" y="617" text-anchor="end">100</text>
<text class="al" x="1505.5" y="731.8" text-anchor="middle">Time(t/s)</text>
<text class="yf" transform="translate(1306.9,544.4) rotate(-90)" text-anchor="middle">Frequency(Hz)</text>
<rect x="1665.6" y="401.6" width="16.6" height="259.7" fill="url(#cb)"/>
<rect x="1665.6" y="401.6" width="16.6" height="259.7" fill="none" stroke="#1e1e1e" stroke-width="0.6" stroke-opacity="0.55"/>
<text class="tk" x="1688.2" y="410.5">0.4</text>
<text class="tk" x="1688.2" y="475.2">0.3</text>
<text class="tk" x="1688.2" y="540">0.2</text>
<text class="tk" x="1688.2" y="604.4">0.1</text>
<path class="t" style="stroke-width:1.3" d="M1682.2,403.3h-4M1682.2,468h-4M1682.2,532.8h-4M1682.2,597.2h-4"/>
</g>
<g id="plot-e">
<clipPath id="ce"><rect x="56.5" y="805.6" width="341.2" height="269.5"/></clipPath>
<path class="sg" clip-path="url(#ce)" d="M56.5,952.7L56.7,953.9L56.9,944.4L57.1,938.7L57.3,933.1L57.5,939.3L57.7,945.8L57.9,950.5L58.1,941L58.3,932L58.5,938.2L58.7,947.7L58.9,945.1L59.1,927.6L59.3,939.2L59.5,955.3L59.7,945.7L59.9,951.1L60.1,942.4L60.3,936.1L60.5,935.1L60.7,926.9L60.9,932.2L61.1,936.9L61.3,929.7L61.5,924.9L61.7,939.8L61.9,930.5L62.1,935.3L62.3,928.4L62.5,934.5L62.7,925.1L62.9,924.2L63.1,921.8L63.3,920.7L63.5,911L63.7,914.2L63.9,918L64.1,908.2L64.3,916.2L64.5,898.1L64.7,895.8L64.9,907.9L65.1,888.4L65.3,896.5L65.5,890.3L65.7,894L65.9,913L66.1,907.4L66.3,912.5L66.5,907.3L66.7,923.9L66.9,913.5L67.1,927.5L67.3,921.4L67.5,921.1L67.7,902.6L67.9,910.9L68.1,904.9L68.3,921.7L68.5,921.7L68.8,923.5L69,938.8L69.2,941.7L69.4,933L69.6,940.3L69.8,932.5L70,934.5L70.2,933.2L70.4,940.9L70.6,941.5L70.8,944.1L71,949.6L71.2,957L71.4,942.6L71.6,955.4L71.8,954.9L72,954.8L72.2,938.7L72.4,948.6L72.6,956.6L72.8,961.7L73,953.9L73.2,968.3L73.4,975.1L73.6,963.5L73.8,970.9L74,960.6L74.2,957.9L74.4,961.3L74.6,959.6L74.8,952L75,966L75.2,970.3L75.4,974.9L75.6,969.1L75.8,975.5L76,971.4L76.2,973.5L76.4,973.1L76.6,976.6L76.8,977.5L77,974.1L77.2,978.7L77.4,976.8L77.6,966.2L77.8,977.3L78,992.9L78.2,970.3L78.4,974.1L78.6,974.5L78.8,957L79,963.2L79.2,968.8L79.4,969.1L79.6,971L79.8,963.4L80,955L80.2,963.2L80.4,959.5L80.6,952.3L80.8,976.3L81,969.7L81.2,975.1L81.4,980.2L81.6,980.2L81.8,972.3L82,967.7L82.2,971.9L82.4,967.6L82.6,964.1L82.8,968.1L83,967.4L83.2,974.1L83.4,977.7L83.6,970.7L83.8,979.4L84,984L84.2,983.8L84.4,1002.4L84.6,1004.7L84.8,997.7L85,998.9L85.2,994.8L85.4,1006L85.6,1006L85.8,974.2L86,974.6L86.2,986.2L86.4,967.3L86.6,972.3L86.8,976.6L87,956.1L87.2,946.6L87.4,928.6L87.6,945.1L87.8,939.3L88,934.5L88.2,929.3L88.4,925.5L88.6,908.5L88.8,893.1L89,890L89.2,904.7L89.4,910.6L89.6,906.7L89.8,917L90,920.5L90.2,929.7L90.4,906.3L90.6,917.4L90.8,939L91,936.3L91.2,939.6L91.4,967.6L91.6,958.5L91.8,962.6L92,960.8L92.2,968.9L92.4,971L92.6,973.1L92.8,968L93,976.3L93.3,992.1L93.5,988.4L93.7,955L93.9,971.6L94.1,963.2L94.3,954.7L94.5,948L94.7,939.9L94.9,936.7L95.1,934.6L95.3,915.9L95.5,911L95.7,893.5L95.9,896.9L96.1,894.2L96.3,880.9L96.5,874.7L96.7,874.7L96.9,890.1L97.1,887.6L97.3,891.6L97.5,888.1L97.7,904L97.9,892.7L98.1,892.2L98.3,904.9L98.5,908.6L98.7,902.7L98.9,905.4L99.1,910.3L99.3,914L99.5,911.6L99.7,923L99.9,925.4L100.1,933.4L100.3,926.7L100.5,925.2L100.7,906.6L100.9,929.4L101.1,920.1L101.3,917.8L101.5,927.1L101.7,920.2L101.9,947L102.1,935.6L102.3,932.8L102.5,954L102.7,945.5L102.9,933.5L103.1,945.7L103.3,952.5L103.5,944.7L103.7,943.2L103.9,936.9L104.1,944.5L104.3,954.4L104.5,958.9L104.7,954.2L104.9,939.5L105.1,939.3L105.3,929.6L105.5,929.8L105.7,936.4L105.9,933.8L106.1,922.8L106.3,919.1L106.5,916.5L106.7,912.8L106.9,895.3L107.1,901.5L107.3,912.3L107.5,922.8L107.7,927.6L107.9,935.3L108.1,937.9L108.3,944.4L108.5,946.9L108.7,955.5L108.9,965.2L109.1,964.4L109.3,966.3L109.5,979.8L109.7,978.8L109.9,972.4L110.1,985L110.3,991.6L110.5,970L110.7,976.4L110.9,969.4L111.1,976.5L111.3,946.7L111.5,949.2L111.7,956.6L111.9,962.6L112.1,962.2L112.3,961L112.5,954.2L112.7,952.3L112.9,933.8L113.1,943.1L113.3,942L113.5,939.7L113.7,952.3L113.9,929.3L114.1,931.7L114.3,927.7L114.5,921.9L114.7,926.5L114.9,912.8L115.1,920.5L115.3,920.1L115.5,922.5L115.7,919.9L115.9,915.8L116.1,919.8L116.3,920.8L116.5,901.4L116.7,914.8L116.9,897.9L117.1,904.8L117.3,908.1L117.6,906.9L117.8,898.9L118,894.3L118.2,898.4L118.4,887.7L118.6,881.2L118.8,901.3L119,909.8L119.2,908.5L119.4,907.5L119.6,897.5L119.8,893.5L120,895.5L120.2,884.4L120.4,906.1L120.6,896.4L120.8,876.3L121,881.6L121.2,881.6L121.4,876.3L121.6,876.3L121.8,876.3L122,883.1L122.2,893.6L122.4,885L122.6,888.9L122.8,889.2L123,890.4L123.2,897.9L123.4,912L123.6,918.2L123.8,950.1L124,959.8L124.2,961.3L124.4,987.4L124.6,994.2L124.8,1008.6L125,1017.8L125.2,1030.5L125.4,1058L125.6,1071L125.8,1074.6L126,1080.2L126.2,1063.6L126.4,1051.6L126.6,1033L126.8,1001L127,986.4L127.2,975.9L127.4,973.3L127.6,975.8L127.8,983.5L128,990.4L128.2,992.1L128.4,1000.6L128.6,1001.9L128.8,1003.7L129,1003.4L129.2,1009.6L129.4,1010.1L129.6,1003.5L129.8,998.5L130,987.9L130.2,994.9L130.4,988.6L130.6,963.6L130.8,958.9L131,945.3L131.2,944.6L131.4,943.7L131.6,939.7L131.8,943.5L132,925.3L132.2,934.8L132.4,924L132.6,919.9L132.8,914.5L133,908.9L133.2,917.6L133.4,914.2L133.6,912.9L133.8,905.7L134,888.8L134.2,900L134.4,889L134.6,892.4L134.8,895.7L135,897.3L135.2,914.7L135.4,913.7L135.6,911L135.8,926.1L136,921.1L136.2,928.4L136.4,928.1L136.6,943L136.8,929.2L137,947.1L137.2,958.1L137.4,938.3L137.6,945.5L137.8,950.3L138,950.9L138.2,958.2L138.4,959.3L138.6,954L138.8,953.2L139,953.4L139.2,957.4L139.4,959.5L139.6,955.5L139.8,948.5L140,952.3L140.2,969.3L140.4,971L140.6,959.6L140.8,968.3L141,973.5L141.2,984.3L141.4,966.9L141.6,960.3L141.9,951.9L142.1,958.3L142.3,929.7L142.5,930.6L142.7,927.3L142.9,937.4L143.1,927.5L143.3,913.9L143.5,924.4L143.7,897.7L143.9,881.7L144.1,884.2L144.3,873L144.5,879.5L144.7,873L144.9,881.5L145.1,891.4L145.3,885L145.5,892.8L145.7,887.6L145.9,906.1L146.1,910L146.3,910.3L146.5,918.9L146.7,931.7L146.9,930.6L147.1,948.8L147.3,946.7L147.5,960.6L147.7,953.7L147.9,962.2L148.1,960.7L148.3,953.3L148.5,938L148.7,953.4L148.9,948.7L149.1,939.2L149.3,952.1L149.5,935.8L149.7,939.7L149.9,936L150.1,932.3L150.3,920.9L150.5,926.3L150.7,927L150.9,929.9L151.1,940.5L151.3,931.8L151.5,910.4L151.7,909.1L151.9,909.1L152.1,909.1L152.3,916L152.5,905.8L152.7,908.8L152.9,897.8L153.1,909.8L153.3,911.6L153.5,913.4L153.7,926L153.9,927.9L154.1,936.1L154.3,939.9L154.5,935L154.7,955.7L154.9,957.7L155.1,943.7L155.3,945.9L155.5,946.7L155.7,964.2L155.9,971.8L156.1,987.6L156.3,974.6L156.5,971.1L156.7,981.7L156.9,982.7L157.1,978.5L157.3,977.5L157.5,1005.1L157.7,992.1L157.9,994.9L158.1,997.4L158.3,993.8L158.5,995.3L158.7,1010.5L158.9,1005.8L159.1,1015.5L159.3,1016.1L159.5,1016.1L159.7,1016.1L159.9,1016.1L160.1,1016.1L160.3,1016.1L160.5,986.3L160.7,999.7L160.9,1000.3L161.1,1004.1L161.3,999.9L161.5,1000L161.7,980.3L161.9,976.8L162.1,988L162.3,978.2L162.5,973.5L162.7,968L162.9,967.5L163.1,962.5L163.3,960L163.5,959.3L163.7,953.4L163.9,966.1L164.1,958.5L164.3,946L164.5,952.3L164.7,950.2L164.9,954.1L165.1,943L165.3,920.6L165.5,926.9L165.7,937.5L165.9,938.3L166.1,937.9L166.4,914.3L166.6,908.6L166.8,908.4L167,918.6L167.2,913.4L167.4,912.2L167.6,893.9L167.8,891.1L168,907.2L168.2,899.2L168.4,896.2L168.6,899L168.8,913L169,896.3L169.2,882.1L169.4,888.9L169.6,885.2L169.8,904.9L170,874L170.2,875.8L170.4,874.3L170.6,872.8L170.8,874.3L171,872.1L171.2,874.4L171.4,872.7L171.6,869.2L171.8,865.2L172,850.5L172.2,864.3L172.4,849.6L172.6,855.3L172.8,856L173,862.3L173.2,841.1L173.4,855.4L173.6,858.4L173.8,851L174,862.2L174.2,859.6L174.4,866L174.6,859.9L174.8,853.9L175,863.2L175.2,851.9L175.4,862.4L175.6,865.8L175.8,875.2L176,874.7L176.2,888.5L176.4,873.1L176.6,861.6L176.8,870.5L177,856L177.2,874.3L177.4,865.4L177.6,866.5L177.8,862.7L178,862.3L178.2,857.6L178.4,853.7L178.6,856.3L178.8,841.1L179,837.2L179.2,852.1L179.4,836.6L179.6,846.6L179.8,854.9L180,847L180.2,860L180.4,871.3L180.6,879.4L180.8,902.1L181,888.2L181.2,901.4L181.4,896.5L181.6,900L181.8,899.2L182,898L182.2,907.8L182.4,909.4L182.6,925.8L182.8,923L183,916.1L183.2,925.8L183.4,902.5L183.6,923.5L183.8,927.4L184,907L184.2,907.3L184.4,933.4L184.6,937.4L184.8,914.5L185,935.7L185.2,949.7L185.4,938.9L185.6,918.2L185.8,924.9L186,926.1L186.2,931.7L186.4,945.2L186.6,954.5L186.8,960.3L187,947.1L187.2,963.6L187.4,962.3L187.6,951.8L187.8,959.5L188,963.3L188.2,965.1L188.4,962.6L188.6,962.6L188.8,980.7L189,977.8L189.2,972.6L189.4,977.4L189.6,983.3L189.8,983L190,997.4L190.2,990.3L190.4,971.7L190.7,979L190.9,981.7L191.1,980.1L191.3,979.9L191.5,983.1L191.7,987.1L191.9,990.2L192.1,978.5L192.3,969L192.5,980L192.7,977.1L192.9,963L193.1,979L193.3,970.8L193.5,966.6L193.7,960.9L193.9,963.7L194.1,968.4L194.3,962.7L194.5,977.5L194.7,985.5L194.9,989.4L195.1,972.1L195.3,991.4L195.5,975.9L195.7,968.3L195.9,961L196.1,964.5L196.3,967.4L196.5,964.5L196.7,972.8L196.9,982.8L197.1,969.6L197.3,986L197.5,968.1L197.7,976L197.9,979.5L198.1,969.2L198.3,961.8L198.5,981.3L198.7,982.7L198.9,985.5L199.1,975.4L199.3,972.7L199.5,978.3L199.7,989.5L199.9,991.8L200.1,978.5L200.3,973.5L200.5,975L200.7,982.7L200.9,968.4L201.1,966.7L201.3,960.7L201.5,946.1L201.7,950.5L201.9,961.6L202.1,960.2L202.3,944.3L202.5,953L202.7,945.6L202.9,943.9L203.1,941.4L203.3,929.3L203.5,918L203.7,921.7L203.9,925.2L204.1,913.1L204.3,906.9L204.5,894.4L204.7,882.6L204.9,871.7L205.1,876.9L205.3,871.6L205.5,858.1L205.7,851.1L205.9,851.5L206.1,854L206.3,863.5L206.5,876.9L206.7,867.4L206.9,876.3L207.1,884.5L207.3,878.6L207.5,887L207.7,873.9L207.9,885.9L208.1,890.6L208.3,895.4L208.5,892L208.7,887.7L208.9,908.1L209.1,908L209.3,930.6L209.5,911.6L209.7,904.6L209.9,908.3L210.1,912.9L210.3,909.9L210.5,928.9L210.7,936.2L210.9,932.1L211.1,925.5L211.3,931.5L211.5,936.6L211.7,932.6L211.9,929L212.1,937.8L212.3,947.9L212.5,939.7L212.7,949.3L212.9,947.8L213.1,949.1L213.3,938.5L213.5,925.2L213.7,930.8L213.9,938.3L214.1,929.8L214.3,942.9L214.5,940.8L214.7,932L215,951.6L215.2,953.8L215.4,927.5L215.6,928.7L215.8,926.9L216,928.9L216.2,926.3L216.4,931.8L216.6,924.6L216.8,928L217,918.6L217.2,917.5L217.4,920.6L217.6,912.4L217.8,902.9L218,938L218.2,929.1L218.4,935.7L218.6,948.2L218.8,973.1L219,968.5L219.2,978.9L219.4,994.9L219.6,1013.4L219.8,1022.9L220,1022.9L220.2,1022.9L220.4,1022.9L220.6,1022.9L220.8,1010.1L221,1004.8L221.2,991L221.4,993.7L221.6,997.8L221.8,1000.4L222,992.1L222.2,980.5L222.4,967.9L222.6,969.6L222.8,982.7L223,978.6L223.2,974.6L223.4,971.2L223.6,964.7L223.8,958.5L224,962.5L224.2,968L224.4,975.7L224.6,965.5L224.8,975.9L225,967.2L225.2,964.8L225.4,974.9L225.6,965.2L225.8,965L226,948.1L226.2,955.6L226.4,970.8L226.6,957.9L226.8,960.8L227,966.1L227.2,965.1L227.4,953.3L227.6,950L227.8,956.6L228,971.3L228.2,966.5L228.4,973.2L228.6,973.4L228.8,971.3L229,979.3L229.2,978.2L229.4,959.7L229.6,970.9L229.8,977.7L230,983.7L230.2,973.3L230.4,979L230.6,987L230.8,969.7L231,975.3L231.2,966.5L231.4,950.9L231.6,970.3L231.8,966L232,957L232.2,958.2L232.4,961L232.6,951.5L232.8,933.9L233,937.5L233.2,943L233.4,942.3L233.6,939.9L233.8,928.4L234,916.4L234.2,907.2L234.4,908.3L234.6,927.4L234.8,929.2L235,940.4L235.2,946.6L235.4,972.4L235.6,958.5L235.8,983.3L236,988.3L236.2,986.4L236.4,1005.5L236.6,998.9L236.8,1015L237,1031.1L237.2,1036.9L237.4,1038L237.6,1038L237.8,1038L238,1022.5L238.2,1001.5L238.4,967.5L238.6,932.9L238.8,920L239,896.5L239.2,866.8L239.5,870.7L239.7,881.8L239.9,883.8L240.1,896.1L240.3,877.5L240.5,889L240.7,899.6L240.9,899.5L241.1,899.3L241.3,881L241.5,887.2L241.7,904.2L241.9,889.1L242.1,896.7L242.3,913.2L242.5,923.1L242.7,898.2L242.9,909.4L243.1,906.7L243.3,909.9L243.5,901.2L243.7,905.1L243.9,915.8L244.1,925.8L244.3,921.5L244.5,912.8L244.7,921.8L244.9,900.4L245.1,909.2L245.3,902.8L245.5,902L245.7,899.5L245.9,902L246.1,892.3L246.3,903.7L246.5,902.6L246.7,895.1L246.9,901.5L247.1,891.3L247.3,900.6L247.5,891.4L247.7,883.6L247.9,882.9L248.1,889.6L248.3,881.3L248.5,878.9L248.7,894L248.9,876.6L249.1,878.6L249.3,882.9L249.5,883.9L249.7,877.4L249.9,874.1L250.1,875.3L250.3,870.1L250.5,877.6L250.7,892.8L250.9,895.6L251.1,884.6L251.3,895.1L251.5,888.9L251.7,886.1L251.9,882.9L252.1,885.9L252.3,879L252.5,893.3L252.7,889.3L252.9,901.3L253.1,896L253.3,894.8L253.5,898.5L253.7,907.8L253.9,886.1L254.1,896.1L254.3,902.6L254.5,909.8L254.7,908L254.9,904.8L255.1,911.2L255.3,906.9L255.5,915.9L255.7,923.4L255.9,914.3L256.1,922.6L256.3,916.9L256.5,931.2L256.7,925L256.9,925.4L257.1,939.3L257.3,936L257.5,928.2L257.7,926.9L257.9,912.9L258.1,926.1L258.3,925.9L258.5,927.1L258.7,941.2L258.9,939.6L259.1,926.8L259.3,933.6L259.5,921L259.7,928.9L259.9,930.9L260.1,927.6L260.3,936.2L260.5,926.4L260.7,941L260.9,929.5L261.1,928.6L261.3,930.9L261.5,929.9L261.7,933.2L261.9,940.6L262.1,943.4L262.3,931.7L262.5,938.8L262.7,933.4L262.9,930.3L263.1,939.7L263.3,952.5L263.5,953.1L263.8,945L264,946.3L264.2,933.4L264.4,943.2L264.6,946.1L264.8,953.7L265,954.1L265.2,952.4L265.4,967.1L265.6,967.7L265.8,970L266,959.6L266.2,978.6L266.4,975.4L266.6,962.2L266.8,952.3L267,957.6L267.2,948.9L267.4,971.1L267.6,955.6L267.8,961L268,970L268.2,969.3L268.4,957.6L268.6,953.6L268.8,955.8L269,959.1L269.2,954L269.4,953.1L269.6,965.8L269.8,956.9L270,954.8L270.2,939.8L270.4,947.7L270.6,940.1L270.8,951.7L271,940.5L271.2,958.2L271.4,957.9L271.6,961.8L271.8,967.7L272,958.4L272.2,979.8L272.4,982.3L272.6,980.7L272.8,978.1L273,988.5L273.2,973.2L273.4,970.8L273.6,976.8L273.8,978.5L274,985L274.2,985.2L274.4,991L274.6,978.5L274.8,976.1L275,988L275.2,985.3L275.4,997.9L275.6,988.7L275.8,980L276,972.7L276.2,964.9L276.4,954.9L276.6,959.3L276.8,962.9L277,946.9L277.2,967L277.4,960.4L277.6,958.1L277.8,956.4L278,952.9L278.2,945.8L278.4,945.6L278.6,938.3L278.8,933.5L279,940L279.2,942.6L279.4,950.1L279.6,947.3L279.8,933.9L280,918.4L280.2,920L280.4,918.1L280.6,921.6L280.8,920.3L281,930.3L281.2,913.2L281.4,913.8L281.6,903.4L281.8,911.3L282,908.2L282.2,905.9L282.4,903.2L282.6,923.6L282.8,920.6L283,922.4L283.2,919.4L283.4,934L283.6,929.7L283.8,919.2L284,939.5L284.2,935.3L284.4,946.8L284.6,947.1L284.8,950.3L285,954.8L285.2,967.2L285.4,970.9L285.6,957.2L285.8,973.5L286,976.1L286.2,977.1L286.4,975.7L286.6,976.3L286.8,972L287,978.3L287.2,965L287.4,968.7L287.6,964.2L287.8,945.6L288.1,943.8L288.3,938.3L288.5,941.2L288.7,926.3L288.9,921.6L289.1,935.7L289.3,928.2L289.5,935.7L289.7,934.8L289.9,935.5L290.1,942.2L290.3,934.6L290.5,942.1L290.7,919.3L290.9,916.3L291.1,920L291.3,919.7L291.5,922.6L291.7,919.3L291.9,915.1L292.1,914.3L292.3,912L292.5,921.1L292.7,923.6L292.9,926.3L293.1,923.2L293.3,927L293.5,911.3L293.7,922.6L293.9,920L294.1,914L294.3,913.3L294.5,912.3L294.7,919.1L294.9,926.9L295.1,921.1L295.3,912.3L295.5,919.9L295.7,917.7L295.9,923.9L296.1,912.8L296.3,912.2L296.5,910.9L296.7,913.9L296.9,926.3L297.1,927.1L297.3,916.7L297.5,913.8L297.7,935.8L297.9,918.5L298.1,907.9L298.3,910.6L298.5,921.8L298.7,913.5L298.9,915.4L299.1,916.3L299.3,907.4L299.5,906.9L299.7,916.2L299.9,916.4L300.1,917.8L300.3,920.3L300.5,906.2L300.7,906.8L300.9,920.4L301.1,916.3L301.3,925.4L301.5,915.3L301.7,905.8L301.9,913.1L302.1,921L302.3,933.6L302.5,931.4L302.7,924L302.9,925.5L303.1,924L303.3,930.1L303.5,928.8L303.7,927.6L303.9,925.5L304.1,931.2L304.3,939.6L304.5,942.3L304.7,936.9L304.9,945.6L305.1,952.9L305.3,956.1L305.5,951.3L305.7,953.8L305.9,953L306.1,964.1L306.3,949.2L306.5,956.5L306.7,955.4L306.9,959.6L307.1,955L307.3,953.5L307.5,959.4L307.7,958.4L307.9,962.9L308.1,954.6L308.3,961.1L308.5,958.6L308.7,956.5L308.9,953.1L309.1,948.2L309.3,944.6L309.5,944.7L309.7,950.4L309.9,943.6L310.1,942.8L310.3,939.8L310.5,946.7L310.7,932.1L310.9,936.9L311.1,934.8L311.3,950L311.5,943.9L311.7,947L311.9,936.4L312.1,939.2L312.3,936.6L312.6,942.5L312.8,934.6L313,938.9L313.2,930.9L313.4,938.1L313.6,940L313.8,936.1L314,932.8L314.2,942.8L314.4,942.3L314.6,930.2L314.8,931.6L315,945.5L315.2,944.3L315.4,939.4L315.6,932.5L315.8,931.1L316,922.2L316.2,919.1L316.4,911.3L316.6,936.4L316.8,927.1L317,920.5L317.2,939.3L317.4,943.9L317.6,933.9L317.8,925.4L318,923.1L318.2,945.1L318.4,942L318.6,932.6L318.8,933.2L319,927.5L319.2,929.4L319.4,918.7L319.6,929.2L319.8,923.6L320,919.3L320.2,909.5L320.4,925.5L320.6,918L320.8,925.6L321,927.9L321.2,909.2L321.4,913.9L321.6,908.1L321.8,914.4L322,907.6L322.2,904.9L322.4,899.1L322.6,908.4L322.8,899.9L323,918.3L323.2,899.3L323.4,912.6L323.6,909.6L323.8,916.8L324,913.6L324.2,905.4L324.4,915.5L324.6,924.4L324.8,918.7L325,919.4L325.2,944L325.4,924.6L325.6,923.5L325.8,938.7L326,925.2L326.2,919.8L326.4,936.9L326.6,933.1L326.8,929.1L327,919L327.2,914.6L327.4,925.6L327.6,928.2L327.8,923.7L328,927.3L328.2,933.8L328.4,926.8L328.6,944.6L328.8,930.7L329,932.1L329.2,933L329.4,930.6L329.6,932.9L329.8,914.8L330,923.6L330.2,923.6L330.4,914.1L330.6,917.3L330.8,935.2L331,921L331.2,913.9L331.4,917.8L331.6,908.2L331.8,912.7L332,907.1L332.2,919.4L332.4,920.5L332.6,911.4L332.8,906.7L333,898.5L333.2,908.1L333.4,913.8L333.6,908.6L333.8,921.6L334,915.3L334.2,929L334.4,936.6L334.6,921.9L334.8,918.3L335,920L335.2,917L335.4,920.3L335.6,924.2L335.8,931.9L336,927.8L336.2,928.3L336.4,931.6L336.6,933.2L336.9,947.9L337.1,947.3L337.3,942.9L337.5,934.1L337.7,942L337.9,934.7L338.1,934.5L338.3,927.4L338.5,941.2L338.7,950.3L338.9,945.5L339.1,953.5L339.3,954L339.5,942L339.7,955.1L339.9,945.3L340.1,942.4L340.3,936.4L340.5,952.5L340.7,957L340.9,954.2L341.1,956.8L341.3,957.4L341.5,962.1L341.7,958.9L341.9,959.4L342.1,964L342.3,973L342.5,958.3L342.7,976.1L342.9,969.3L343.1,965L343.3,975.7L343.5,961.5L343.7,956.7L343.9,960L344.1,964.4L344.3,956.6L344.5,963.8L344.7,957.9L344.9,958.5L345.1,961.4L345.3,960.4L345.5,959.4L345.7,966.6L345.9,947L346.1,945.2L346.3,929.5L346.5,933.2L346.7,935.8L346.9,931.3L347.1,932.1L347.3,932.5L347.5,932.3L347.7,940.6L347.9,930.8L348.1,918.7L348.3,938.8L348.5,931.7L348.7,920.8L348.9,921.7L349.1,915.1L349.3,926.4L349.5,918.2L349.7,914.4L349.9,917.8L350.1,921.4L350.3,927.7L350.5,916.7L350.7,931.5L350.9,934.3L351.1,937.2L351.3,920.4L351.5,933.4L351.7,929.9L351.9,944.2L352.1,922.5L352.3,927.3L352.5,939.7L352.7,939.4L352.9,922.1L353.1,943.7L353.3,925.7L353.5,941.1L353.7,954.7L353.9,927.9L354.1,926L354.3,919.7L354.5,926.7L354.7,926.4L354.9,918.6L355.1,927.6L355.3,932.3L355.5,915.1L355.7,930.9L355.9,920.1L356.1,927.9L356.3,921.7L356.5,917.8L356.7,931.8L356.9,907.3L357.1,916.9L357.3,910.3L357.5,899L357.7,912.1L357.9,910.1L358.1,913.2L358.3,906.1L358.5,904.8L358.7,893L358.9,895.5L359.1,886.9L359.3,896.4L359.5,889.4L359.7,917.1L359.9,902.2L360.1,896.3L360.3,887.9L360.5,884.1L360.7,878L360.9,878L361.2,891.5L361.4,900.1L361.6,892.7L361.8,887.4L362,878L362.2,878L362.4,878L362.6,886.4L362.8,891.2L363,896.9L363.2,908.5L363.4,907L363.6,887.9L363.8,910.7L364,920.4L364.2,931.4L364.4,911.2L364.6,922.7L364.8,927.7L365,910.1L365.2,921.5L365.4,948.8L365.6,946.9L365.8,943.6L366,948.3L366.2,963.7L366.4,944.9L366.6,942.3L366.8,959.1L367,962.9L367.2,961.8L367.4,950L367.6,949.8L367.8,961L368,972.6L368.2,973.2L368.4,969.7L368.6,981.6L368.8,985.3L369,973.6L369.2,965.7L369.4,978.6L369.6,986.3L369.8,997.3L370,989.6L370.2,1001L370.4,1001L370.6,1001L370.8,1001L371,1001L371.2,1001L371.4,1001L371.6,998.4L371.8,979.6L372,975.3L372.2,976.1L372.4,978.7L372.6,971L372.8,979.7L373,970.7L373.2,970.9L373.4,969.3L373.6,971.9L373.8,952.2L374,977.6L374.2,960.5L374.4,963.3L374.6,958.6L374.8,983.9L375,968.9L375.2,986.5L375.4,972.6L375.6,975.1L375.8,978.1L376,983.6L376.2,988.3L376.4,987.6L376.6,991.6L376.8,995L377,990.5L377.2,971.9L377.4,972L377.6,972L377.8,970.1L378,962.6L378.2,960L378.4,962.1L378.6,968.4L378.8,967.2L379,970.4L379.2,960.2L379.4,962.9L379.6,952.3L379.8,940.1L380,950.3L380.2,938.9L380.4,933L380.6,955.1L380.8,947.9L381,929.4L381.2,936.6L381.4,931.5L381.6,932.3L381.8,939.7L382,930.1L382.2,926.5L382.4,937L382.6,953.7L382.8,950L383,950.2L383.2,931.2L383.4,937.3L383.6,936L383.8,929L384,924.6L384.2,929.6L384.4,926.8L384.6,930.4L384.8,931.9L385,937L385.2,942.9L385.4,941.6L385.7,926.2L385.9,931.2L386.1,919.9L386.3,928.4L386.5,931L386.7,949.1L386.9,917.8L387.1,924L387.3,923.5L387.5,930L387.7,927.1L387.9,912.4L388.1,932.2L388.3,916.1L388.5,911.6L388.7,910.7L388.9,907.7L389.1,917.5L389.3,907.8L389.5,921.6L389.7,898.9L389.9,902.3L390.1,911.2L390.3,921.5L390.5,909.4L390.7,907L390.9,916.4L391.1,900.3L391.3,913.6L391.5,919.9L391.7,926L391.9,917.8L392.1,918.7L392.3,910.6L392.5,905.4L392.7,915.5L392.9,920.9L393.1,921.1L393.3,924.7L393.5,923.8L393.7,911.7L393.9,909.6L394.1,897.6L394.3,896L394.5,896.3L394.7,874.6L394.9,867.8L395.1,856.1L395.3,865.8L395.5,856.1L395.7,860.7L395.9,874.6L396.1,874.2L396.3,875.2L396.5,878.4L396.7,876.1L396.9,891L397.1,899.6L397.3,897.6L397.5,884.1L397.7,901.3"/>
<rect class="ax" x="56.5" y="805.6" width="341.2" height="269.5"/>
<path class="t" d="M141.8,1075.1v-4.5 M141.8,805.6v4.5M227.1,1075.1v-4.5 M227.1,805.6v4.5M312.4,1075.1v-4.5 M312.4,805.6v4.5M56.5,873h4.5 M397.7,873h-4.5M56.5,940.3h4.5 M397.7,940.3h-4.5M56.5,1007.7h4.5 M397.7,1007.7h-4.5"/>
<text class="tk" x="55.9" y="1100.2" text-anchor="middle">0</text>
<text class="tk" x="141.2" y="1100.2" text-anchor="middle">1</text>
<text class="tk" x="226.5" y="1100.2" text-anchor="middle">2</text>
<text class="tk" x="311.8" y="1100.2" text-anchor="middle">3</text>
<text class="tk" x="397.1" y="1100.2" text-anchor="middle">4</text>
<text class="tk" x="49.5" y="813.1" text-anchor="end">4</text>
<text class="tk" x="49.5" y="880.5" text-anchor="end">2</text>
<text class="tk" x="49.5" y="947.8" text-anchor="end">0</text>
<text class="tk" x="49.5" y="1015.2" text-anchor="end">-2</text>
<text class="tk" x="49.5" y="1082.6" text-anchor="end">-4</text>
<text class="al" x="232.6" y="1127.1" text-anchor="middle">Time(t/s)</text>
<text class="yl" transform="translate(24,925.1) rotate(-90)" text-anchor="middle">Amplitude (m<tspan dx="3" dy="-1">·</tspan><tspan dx="3" dy="1">s</tspan><tspan font-size="17px" dy="-12">−2</tspan><tspan dy="12" dx="4">)</tspan></text>
</g>
<g id="spec-e">
<clipPath id="se"><rect x="497" y="812.9" width="291.6" height="255.7"/></clipPath>
<g clip-path="url(#se)">
<g filter="url(#pm)"><rect x="497" y="812.9" width="291.6" height="255.7" fill="url(#ge)"/><rect x="497" y="812.9" width="291.6" height="255.7" fill="url(#ee0)" filter="url(#fe0)"/><rect x="497" y="812.9" width="291.6" height="255.7" fill="url(#ee1)" filter="url(#fe1)"/><rect x="497" y="812.9" width="291.6" height="255.7" fill="url(#ee2)" filter="url(#fe2)"/><rect x="497" y="812.9" width="291.6" height="255.7" fill="url(#ee3)" filter="url(#fe3)"/><g filter="url(#bl)" fill="#fff"><ellipse cx="506.2" cy="1041.5" rx="6" ry="2.5" opacity=".22"/><ellipse cx="591" cy="1045" rx="7" ry="2.5" opacity=".2"/><ellipse cx="730" cy="1044.2" rx="7" ry="3" opacity=".2"/><ellipse cx="778.8" cy="1043.3" rx="5" ry="3" opacity=".2"/><ellipse cx="580.3" cy="995.5" rx="2.5" ry="4" opacity=".14"/><ellipse cx="508" cy="1015.3" rx="3.5" ry="4" opacity=".14"/><ellipse cx="643.4" cy="1016.2" rx="3.5" ry="3.5" opacity=".14"/><ellipse cx="665" cy="1020.7" rx="3" ry="4" opacity=".14"/><ellipse cx="722.8" cy="1014.4" rx="4" ry="3" opacity=".14"/><ellipse cx="688.6" cy="1035.2" rx="3.5" ry="3" opacity=".14"/><ellipse cx="724.7" cy="995.5" rx="2" ry="4" opacity=".1"/></g><g filter="url(#bs)" fill="#fff"><ellipse cx="642" cy="1061.7" rx="150" ry="0.9" opacity=".42"/><ellipse cx="587" cy="1061.7" rx="20" ry="0.9" opacity=".45"/><ellipse cx="648" cy="1061.7" rx="14" ry="0.9" opacity=".4"/><ellipse cx="530" cy="1063.3" rx="30" ry="0.7" opacity=".5"/><ellipse cx="720" cy="1061.5" rx="14" ry="0.9" opacity=".25"/><ellipse cx="520" cy="1057" rx="20" ry="1" opacity=".2"/></g><g filter="url(#bv)" fill="#fff"><ellipse cx="508" cy="840" rx="0.8" ry="28" opacity=".3"/><ellipse cx="706.6" cy="850" rx="0.8" ry="40" opacity=".22"/><ellipse cx="670.5" cy="880" rx="0.7" ry="50" opacity=".16"/><ellipse cx="688.6" cy="900" rx="0.7" ry="40" opacity=".16"/><ellipse cx="653" cy="850" rx="0.7" ry="25" opacity=".14"/><ellipse cx="635.6" cy="890" rx="0.7" ry="45" opacity=".14"/><ellipse cx="526" cy="870" rx="0.7" ry="30" opacity=".14"/><ellipse cx="580" cy="850" rx="0.7" ry="25" opacity=".12"/><ellipse cx="742" cy="920" rx="0.8" ry="15" opacity=".14"/><ellipse cx="778" cy="850" rx="0.7" ry="30" opacity=".14"/><ellipse cx="598" cy="930" rx="0.8" ry="15" opacity=".1"/><ellipse cx="561" cy="850" rx="0.7" ry="30" opacity=".1"/></g></g>
</g>
<rect class="ax" x="497" y="812.9" width="291.6" height="255.7"/>
<path class="t" d="M566.8,1068.6v-4 M566.8,812.9v4M636.5,1068.6v-4 M636.5,812.9v4M706.3,1068.6v-4 M706.3,812.9v4M776,1068.6v-4 M776,812.9v4M497,864h4 M788.6,864h-4M497,915.5h4 M788.6,915.5h-4M497,966.3h4 M788.6,966.3h-4M497,1017.8h4 M788.6,1017.8h-4"/>
<text class="tk ts" x="497" y="1095.5" text-anchor="middle">0</text>
<text class="tk ts" x="566.8" y="1095.5" text-anchor="middle">5</text>
<text class="tk ts" x="636.5" y="1095.5" text-anchor="middle">10</text>
<text class="tk ts" x="706.3" y="1095.5" text-anchor="middle">15</text>
<text class="tk ts" x="776" y="1095.5" text-anchor="middle">20</text>
<text class="tk ts" x="490" y="820.4" text-anchor="end">500</text>
<text class="tk ts" x="490" y="871.5" text-anchor="end">400</text>
<text class="tk ts" x="490" y="923" text-anchor="end">300</text>
<text class="tk ts" x="490" y="973.8" text-anchor="end">200</text>
<text class="tk ts" x="490" y="1025.3" text-anchor="end">100</text>
<text class="al" x="644.8" y="1126.8" text-anchor="middle">Time(t/s)</text>
<text class="yf" transform="translate(440.6,926) rotate(-90)" text-anchor="middle">Frequency(Hz)</text>
<rect x="795.6" y="812.9" width="17" height="255.7" fill="url(#cb)"/>
<rect x="795.6" y="812.9" width="17" height="255.7" fill="none" stroke="#1e1e1e" stroke-width="0.6" stroke-opacity="0.55"/>
<text class="tk" x="818.6" y="868.2">4</text>
<text class="tk" x="818.6" y="920.1">3</text>
<text class="tk" x="818.6" y="972.2">2</text>
<text class="tk" x="818.6" y="1024.3">1</text>
<path class="t" style="stroke-width:1.3" d="M812.6,861h-4M812.6,912.9h-4M812.6,965h-4M812.6,1017.1h-4"/>
</g>
<g id="plot-f">
<clipPath id="cf"><rect x="918.1" y="807.6" width="337.1" height="266"/></clipPath>
<path class="sg" clip-path="url(#cf)" d="M918.1,929L918.4,923.1L918.6,929.4L918.9,945.7L919.1,941.9L919.4,918.6L919.7,909L919.9,920.6L920.2,948.2L920.4,961L920.7,960.1L921,959.7L921.2,961.6L921.5,960L921.7,948.1L922,948.7L922.3,957.3L922.5,973.8L922.8,983.8L923,979.7L923.3,970.7L923.5,969.5L923.8,968.8L924.1,966.5L924.3,963L924.6,962.9L924.8,962.1L925.1,953.6L925.4,927.2L925.6,893.5L925.9,889.7L926.1,889.2L926.4,906.2L926.7,901.8L926.9,916.2L927.2,930.7L927.4,921.7L927.7,930.5L928,947.4L928.2,944.9L928.5,938.5L928.7,933.1L929,956.9L929.3,953.7L929.5,929.3L929.8,924.7L930,916.4L930.3,889.7L930.6,880.4L930.8,883L931.1,883.1L931.3,930.9L931.6,1019.6L931.9,1070.9L932.1,1061.8L932.4,1000.5L932.6,968L932.9,956.5L933.2,943.5L933.4,945.4L933.7,931.2L933.9,912.1L934.2,904L934.4,916.7L934.7,933.3L935,928.3L935.2,953.9L935.5,939.2L935.7,918.7L936,917L936.3,923.7L936.5,931.7L936.8,937.7L937,932.4L937.3,951.1L937.6,986.6L937.8,1006.6L938.1,995.1L938.3,991.6L938.6,969.5L938.9,947.9L939.1,943.1L939.4,934.7L939.6,926.8L939.9,915.5L940.2,923.9L940.4,933.7L940.7,955.2L940.9,955.7L941.2,940L941.5,904.1L941.7,868.4L942,849.2L942.2,864.7L942.5,869.1L942.8,899.7L943,926.8L943.3,940.1L943.5,947.9L943.8,962.5L944.1,945.2L944.3,928.1L944.6,930.8L944.8,959.7L945.1,981.5L945.3,973.5L945.6,954.4L945.9,942.4L946.1,940.2L946.4,934.4L946.6,932.5L946.9,947.7L947.2,939.1L947.4,910.5L947.7,879.3L947.9,862.9L948.2,877.2L948.5,909L948.7,929.8L949,944.8L949.2,956.1L949.5,960L949.8,951L950,935.5L950.3,941.9L950.5,967.6L950.8,986.2L951.1,978.3L951.3,973.1L951.6,957.2L951.8,963.3L952.1,965.7L952.4,940L952.6,942.8L952.9,981L953.1,993.6L953.4,993.3L953.7,993.4L953.9,986.2L954.2,963.9L954.4,941L954.7,939.8L955,927.5L955.2,915.1L955.5,897.1L955.7,901.3L956,897.6L956.2,916L956.5,928.9L956.8,927.2L957,934L957.3,941.9L957.5,949L957.8,957.3L958.1,963L958.3,963.1L958.6,954.8L958.8,940.7L959.1,936L959.4,957.1L959.6,956.6L959.9,962.6L960.1,968L960.4,973.6L960.7,971.6L960.9,973.3L961.2,976.5L961.4,965.9L961.7,954.1L962,960.2L962.2,959.8L962.5,951.7L962.7,940.2L963,932.4L963.3,938.9L963.5,940.9L963.8,930.8L964,924.5L964.3,923.1L964.6,918.4L964.8,918.2L965.1,927.1L965.3,933.7L965.6,920.3L965.8,918.9L966.1,920.1L966.4,916.3L966.6,915.5L966.9,921.3L967.1,920.5L967.4,925.9L967.7,926.6L967.9,928.4L968.2,923.1L968.4,933.4L968.7,941.5L969,943.5L969.2,942.8L969.5,954.2L969.7,953.9L970,939.7L970.3,929.7L970.5,946.6L970.8,959.4L971,956.3L971.3,952.6L971.6,953L971.8,959.7L972.1,942.7L972.3,944.2L972.6,956.6L972.9,955.5L973.1,949.7L973.4,950.7L973.6,948.8L973.9,950L974.2,945.7L974.4,942.7L974.7,951.9L974.9,959.6L975.2,952.9L975.5,940.1L975.7,925.3L976,928.6L976.2,934.7L976.5,939L976.7,935.4L977,951.9L977.3,963.6L977.5,949.7L977.8,938.8L978,919.3L978.3,895.1L978.6,912.5L978.8,929.6L979.1,926.3L979.3,941L979.6,955.5L979.9,972.2L980.1,981.2L980.4,985L980.6,983.2L980.9,984.8L981.2,982.6L981.4,967.9L981.7,956.2L981.9,938.4L982.2,920.3L982.5,930.3L982.7,943.5L983,940.8L983.2,922.2L983.5,921.6L983.8,933.6L984,926.7L984.3,913L984.5,896.9L984.8,883.9L985.1,883.2L985.3,905.7L985.6,912.2L985.8,918.2L986.1,919.3L986.4,915.1L986.6,919.5L986.9,926.1L987.1,936.6L987.4,950L987.6,939.3L987.9,965.4L988.2,952.2L988.4,953.9L988.7,963.2L988.9,961.6L989.2,959.2L989.5,979L989.7,984.3L990,985.3L990.2,962.8L990.5,953.1L990.8,953L991,938.6L991.3,930.8L991.5,922.6L991.8,916.4L992.1,915.6L992.3,917.8L992.6,916.6L992.8,922.7L993.1,931.1L993.4,921.8L993.6,932.3L993.9,948.2L994.1,958.3L994.4,949.4L994.7,954.5L994.9,950.8L995.2,951.6L995.4,952.1L995.7,953.9L996,945.5L996.2,940.9L996.5,940.9L996.7,934.1L997,929.3L997.2,947.2L997.5,957.2L997.8,960.3L998,953.3L998.3,936.7L998.5,933.3L998.8,940L999.1,920.9L999.3,919.9L999.6,918.1L999.8,919.3L1000.1,934.5L1000.4,940.5L1000.6,926.6L1000.9,923.9L1001.1,928.7L1001.4,954.8L1001.7,960.1L1001.9,959.2L1002.2,951.2L1002.4,954L1002.7,961.4L1003,985.8L1003.2,988.4L1003.5,980.1L1003.7,960.2L1004,947.2L1004.3,941.7L1004.5,931.6L1004.8,952.3L1005,956.3L1005.3,943.4L1005.6,940.8L1005.8,941.7L1006.1,945.1L1006.3,952.9L1006.6,946.5L1006.9,957.9L1007.1,952.4L1007.4,936.9L1007.6,939.2L1007.9,938.7L1008.1,920.3L1008.4,907.8L1008.7,891.3L1008.9,893.1L1009.2,902L1009.4,915.5L1009.7,931.5L1010,953.2L1010.2,959L1010.5,968.2L1010.7,971.9L1011,967.5L1011.3,965L1011.5,976.2L1011.8,977.1L1012,984.8L1012.3,980.5L1012.6,956.3L1012.8,935.6L1013.1,910.9L1013.3,896.8L1013.6,892.7L1013.9,901.4L1014.1,930L1014.4,940.7L1014.6,930.7L1014.9,932.7L1015.2,940.6L1015.4,950.7L1015.7,933L1015.9,942L1016.2,954.5L1016.5,949L1016.7,954.7L1017,959L1017.2,947.3L1017.5,928.8L1017.8,905.7L1018,892.6L1018.3,881L1018.5,892.4L1018.8,912.2L1019,923.4L1019.3,931.5L1019.6,933.3L1019.8,942.6L1020.1,959.5L1020.3,961.5L1020.6,960.2L1020.9,983.8L1021.1,961.3L1021.4,939.2L1021.6,949.6L1021.9,957L1022.2,937.9L1022.4,921.8L1022.7,939.1L1022.9,942.6L1023.2,941.6L1023.5,905.6L1023.7,867.1L1024,841.6L1024.2,841.9L1024.5,855.4L1024.8,886.4L1025,922.5L1025.3,943.8L1025.5,942.3L1025.8,930.6L1026.1,940L1026.3,960.5L1026.6,967.3L1026.8,964.8L1027.1,967.7L1027.4,973.8L1027.6,1007.1L1027.9,1003.3L1028.1,976.2L1028.4,951.9L1028.7,940.4L1028.9,935.5L1029.2,963L1029.4,960.9L1029.7,960.8L1029.9,955.9L1030.2,922.5L1030.5,868L1030.7,840.2L1031,827.4L1031.2,859.7L1031.5,874.3L1031.8,889.5L1032,906.2L1032.3,910.2L1032.5,885.4L1032.8,871.3L1033.1,895.4L1033.3,912.3L1033.6,919.4L1033.8,945.4L1034.1,961.9L1034.4,968.8L1034.6,983.1L1034.9,986.8L1035.1,987.7L1035.4,973.4L1035.7,970.6L1035.9,971L1036.2,962.1L1036.4,941.5L1036.7,951L1037,939.3L1037.2,958.8L1037.5,957.3L1037.7,952.1L1038,967.9L1038.3,963.5L1038.5,950.4L1038.8,939.7L1039,936.1L1039.3,916.6L1039.5,911.7L1039.8,911.9L1040.1,923.6L1040.3,927L1040.6,945.3L1040.8,942.2L1041.1,952.9L1041.4,961.9L1041.6,951.7L1041.9,959.8L1042.1,957.2L1042.4,943L1042.7,947.2L1042.9,951.8L1043.2,947.3L1043.4,943.7L1043.7,933L1044,927.2L1044.2,915.8L1044.5,911L1044.7,923.5L1045,930.1L1045.3,929L1045.5,938.9L1045.8,927.9L1046,925.2L1046.3,938.6L1046.6,954L1046.8,956.2L1047.1,955.5L1047.3,943.7L1047.6,943L1047.9,953.7L1048.1,955.1L1048.4,949.1L1048.6,938.4L1048.9,936.5L1049.2,929.4L1049.4,945.8L1049.7,946L1049.9,943.6L1050.2,948.5L1050.4,956.6L1050.7,957.2L1051,950.5L1051.2,946.9L1051.5,954.2L1051.7,955.2L1052,951.2L1052.3,948.3L1052.5,952.9L1052.8,950.3L1053,936.6L1053.3,930.4L1053.6,935.9L1053.8,949.2L1054.1,957L1054.3,954.3L1054.6,949L1054.9,947.9L1055.1,948.6L1055.4,938.5L1055.6,939.8L1055.9,938.1L1056.2,937L1056.4,936.4L1056.7,937.5L1056.9,924.1L1057.2,911.9L1057.5,909.2L1057.7,907.4L1058,914.4L1058.2,930.3L1058.5,934.1L1058.8,939.5L1059,931.8L1059.3,944.8L1059.5,962.5L1059.8,952.1L1060.1,938L1060.3,919.4L1060.6,922.6L1060.8,932.8L1061.1,942.8L1061.3,942.3L1061.6,925.7L1061.9,927.7L1062.1,931L1062.4,938L1062.6,944.3L1062.9,962L1063.2,968.3L1063.4,970.9L1063.7,969.3L1063.9,963.3L1064.2,955.1L1064.5,967.2L1064.7,966.4L1065,941.8L1065.2,936.2L1065.5,924.6L1065.8,920.2L1066,923.8L1066.3,916.1L1066.5,924.1L1066.8,932.9L1067.1,934.5L1067.3,930.8L1067.6,938.4L1067.8,929.4L1068.1,929.9L1068.4,913.2L1068.6,904.1L1068.9,905L1069.1,907.2L1069.4,911.3L1069.7,921.3L1069.9,923.2L1070.2,923.8L1070.4,917.7L1070.7,921.7L1070.9,932.9L1071.2,939.8L1071.5,931.5L1071.7,944.2L1072,953.8L1072.2,959.4L1072.5,958.5L1072.8,966.9L1073,971.7L1073.3,972.7L1073.5,967.3L1073.8,960.8L1074.1,936.9L1074.3,906.7L1074.6,909.5L1074.8,907.4L1075.1,907.7L1075.4,909.9L1075.6,923.7L1075.9,930.4L1076.1,928.6L1076.4,926.5L1076.7,924.5L1076.9,935.1L1077.2,940L1077.4,947.3L1077.7,932.8L1078,918.9L1078.2,919.1L1078.5,935.9L1078.7,938.6L1079,932.5L1079.3,930.1L1079.5,930.6L1079.8,940L1080,941.8L1080.3,931.2L1080.6,935.7L1080.8,933.8L1081.1,938.6L1081.3,956.7L1081.6,961.8L1081.8,956.1L1082.1,950.7L1082.4,939.8L1082.6,910.4L1082.9,908.4L1083.1,910.3L1083.4,910.9L1083.7,910.7L1083.9,914.4L1084.2,946.8L1084.4,955.5L1084.7,956.4L1085,959.6L1085.2,965.8L1085.5,958.9L1085.7,957.7L1086,957.1L1086.3,938L1086.5,950.7L1086.8,937.6L1087,926.5L1087.3,922.5L1087.6,937.9L1087.8,957L1088.1,975.8L1088.3,982.1L1088.6,978.4L1088.9,974.9L1089.1,959.7L1089.4,934.3L1089.6,926.4L1089.9,928.7L1090.2,943.5L1090.4,958.9L1090.7,965.3L1090.9,956.9L1091.2,945.2L1091.5,904.3L1091.7,878.9L1092,877.8L1092.2,877.3L1092.5,887.7L1092.7,906.4L1093,937.8L1093.3,955.4L1093.5,953.8L1093.8,938.4L1094,953.2L1094.3,959L1094.6,958.7L1094.8,973.6L1095.1,996.8L1095.3,1003L1095.6,1003.4L1095.9,993.3L1096.1,966.6L1096.4,937.3L1096.6,921.5L1096.9,918.4L1097.2,917.9L1097.4,907.1L1097.7,897.5L1097.9,899.3L1098.2,908.9L1098.5,931.6L1098.7,927.2L1099,911.6L1099.2,913.8L1099.5,918.3L1099.8,927.7L1100,948.9L1100.3,949.8L1100.5,945.3L1100.8,946L1101.1,956.2L1101.3,945.2L1101.6,933.1L1101.8,939.6L1102.1,922.2L1102.4,886.8L1102.6,882.4L1102.9,895.6L1103.1,892.2L1103.4,903.1L1103.6,914.2L1103.9,912.9L1104.2,936.4L1104.4,957L1104.7,963.2L1104.9,972.8L1105.2,983.1L1105.5,993L1105.7,1004L1106,1014.4L1106.2,984.4L1106.5,959.5L1106.8,948.8L1107,948.4L1107.3,936.4L1107.5,932.7L1107.8,920.5L1108.1,897.4L1108.3,879.5L1108.6,874.9L1108.8,877.7L1109.1,891.3L1109.4,900.9L1109.6,909.6L1109.9,929.4L1110.1,940.2L1110.4,947.7L1110.7,951.7L1110.9,952.9L1111.2,960.1L1111.4,957.8L1111.7,952.8L1112,936L1112.2,941.9L1112.5,950.4L1112.7,944.4L1113,928.9L1113.2,937.7L1113.5,924.4L1113.8,927.7L1114,938.1L1114.3,937.6L1114.5,916.7L1114.8,915.6L1115.1,923.5L1115.3,927.2L1115.6,905.8L1115.8,900L1116.1,904.6L1116.4,924.3L1116.6,939.4L1116.9,943.5L1117.1,923.2L1117.4,948.4L1117.7,956.4L1117.9,960.9L1118.2,941.5L1118.4,941.3L1118.7,945.8L1119,961.6L1119.2,953.7L1119.5,952.1L1119.7,958.1L1120,940.5L1120.3,925.4L1120.5,923.4L1120.8,907.3L1121,902.8L1121.3,900.7L1121.6,912.6L1121.8,933.3L1122.1,938.5L1122.3,948.6L1122.6,966.2L1122.9,973.2L1123.1,964.3L1123.4,937.3L1123.6,934.7L1123.9,925.9L1124.1,923.3L1124.4,925.6L1124.7,927.5L1124.9,947.6L1125.2,931.3L1125.4,935.7L1125.7,947.8L1126,939.9L1126.2,949.6L1126.5,961.6L1126.7,961.8L1127,952.3L1127.3,916.8L1127.5,901.1L1127.8,901.9L1128,902.5L1128.3,901.9L1128.6,913.6L1128.8,914.1L1129.1,929.4L1129.3,939.2L1129.6,929.4L1129.9,924.4L1130.1,921.4L1130.4,924.7L1130.6,929.9L1130.9,946L1131.2,966L1131.4,974.4L1131.7,969.8L1131.9,975.3L1132.2,974.4L1132.5,975.1L1132.7,964.8L1133,961.7L1133.2,957L1133.5,953.8L1133.8,951.5L1134,949.1L1134.3,933.2L1134.5,940.1L1134.8,953.4L1135,940.3L1135.3,938.4L1135.6,946.3L1135.8,960.1L1136.1,962.8L1136.3,962.2L1136.6,952.5L1136.9,949.1L1137.1,935.6L1137.4,919.7L1137.6,923.2L1137.9,939.9L1138.2,948.2L1138.4,941.8L1138.7,940L1138.9,931.8L1139.2,931.6L1139.5,931.8L1139.7,948.5L1140,948.4L1140.2,950.7L1140.5,943.2L1140.8,929.8L1141,944L1141.3,954.1L1141.5,962.1L1141.8,955.6L1142.1,942L1142.3,916.2L1142.6,909.8L1142.8,909.9L1143.1,910.5L1143.4,910.3L1143.6,910.5L1143.9,923.3L1144.1,941.2L1144.4,938.8L1144.6,933.5L1144.9,949.5L1145.2,955.9L1145.4,955.2L1145.7,958L1145.9,932.5L1146.2,932.8L1146.5,940.3L1146.7,944.3L1147,953.4L1147.2,955.6L1147.5,952.7L1147.8,955.1L1148,946.1L1148.3,943.6L1148.5,945L1148.8,944.3L1149.1,936.3L1149.3,948.4L1149.6,965.3L1149.8,970.4L1150.1,968.4L1150.4,954.3L1150.6,946.4L1150.9,944.6L1151.1,922.8L1151.4,911.6L1151.7,912.7L1151.9,920.7L1152.2,945L1152.4,945.7L1152.7,950.8L1153,929L1153.2,915.7L1153.5,904.6L1153.7,896.6L1154,888.2L1154.3,889.5L1154.5,899.3L1154.8,925.7L1155,926.3L1155.3,923.6L1155.5,944.5L1155.8,961.6L1156.1,957.3L1156.3,927.2L1156.6,918.8L1156.8,933.1L1157.1,951.3L1157.4,949.3L1157.6,939.3L1157.9,943.5L1158.1,925.3L1158.4,922.8L1158.7,928.2L1158.9,923.6L1159.2,919L1159.4,923.3L1159.7,932.1L1160,930.7L1160.2,941L1160.5,949.9L1160.7,951L1161,953.5L1161.3,963.9L1161.5,966.5L1161.8,945.9L1162,917.9L1162.3,910.4L1162.6,909.6L1162.8,904L1163.1,906.3L1163.3,903.4L1163.6,907.6L1163.9,922.6L1164.1,929L1164.4,927.1L1164.6,943L1164.9,953.9L1165.2,963.6L1165.4,964.7L1165.7,976.4L1165.9,965.2L1166.2,946.4L1166.4,940.1L1166.7,940.7L1167,942.7L1167.2,934.5L1167.5,933.3L1167.7,928.6L1168,940.8L1168.3,960.6L1168.5,951.6L1168.8,950.6L1169,953.9L1169.3,962.8L1169.6,959.6L1169.8,949.9L1170.1,952.1L1170.3,951L1170.6,932L1170.9,920.4L1171.1,927.9L1171.4,929.1L1171.6,934.9L1171.9,935.9L1172.2,954L1172.4,974.6L1172.7,989.9L1172.9,979.8L1173.2,964.5L1173.5,956.4L1173.7,947.9L1174,963.4L1174.2,965.4L1174.5,967.1L1174.8,958.2L1175,942.7L1175.3,923.3L1175.5,918.3L1175.8,924.2L1176.1,920.4L1176.3,923.9L1176.6,920.6L1176.8,931.4L1177.1,915.6L1177.3,907.9L1177.6,900.4L1177.9,905.9L1178.1,935.2L1178.4,952.7L1178.6,959.4L1178.9,960.4L1179.2,948.9L1179.4,956.6L1179.7,966.6L1179.9,970.8L1180.2,967.1L1180.5,981.3L1180.7,980.2L1181,964.9L1181.2,952.9L1181.5,954.3L1181.8,941.3L1182,931.8L1182.3,912.3L1182.5,912.9L1182.8,910L1183.1,909.6L1183.3,913.4L1183.6,910.6L1183.8,912.5L1184.1,926.1L1184.4,954.1L1184.6,956.8L1184.9,950.7L1185.1,950L1185.4,921.4L1185.7,916.2L1185.9,913.7L1186.2,920.5L1186.4,945.5L1186.7,970.7L1186.9,969.3L1187.2,968.1L1187.5,941.7L1187.7,931.8L1188,927.1L1188.2,922L1188.5,920.7L1188.8,917.9L1189,925L1189.3,956.8L1189.5,980.5L1189.8,991.6L1190.1,985.8L1190.3,989.9L1190.6,990.8L1190.8,987.7L1191.1,980.4L1191.4,970L1191.6,961.1L1191.9,960.3L1192.1,951.1L1192.4,933.8L1192.7,926.1L1192.9,923.1L1193.2,930L1193.4,920.2L1193.7,914.9L1194,912L1194.2,898.6L1194.5,895.4L1194.7,917.6L1195,937.5L1195.3,949.4L1195.5,958.3L1195.8,954L1196,952.6L1196.3,964.1L1196.6,963.5L1196.8,952.8L1197.1,959.8L1197.3,955.2L1197.6,948.8L1197.8,946.4L1198.1,943.8L1198.4,950L1198.6,947.8L1198.9,954L1199.1,947.3L1199.4,928.6L1199.7,922.4L1199.9,923.4L1200.2,907.9L1200.4,891.6L1200.7,872.4L1201,866.3L1201.2,878.3L1201.5,885.9L1201.7,899.4L1202,910.6L1202.3,922L1202.5,903.2L1202.8,890.5L1203,872.5L1203.3,881.4L1203.6,893.1L1203.8,936.5L1204.1,958.4L1204.3,950.1L1204.6,954.1L1204.9,953.9L1205.1,961.5L1205.4,976.8L1205.6,957.3L1205.9,934.3L1206.2,924.5L1206.4,924.7L1206.7,928.8L1206.9,922.4L1207.2,907.9L1207.5,908.1L1207.7,909.1L1208,907.2L1208.2,907.7L1208.5,916.3L1208.7,942.4L1209,955.7L1209.3,966.5L1209.5,969.1L1209.8,970.9L1210,967.9L1210.3,960.6L1210.6,957.2L1210.8,961.1L1211.1,934.7L1211.3,927.5L1211.6,919.8L1211.9,912.7L1212.1,914.3L1212.4,909.3L1212.6,908L1212.9,904.7L1213.2,906.3L1213.4,911L1213.7,938.1L1213.9,955.1L1214.2,961.3L1214.5,959.7L1214.7,955.6L1215,956.8L1215.2,950.6L1215.5,931.1L1215.8,931.3L1216,948.2L1216.3,955.7L1216.5,956.5L1216.8,949.4L1217.1,958.4L1217.3,963.4L1217.6,964.5L1217.8,965.4L1218.1,964.5L1218.3,958.2L1218.6,952L1218.9,942.8L1219.1,939.5L1219.4,946.5L1219.6,946.7L1219.9,953.7L1220.2,946.4L1220.4,941.5L1220.7,937.9L1220.9,941L1221.2,944.6L1221.5,940.7L1221.7,943.6L1222,947.4L1222.2,958.7L1222.5,943.8L1222.8,952.9L1223,963.7L1223.3,958.7L1223.5,949.2L1223.8,931.6L1224.1,935.6L1224.3,941L1224.6,931.6L1224.8,924.1L1225.1,917.3L1225.4,932.3L1225.6,943.5L1225.9,928.2L1226.1,930.4L1226.4,941.6L1226.7,944.4L1226.9,922.5L1227.2,916.7L1227.4,934.4L1227.7,944.9L1228,940.6L1228.2,935.1L1228.5,931L1228.7,933.3L1229,926.4L1229.2,935L1229.5,940.4L1229.8,938L1230,949.3L1230.3,949.1L1230.5,933.9L1230.8,953.8L1231.1,965.7L1231.3,968.1L1231.6,965.5L1231.8,964.4L1232.1,963.6L1232.4,950.6L1232.6,933.3L1232.9,930.4L1233.1,934.9L1233.4,935.7L1233.7,939.7L1233.9,945L1234.2,942.2L1234.4,936.8L1234.7,920.3L1235,919.7L1235.2,925L1235.5,930.6L1235.7,937.3L1236,937.1L1236.3,932.9L1236.5,944.5L1236.8,945.4L1237,931.9L1237.3,927.5L1237.6,935.1L1237.8,924.3L1238.1,928.3L1238.3,930.3L1238.6,927.8L1238.9,940.2L1239.1,945L1239.4,941.8L1239.6,931.8L1239.9,938.1L1240.1,939.5L1240.4,925.4L1240.7,914.4L1240.9,908.7L1241.2,910.6L1241.4,912.8L1241.7,914.1L1242,931.6L1242.2,946.4L1242.5,940.6L1242.7,936.1L1243,957.8L1243.3,963.7L1243.5,944.5L1243.8,923.7L1244,926.8L1244.3,914.8L1244.6,912.8L1244.8,907.8L1245.1,906.5L1245.3,912.5L1245.6,912.3L1245.9,916.6L1246.1,918.7L1246.4,938.4L1246.6,926.8L1246.9,926.3L1247.2,933L1247.4,935.7L1247.7,963.5L1247.9,970.3L1248.2,970.3L1248.5,972L1248.7,974L1249,949.5L1249.2,931.5L1249.5,930.6L1249.8,957.9L1250,955.7L1250.3,950.5L1250.5,943.8L1250.8,953.1L1251,943.9L1251.3,914L1251.6,913.9L1251.8,922.9L1252.1,921.7L1252.3,923.5L1252.6,920.8L1252.9,925.2L1253.1,948.7L1253.4,940.5L1253.6,948.8L1253.9,949.1L1254.2,943.2L1254.4,947.7L1254.7,946L1254.9,950.3L1255.2,950.5"/>
<rect class="ax" x="918.1" y="807.6" width="337.1" height="266"/>
<path class="t" d="M1002.4,1073.6v-4.5 M1002.4,807.6v4.5M1086.7,1073.6v-4.5 M1086.7,807.6v4.5M1170.9,1073.6v-4.5 M1170.9,807.6v4.5M918.1,874.1h4.5 M1255.2,874.1h-4.5M918.1,940.6h4.5 M1255.2,940.6h-4.5M918.1,1007.1h4.5 M1255.2,1007.1h-4.5"/>
<text class="tk" x="918.1" y="1099" text-anchor="middle">0</text>
<text class="tk" x="1002.4" y="1099" text-anchor="middle">1</text>
<text class="tk" x="1086.7" y="1099" text-anchor="middle">2</text>
<text class="tk" x="1170.9" y="1099" text-anchor="middle">3</text>
<text class="tk" x="1255.2" y="1099" text-anchor="middle">4</text>
<text class="tk" x="911.1" y="815.1" text-anchor="end">4</text>
<text class="tk" x="911.1" y="881.6" text-anchor="end">2</text>
<text class="tk" x="911.1" y="948.1" text-anchor="end">0</text>
<text class="tk" x="911.1" y="1014.6" text-anchor="end">-2</text>
<text class="tk" x="911.1" y="1081.1" text-anchor="end">-4</text>
<text class="al" x="1076.5" y="1121.8" text-anchor="middle">Time(t/s)</text>
<text class="yl" transform="translate(883.2,926.6) rotate(-90)" text-anchor="middle">Amplitude (m<tspan dx="3" dy="-1">·</tspan><tspan dx="3" dy="1">s</tspan><tspan font-size="17px" dy="-12">−2</tspan><tspan dy="12" dx="4">)</tspan></text>
</g>
<g id="spec-f">
<clipPath id="sf"><rect x="1356" y="810.8" width="297.3" height="261.2"/></clipPath>
<g clip-path="url(#sf)">
<g filter="url(#pm)"><rect x="1356" y="810.8" width="297.3" height="261.2" fill="url(#gf)"/><rect x="1356" y="810.8" width="297.3" height="261.2" fill="url(#ef0)" filter="url(#ff0)"/><rect x="1356" y="810.8" width="297.3" height="261.2" fill="url(#ef1)" filter="url(#ff1)"/><rect x="1356" y="810.8" width="297.3" height="261.2" fill="url(#ef2)" filter="url(#ff2)"/><rect x="1356" y="810.8" width="297.3" height="261.2" fill="url(#ef3)" filter="url(#ff3)"/><g filter="url(#bl)" fill="#fff"><ellipse cx="1396" cy="1045" rx="5.5" ry="1.8" opacity=".9"/><ellipse cx="1470.9" cy="1043.6" rx="3" ry="2.5" opacity=".85"/><ellipse cx="1531.4" cy="1044.5" rx="5" ry="1.4" opacity=".9"/><ellipse cx="1566.6" cy="1047.2" rx="4.5" ry="1.3" opacity=".9"/><ellipse cx="1619" cy="1044" rx="3.5" ry="1.8" opacity=".77"/><ellipse cx="1505.2" cy="1054" rx="4" ry="1.5" opacity=".63"/><ellipse cx="1395" cy="1050" rx="4" ry="1.5" opacity=".59"/><ellipse cx="1579.2" cy="1044.5" rx="4" ry="1.6" opacity=".59"/><ellipse cx="1561" cy="1054.4" rx="5" ry="1.5" opacity=".54"/><ellipse cx="1638.8" cy="1053.5" rx="5" ry="1.8" opacity=".54"/><ellipse cx="1388.8" cy="1031" rx="4" ry="3" opacity=".36"/><ellipse cx="1424" cy="1033.7" rx="3.5" ry="3" opacity=".36"/><ellipse cx="1404" cy="1021" rx="3" ry="3.5" opacity=".29"/><ellipse cx="1384.3" cy="1009.3" rx="3" ry="3.5" opacity=".25"/><ellipse cx="1492.6" cy="1008.4" rx="4" ry="4" opacity=".23"/><ellipse cx="1564.8" cy="1009.3" rx="3.5" ry="4" opacity=".27"/><ellipse cx="1568.4" cy="1028.2" rx="3.5" ry="3" opacity=".34"/><ellipse cx="1637" cy="1008.4" rx="3.5" ry="4.5" opacity=".31"/><ellipse cx="1617.1" cy="1017.4" rx="3" ry="3.5" opacity=".29"/><ellipse cx="1642.4" cy="1020.1" rx="3" ry="4" opacity=".29"/><ellipse cx="1638.8" cy="1036.4" rx="4" ry="3" opacity=".32"/><ellipse cx="1590" cy="1036.4" rx="4" ry="3" opacity=".31"/><ellipse cx="1452.9" cy="1008.4" rx="3" ry="4" opacity=".2"/><ellipse cx="1368" cy="1012.9" rx="3" ry="4" opacity=".2"/><ellipse cx="1440" cy="1044" rx="6" ry="2" opacity=".45"/><ellipse cx="1500" cy="1045" rx="6" ry="2" opacity=".41"/><ellipse cx="1370" cy="1044" rx="6" ry="2" opacity=".45"/></g><g filter="url(#bs)" fill="#fff"><ellipse cx="1472.7" cy="1053" rx="7" ry="1" opacity=".9"/><ellipse cx="1472.7" cy="1058" rx="10" ry="1" opacity=".9"/><ellipse cx="1507" cy="1057.7" rx="6" ry="1" opacity=".85"/><ellipse cx="1600.9" cy="1054.8" rx="10" ry="0.9" opacity=".9"/><ellipse cx="1610" cy="1063.4" rx="13" ry="0.8" opacity=".9"/><ellipse cx="1409.6" cy="1067.4" rx="15" ry="0.7" opacity=".9"/><ellipse cx="1368" cy="1063" rx="12" ry="0.8" opacity=".63"/><ellipse cx="1440" cy="1061" rx="14" ry="0.9" opacity=".5"/><ellipse cx="1545" cy="1060" rx="14" ry="0.9" opacity=".5"/><ellipse cx="1420" cy="1055" rx="12" ry="1" opacity=".45"/></g><g filter="url(#bv)" fill="#fff"><ellipse cx="1537.5" cy="930" rx="0.8" ry="14" opacity=".09"/><ellipse cx="1476" cy="925" rx="0.7" ry="14" opacity=".05"/><ellipse cx="1510" cy="920" rx="0.7" ry="14" opacity=".05"/><ellipse cx="1415" cy="918" rx="0.7" ry="12" opacity=".05"/><ellipse cx="1398" cy="920" rx="0.7" ry="12" opacity=".04"/></g></g>
</g>
<rect class="ax" x="1356" y="810.8" width="297.3" height="261.2"/>
<path class="t" d="M1427.1,1072v-4 M1427.1,810.8v4M1498.2,1072v-4 M1498.2,810.8v4M1569.3,1072v-4 M1569.3,810.8v4M1640.7,1072v-4 M1640.7,810.8v4M1356,863.3h4 M1653.3,863.3h-4M1356,915.8h4 M1653.3,915.8h-4M1356,968.2h4 M1653.3,968.2h-4M1356,1020.6h4 M1653.3,1020.6h-4"/>
<text class="tk ts" x="1356" y="1098.6" text-anchor="middle">0</text>
<text class="tk ts" x="1427.1" y="1098.6" text-anchor="middle">1</text>
<text class="tk ts" x="1498.2" y="1098.6" text-anchor="middle">2</text>
<text class="tk ts" x="1569.3" y="1098.6" text-anchor="middle">3</text>
<text class="tk ts" x="1640.7" y="1098.6" text-anchor="middle">4</text>
<text class="tk ts" x="1349" y="818.3" text-anchor="end">500</text>
<text class="tk ts" x="1349" y="870.8" text-anchor="end">400</text>
<text class="tk ts" x="1349" y="923.3" text-anchor="end">300</text>
<text class="tk ts" x="1349" y="975.7" text-anchor="end">200</text>
<text class="tk ts" x="1349" y="1028.1" text-anchor="end">100</text>
<text class="al" x="1505.5" y="1121.8" text-anchor="middle">Time(t/s)</text>
<text class="yf" transform="translate(1306.9,950.9) rotate(-90)" text-anchor="middle">Frequency(Hz)</text>
<rect x="1661.3" y="810.8" width="16.2" height="261.2" fill="url(#cb)"/>
<rect x="1661.3" y="810.8" width="16.2" height="261.2" fill="none" stroke="#1e1e1e" stroke-width="0.6" stroke-opacity="0.55"/>
<text class="tk" x="1683.5" y="850.3">0.25</text>
<text class="tk" x="1683.5" y="896.2">0.2</text>
<text class="tk" x="1683.5" y="941.7">0.15</text>
<text class="tk" x="1683.5" y="987.8">0.1</text>
<text class="tk" x="1683.5" y="1033.6">0.05</text>
<path class="t" style="stroke-width:1.3" d="M1677.5,843.1h-4M1677.5,889h-4M1677.5,934.5h-4M1677.5,980.6h-4M1677.5,1026.4h-4"/>
</g>
<text class="cp" x="276" y="367.8">(a) Original signal</text>
<text class="cp" x="1146" y="367.8">(b) Soft threshold</text>
<text class="cp" x="276" y="773.8">(c) Hard threshold</text>
<text class="cp" x="1128" y="773.8">(d) Feng et al. (2022)</text>
<text class="cp" x="358" y="1166.8">(e) SVD</text>
<text class="cp" x="1148" y="1166.8">(f) Proposed method</text>
</svg></body></html>
